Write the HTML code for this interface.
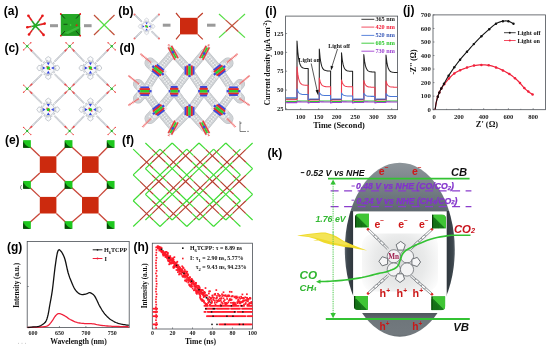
<!DOCTYPE html>
<html><head><meta charset="utf-8"><style>
html,body{margin:0;padding:0;background:#fff;}
svg{display:block;will-change:transform;}
</style></head><body>
<svg width="550" height="349" viewBox="0 0 550 349">
<rect width="550" height="349" fill="#fff"/>
<text x="3.80" y="15.20" font-size="12" fill="#000" font-weight="bold" font-family='"Liberation Sans", sans-serif' text-anchor="start" font-style="normal" >(a)</text>
<text x="118.20" y="15.20" font-size="12" fill="#000" font-weight="bold" font-family='"Liberation Sans", sans-serif' text-anchor="start" font-style="normal" >(b)</text>
<text x="4.40" y="52.10" font-size="12" fill="#000" font-weight="bold" font-family='"Liberation Sans", sans-serif' text-anchor="start" font-style="normal" >(c)</text>
<text x="119.40" y="51.90" font-size="12" fill="#000" font-weight="bold" font-family='"Liberation Sans", sans-serif' text-anchor="start" font-style="normal" >(d)</text>
<text x="4.90" y="143.70" font-size="12" fill="#000" font-weight="bold" font-family='"Liberation Sans", sans-serif' text-anchor="start" font-style="normal" >(e)</text>
<text x="121.90" y="144.20" font-size="12" fill="#000" font-weight="bold" font-family='"Liberation Sans", sans-serif' text-anchor="start" font-style="normal" >(f)</text>
<text x="6.90" y="251.00" font-size="12" fill="#000" font-weight="bold" font-family='"Liberation Sans", sans-serif' text-anchor="start" font-style="normal" >(g)</text>
<text x="133.50" y="250.90" font-size="12" fill="#000" font-weight="bold" font-family='"Liberation Sans", sans-serif' text-anchor="start" font-style="normal" >(h)</text>
<text x="265.30" y="15.20" font-size="12" fill="#000" font-weight="bold" font-family='"Liberation Sans", sans-serif' text-anchor="start" font-style="normal" >(i)</text>
<text x="403.10" y="13.90" font-size="12" fill="#000" font-weight="bold" font-family='"Liberation Sans", sans-serif' text-anchor="start" font-style="normal" >(j)</text>
<text x="267.50" y="157.20" font-size="12" fill="#000" font-weight="bold" font-family='"Liberation Sans", sans-serif' text-anchor="start" font-style="normal" >(k)</text>
<line x1="35.40" y1="25.70" x2="31.90" y2="20.70" stroke="#2aa02a" stroke-width="1.6" />
<line x1="31.90" y1="20.70" x2="28.40" y2="15.70" stroke="#e02020" stroke-width="1.6" />
<circle cx="28.40" cy="15.70" r="1.3" fill="#e81818" />
<line x1="35.40" y1="25.70" x2="38.95" y2="20.70" stroke="#2aa02a" stroke-width="1.6" />
<line x1="38.95" y1="20.70" x2="42.50" y2="15.70" stroke="#e02020" stroke-width="1.6" />
<circle cx="42.50" cy="15.70" r="1.3" fill="#e81818" />
<line x1="35.40" y1="25.70" x2="31.35" y2="26.50" stroke="#2aa02a" stroke-width="1.6" />
<line x1="31.35" y1="26.50" x2="27.30" y2="27.30" stroke="#e02020" stroke-width="1.6" />
<circle cx="27.30" cy="27.30" r="1.3" fill="#e81818" />
<line x1="35.40" y1="25.70" x2="40.05" y2="24.65" stroke="#2aa02a" stroke-width="1.6" />
<line x1="40.05" y1="24.65" x2="44.70" y2="23.60" stroke="#e02020" stroke-width="1.6" />
<circle cx="44.70" cy="23.60" r="1.3" fill="#e81818" />
<line x1="35.40" y1="25.70" x2="32.20" y2="30.10" stroke="#2aa02a" stroke-width="1.6" />
<line x1="32.20" y1="30.10" x2="29.00" y2="34.50" stroke="#e02020" stroke-width="1.6" />
<circle cx="29.00" cy="34.50" r="1.3" fill="#e81818" />
<line x1="35.40" y1="25.70" x2="39.50" y2="30.30" stroke="#2aa02a" stroke-width="1.6" />
<line x1="39.50" y1="30.30" x2="43.60" y2="34.90" stroke="#e02020" stroke-width="1.6" />
<circle cx="43.60" cy="34.90" r="1.3" fill="#e81818" />
<circle cx="35.40" cy="25.70" r="1.9" fill="#22b022" />
<rect x="50" y="24.2" width="8" height="3" fill="#9a9a9a"/>
<rect x="84" y="24.2" width="7.6" height="3" fill="#9a9a9a"/>
<rect x="60.8" y="14" width="19.4" height="21.7" fill="#27a827"/>
<polygon points="60.80,35.70 80.20,35.70 80.20,27.00 70.50,31.00" fill="#1f961f" stroke="none" stroke-width="1" />
<polygon points="64.00,33.00 78.00,26.50 80.00,28.00 68.00,34.00" fill="#3cbc3c" stroke="none" stroke-width="1" />
<line x1="60.80" y1="14.00" x2="64.87" y2="18.54" stroke="#0c2e0c" stroke-width="0.8" />
<circle cx="60.80" cy="14.00" r="0.9" fill="#e81818" />
<line x1="80.20" y1="14.00" x2="76.13" y2="18.54" stroke="#0c2e0c" stroke-width="0.8" />
<circle cx="80.20" cy="14.00" r="0.9" fill="#e81818" />
<line x1="60.80" y1="35.70" x2="64.87" y2="31.12" stroke="#0c2e0c" stroke-width="0.8" />
<circle cx="60.80" cy="35.70" r="0.9" fill="#e81818" />
<line x1="80.20" y1="35.70" x2="76.13" y2="31.12" stroke="#0c2e0c" stroke-width="0.8" />
<circle cx="80.20" cy="35.70" r="0.9" fill="#e81818" />
<line x1="63.50" y1="24.30" x2="67.50" y2="24.30" stroke="#0c2e0c" stroke-width="0.7" />
<circle cx="70.60" cy="25.00" r="0.8" fill="#44dd44" />
<circle cx="76.60" cy="25.30" r="0.95" fill="#e81818" />
<line x1="104.20" y1="25.00" x2="99.10" y2="20.00" stroke="#55dd44" stroke-width="1.2" />
<line x1="99.10" y1="20.00" x2="94.00" y2="15.00" stroke="#c0503a" stroke-width="1.2" />
<line x1="104.20" y1="25.00" x2="109.35" y2="20.00" stroke="#55dd44" stroke-width="1.2" />
<line x1="109.35" y1="20.00" x2="114.50" y2="15.00" stroke="#c0503a" stroke-width="1.2" />
<line x1="104.20" y1="25.00" x2="99.10" y2="30.00" stroke="#55dd44" stroke-width="1.2" />
<line x1="99.10" y1="30.00" x2="94.00" y2="35.00" stroke="#c0503a" stroke-width="1.2" />
<line x1="104.20" y1="25.00" x2="109.35" y2="30.00" stroke="#55dd44" stroke-width="1.2" />
<line x1="109.35" y1="30.00" x2="114.50" y2="35.00" stroke="#c0503a" stroke-width="1.2" />
<line x1="141.76" y1="21.64" x2="134.50" y2="14.50" stroke="#e2e4e8" stroke-width="1.4" />
<line x1="142.22" y1="21.18" x2="134.96" y2="14.04" stroke="#a4a8b0" stroke-width="0.45" />
<line x1="141.30" y1="22.10" x2="134.04" y2="14.96" stroke="#a4a8b0" stroke-width="0.45" />
<line x1="141.76" y1="21.64" x2="134.50" y2="14.50" stroke="#b8bcc4" stroke-width="1.1" stroke-dasharray="0.6 1.2"/>
<circle cx="134.50" cy="14.50" r="1.0" fill="#f07070" />
<line x1="151.56" y1="21.64" x2="159.00" y2="14.50" stroke="#e2e4e8" stroke-width="1.4" />
<line x1="152.01" y1="22.11" x2="159.45" y2="14.97" stroke="#a4a8b0" stroke-width="0.45" />
<line x1="151.11" y1="21.17" x2="158.55" y2="14.03" stroke="#a4a8b0" stroke-width="0.45" />
<line x1="151.56" y1="21.64" x2="159.00" y2="14.50" stroke="#b8bcc4" stroke-width="1.1" stroke-dasharray="0.6 1.2"/>
<circle cx="159.00" cy="14.50" r="1.0" fill="#f07070" />
<line x1="141.76" y1="31.28" x2="134.50" y2="38.60" stroke="#e2e4e8" stroke-width="1.4" />
<line x1="141.30" y1="30.82" x2="134.04" y2="38.14" stroke="#a4a8b0" stroke-width="0.45" />
<line x1="142.22" y1="31.74" x2="134.96" y2="39.06" stroke="#a4a8b0" stroke-width="0.45" />
<line x1="141.76" y1="31.28" x2="134.50" y2="38.60" stroke="#b8bcc4" stroke-width="1.1" stroke-dasharray="0.6 1.2"/>
<circle cx="134.50" cy="38.60" r="1.0" fill="#f07070" />
<line x1="151.56" y1="31.28" x2="159.00" y2="38.60" stroke="#e2e4e8" stroke-width="1.4" />
<line x1="151.10" y1="31.74" x2="158.54" y2="39.06" stroke="#a4a8b0" stroke-width="0.45" />
<line x1="152.02" y1="30.82" x2="159.46" y2="38.14" stroke="#a4a8b0" stroke-width="0.45" />
<line x1="151.56" y1="31.28" x2="159.00" y2="38.60" stroke="#b8bcc4" stroke-width="1.1" stroke-dasharray="0.6 1.2"/>
<circle cx="159.00" cy="38.60" r="1.0" fill="#f07070" />
<circle cx="146.6" cy="26.4" r="4.46" fill="#f7f8fa" stroke="#b4b9c2" stroke-width="0.54"/>
<polygon points="146.60,18.12 148.59,19.56 147.83,21.90 145.37,21.90 144.61,19.56" fill="#fafbfc" stroke="#b4b9c2" stroke-width="0.54" />
<polygon points="154.88,26.40 153.44,28.39 151.10,27.63 151.10,25.17 153.44,24.41" fill="#fafbfc" stroke="#b4b9c2" stroke-width="0.54" />
<polygon points="146.60,34.68 144.61,33.24 145.37,30.90 147.83,30.90 148.59,33.24" fill="#fafbfc" stroke="#b4b9c2" stroke-width="0.54" />
<polygon points="138.32,26.40 139.76,24.41 142.10,25.17 142.10,27.63 139.76,28.39" fill="#fafbfc" stroke="#b4b9c2" stroke-width="0.54" />
<circle cx="146.6" cy="26.4" r="5.33" fill="none" stroke="#c4c8cf" stroke-width="0.86" stroke-dasharray="1.58 1.01"/>
<polygon points="148.62,26.40 150.56,25.28 150.56,27.52" fill="#2f3fe0" stroke="none" stroke-width="1" />
<polygon points="146.60,28.42 147.72,30.36 145.48,30.36" fill="#2f3fe0" stroke="none" stroke-width="1" />
<polygon points="144.58,26.40 142.64,27.52 142.64,25.28" fill="#2f3fe0" stroke="none" stroke-width="1" />
<polygon points="146.60,24.38 145.48,22.44 147.72,22.44" fill="#2f3fe0" stroke="none" stroke-width="1" />
<circle cx="146.60" cy="26.40" r="1.224" fill="#22cc22" />
<circle cx="145.66" cy="25.46" r="0.504" fill="#ee2222" />
<circle cx="147.61" cy="27.41" r="0.504" fill="#ee2222" />
<rect x="162.8" y="23.7" width="7.7" height="3" fill="#9a9a9a"/>
<rect x="207" y="23.7" width="8.5" height="3" fill="#9a9a9a"/>
<line x1="180.00" y1="17.80" x2="176.00" y2="13.00" stroke="#c03c28" stroke-width="1.2" />
<line x1="197.70" y1="17.80" x2="202.80" y2="13.00" stroke="#c03c28" stroke-width="1.2" />
<line x1="180.00" y1="34.40" x2="176.00" y2="39.40" stroke="#c03c28" stroke-width="1.2" />
<line x1="197.70" y1="34.40" x2="202.80" y2="39.40" stroke="#c03c28" stroke-width="1.2" />
<rect x="180" y="17.8" width="17.7" height="16.6" fill="#cc2a10"/>
<line x1="232.00" y1="25.80" x2="225.50" y2="19.90" stroke="#c0503a" stroke-width="1.2" />
<line x1="225.50" y1="19.90" x2="219.00" y2="14.00" stroke="#55dd44" stroke-width="1.2" />
<line x1="232.00" y1="25.80" x2="238.50" y2="19.90" stroke="#c0503a" stroke-width="1.2" />
<line x1="238.50" y1="19.90" x2="245.00" y2="14.00" stroke="#55dd44" stroke-width="1.2" />
<line x1="232.00" y1="25.80" x2="225.50" y2="31.70" stroke="#c0503a" stroke-width="1.2" />
<line x1="225.50" y1="31.70" x2="219.00" y2="37.60" stroke="#55dd44" stroke-width="1.2" />
<line x1="232.00" y1="25.80" x2="238.50" y2="31.70" stroke="#c0503a" stroke-width="1.2" />
<line x1="238.50" y1="31.70" x2="245.00" y2="37.60" stroke="#55dd44" stroke-width="1.2" />
<line x1="42.03" y1="61.55" x2="29.64" y2="48.81" stroke="#e2e4e8" stroke-width="1.4" />
<line x1="42.49" y1="61.09" x2="30.11" y2="48.36" stroke="#aeb2ba" stroke-width="0.45" />
<line x1="41.56" y1="62.00" x2="29.17" y2="49.26" stroke="#aeb2ba" stroke-width="0.45" />
<line x1="42.03" y1="61.55" x2="29.64" y2="48.81" stroke="#b8bcc4" stroke-width="1.1" stroke-dasharray="0.6 1.2"/>
<circle cx="31.52" cy="50.75" r="0.9" fill="#f04848" />
<line x1="41.88" y1="74.30" x2="29.70" y2="86.25" stroke="#e2e4e8" stroke-width="1.4" />
<line x1="41.42" y1="73.84" x2="29.24" y2="85.78" stroke="#aeb2ba" stroke-width="0.45" />
<line x1="42.33" y1="74.77" x2="30.15" y2="86.71" stroke="#aeb2ba" stroke-width="0.45" />
<line x1="41.88" y1="74.30" x2="29.70" y2="86.25" stroke="#b8bcc4" stroke-width="1.1" stroke-dasharray="0.6 1.2"/>
<circle cx="31.63" cy="84.36" r="0.9" fill="#f04848" />
<line x1="54.60" y1="61.58" x2="67.15" y2="48.80" stroke="#e2e4e8" stroke-width="1.4" />
<line x1="55.07" y1="62.03" x2="67.61" y2="49.25" stroke="#aeb2ba" stroke-width="0.45" />
<line x1="54.14" y1="61.12" x2="66.68" y2="48.34" stroke="#aeb2ba" stroke-width="0.45" />
<line x1="54.60" y1="61.58" x2="67.15" y2="48.80" stroke="#b8bcc4" stroke-width="1.1" stroke-dasharray="0.6 1.2"/>
<circle cx="65.26" cy="50.72" r="0.9" fill="#f04848" />
<line x1="54.75" y1="74.27" x2="67.09" y2="86.26" stroke="#e2e4e8" stroke-width="1.4" />
<line x1="54.30" y1="74.74" x2="66.64" y2="86.73" stroke="#aeb2ba" stroke-width="0.45" />
<line x1="55.21" y1="73.81" x2="67.54" y2="85.79" stroke="#aeb2ba" stroke-width="0.45" />
<line x1="54.75" y1="74.27" x2="67.09" y2="86.26" stroke="#b8bcc4" stroke-width="1.1" stroke-dasharray="0.6 1.2"/>
<circle cx="65.15" cy="84.38" r="0.9" fill="#f04848" />
<line x1="41.91" y1="103.27" x2="29.69" y2="91.16" stroke="#e2e4e8" stroke-width="1.4" />
<line x1="42.36" y1="102.80" x2="30.14" y2="90.70" stroke="#aeb2ba" stroke-width="0.45" />
<line x1="41.45" y1="103.73" x2="29.23" y2="91.62" stroke="#aeb2ba" stroke-width="0.45" />
<line x1="41.91" y1="103.27" x2="29.69" y2="91.16" stroke="#b8bcc4" stroke-width="1.1" stroke-dasharray="0.6 1.2"/>
<circle cx="31.60" cy="93.06" r="0.9" fill="#f04848" />
<line x1="41.98" y1="116.01" x2="29.66" y2="128.51" stroke="#e2e4e8" stroke-width="1.4" />
<line x1="41.52" y1="115.55" x2="29.19" y2="128.05" stroke="#aeb2ba" stroke-width="0.45" />
<line x1="42.44" y1="116.47" x2="30.12" y2="128.96" stroke="#aeb2ba" stroke-width="0.45" />
<line x1="41.98" y1="116.01" x2="29.66" y2="128.51" stroke="#b8bcc4" stroke-width="1.1" stroke-dasharray="0.6 1.2"/>
<circle cx="31.55" cy="126.59" r="0.9" fill="#f04848" />
<line x1="54.72" y1="103.30" x2="67.10" y2="91.15" stroke="#e2e4e8" stroke-width="1.4" />
<line x1="55.18" y1="103.76" x2="67.56" y2="91.62" stroke="#aeb2ba" stroke-width="0.45" />
<line x1="54.27" y1="102.83" x2="66.65" y2="90.69" stroke="#aeb2ba" stroke-width="0.45" />
<line x1="54.72" y1="103.30" x2="67.10" y2="91.15" stroke="#b8bcc4" stroke-width="1.1" stroke-dasharray="0.6 1.2"/>
<circle cx="65.17" cy="93.04" r="0.9" fill="#f04848" />
<line x1="54.65" y1="115.98" x2="67.13" y2="128.52" stroke="#e2e4e8" stroke-width="1.4" />
<line x1="54.19" y1="116.44" x2="66.67" y2="128.98" stroke="#aeb2ba" stroke-width="0.45" />
<line x1="55.11" y1="115.52" x2="67.59" y2="128.06" stroke="#aeb2ba" stroke-width="0.45" />
<line x1="54.65" y1="115.98" x2="67.13" y2="128.52" stroke="#b8bcc4" stroke-width="1.1" stroke-dasharray="0.6 1.2"/>
<circle cx="65.23" cy="126.61" r="0.9" fill="#f04848" />
<line x1="84.17" y1="61.50" x2="72.02" y2="48.83" stroke="#e2e4e8" stroke-width="1.4" />
<line x1="84.64" y1="61.05" x2="72.49" y2="48.38" stroke="#aeb2ba" stroke-width="0.45" />
<line x1="83.70" y1="61.95" x2="71.55" y2="49.28" stroke="#aeb2ba" stroke-width="0.45" />
<line x1="84.17" y1="61.50" x2="72.02" y2="48.83" stroke="#b8bcc4" stroke-width="1.1" stroke-dasharray="0.6 1.2"/>
<circle cx="73.89" cy="50.78" r="0.9" fill="#f04848" />
<line x1="84.02" y1="74.35" x2="72.08" y2="86.23" stroke="#e2e4e8" stroke-width="1.4" />
<line x1="83.56" y1="73.89" x2="71.62" y2="85.77" stroke="#aeb2ba" stroke-width="0.45" />
<line x1="84.48" y1="74.81" x2="72.54" y2="86.69" stroke="#aeb2ba" stroke-width="0.45" />
<line x1="84.02" y1="74.35" x2="72.08" y2="86.23" stroke="#b8bcc4" stroke-width="1.1" stroke-dasharray="0.6 1.2"/>
<circle cx="73.99" cy="84.33" r="0.9" fill="#f04848" />
<line x1="96.70" y1="61.58" x2="109.25" y2="48.80" stroke="#e2e4e8" stroke-width="1.4" />
<line x1="97.17" y1="62.03" x2="109.71" y2="49.25" stroke="#aeb2ba" stroke-width="0.45" />
<line x1="96.24" y1="61.12" x2="108.78" y2="48.34" stroke="#aeb2ba" stroke-width="0.45" />
<line x1="96.70" y1="61.58" x2="109.25" y2="48.80" stroke="#b8bcc4" stroke-width="1.1" stroke-dasharray="0.6 1.2"/>
<circle cx="107.36" cy="50.72" r="0.9" fill="#f04848" />
<line x1="96.85" y1="74.27" x2="109.19" y2="86.26" stroke="#e2e4e8" stroke-width="1.4" />
<line x1="96.40" y1="74.74" x2="108.74" y2="86.73" stroke="#aeb2ba" stroke-width="0.45" />
<line x1="97.31" y1="73.81" x2="109.64" y2="85.79" stroke="#aeb2ba" stroke-width="0.45" />
<line x1="96.85" y1="74.27" x2="109.19" y2="86.26" stroke="#b8bcc4" stroke-width="1.1" stroke-dasharray="0.6 1.2"/>
<circle cx="107.25" cy="84.38" r="0.9" fill="#f04848" />
<line x1="84.05" y1="103.22" x2="72.07" y2="91.18" stroke="#e2e4e8" stroke-width="1.4" />
<line x1="84.51" y1="102.76" x2="72.53" y2="90.72" stroke="#aeb2ba" stroke-width="0.45" />
<line x1="83.59" y1="103.68" x2="71.61" y2="91.64" stroke="#aeb2ba" stroke-width="0.45" />
<line x1="84.05" y1="103.22" x2="72.07" y2="91.18" stroke="#b8bcc4" stroke-width="1.1" stroke-dasharray="0.6 1.2"/>
<circle cx="73.97" cy="93.09" r="0.9" fill="#f04848" />
<line x1="84.13" y1="116.05" x2="72.04" y2="128.49" stroke="#e2e4e8" stroke-width="1.4" />
<line x1="83.66" y1="115.60" x2="71.57" y2="128.04" stroke="#aeb2ba" stroke-width="0.45" />
<line x1="84.59" y1="116.51" x2="72.51" y2="128.94" stroke="#aeb2ba" stroke-width="0.45" />
<line x1="84.13" y1="116.05" x2="72.04" y2="128.49" stroke="#b8bcc4" stroke-width="1.1" stroke-dasharray="0.6 1.2"/>
<circle cx="73.92" cy="126.55" r="0.9" fill="#f04848" />
<line x1="96.82" y1="103.30" x2="109.20" y2="91.15" stroke="#e2e4e8" stroke-width="1.4" />
<line x1="97.28" y1="103.76" x2="109.66" y2="91.62" stroke="#aeb2ba" stroke-width="0.45" />
<line x1="96.37" y1="102.83" x2="108.75" y2="90.69" stroke="#aeb2ba" stroke-width="0.45" />
<line x1="96.82" y1="103.30" x2="109.20" y2="91.15" stroke="#b8bcc4" stroke-width="1.1" stroke-dasharray="0.6 1.2"/>
<circle cx="107.27" cy="93.04" r="0.9" fill="#f04848" />
<line x1="96.75" y1="115.98" x2="109.23" y2="128.52" stroke="#e2e4e8" stroke-width="1.4" />
<line x1="96.29" y1="116.44" x2="108.77" y2="128.98" stroke="#aeb2ba" stroke-width="0.45" />
<line x1="97.21" y1="115.52" x2="109.69" y2="128.06" stroke="#aeb2ba" stroke-width="0.45" />
<line x1="96.75" y1="115.98" x2="109.23" y2="128.52" stroke="#b8bcc4" stroke-width="1.1" stroke-dasharray="0.6 1.2"/>
<circle cx="107.33" cy="126.61" r="0.9" fill="#f04848" />
<circle cx="48.3" cy="68" r="6.20" fill="#f7f8fa" stroke="#b4b9c2" stroke-width="0.75"/>
<polygon points="48.30,56.50 51.06,58.50 50.00,61.75 46.60,61.75 45.54,58.50" fill="#fafbfc" stroke="#b4b9c2" stroke-width="0.75" />
<polygon points="59.80,68.00 57.80,70.76 54.55,69.70 54.55,66.30 57.80,65.24" fill="#fafbfc" stroke="#b4b9c2" stroke-width="0.75" />
<polygon points="48.30,79.50 45.54,77.50 46.60,74.25 50.00,74.25 51.06,77.50" fill="#fafbfc" stroke="#b4b9c2" stroke-width="0.75" />
<polygon points="36.80,68.00 38.80,65.24 42.05,66.30 42.05,69.70 38.80,70.76" fill="#fafbfc" stroke="#b4b9c2" stroke-width="0.75" />
<circle cx="48.3" cy="68" r="7.40" fill="none" stroke="#c4c8cf" stroke-width="1.20" stroke-dasharray="2.20 1.40"/>
<polygon points="51.10,68.00 53.80,66.44 53.80,69.56" fill="#2f3fe0" stroke="none" stroke-width="1" />
<polygon points="48.30,70.80 49.86,73.50 46.74,73.50" fill="#2f3fe0" stroke="none" stroke-width="1" />
<polygon points="45.50,68.00 42.80,69.56 42.80,66.44" fill="#2f3fe0" stroke="none" stroke-width="1" />
<polygon points="48.30,65.20 46.74,62.50 49.86,62.50" fill="#2f3fe0" stroke="none" stroke-width="1" />
<circle cx="48.30" cy="68.00" r="1.7" fill="#22cc22" />
<circle cx="47.00" cy="66.70" r="0.7" fill="#ee2222" />
<circle cx="49.70" cy="69.40" r="0.7" fill="#ee2222" />
<circle cx="48.3" cy="109.6" r="6.20" fill="#f7f8fa" stroke="#b4b9c2" stroke-width="0.75"/>
<polygon points="48.30,98.10 51.06,100.10 50.00,103.35 46.60,103.35 45.54,100.10" fill="#fafbfc" stroke="#b4b9c2" stroke-width="0.75" />
<polygon points="59.80,109.60 57.80,112.36 54.55,111.30 54.55,107.90 57.80,106.84" fill="#fafbfc" stroke="#b4b9c2" stroke-width="0.75" />
<polygon points="48.30,121.10 45.54,119.10 46.60,115.85 50.00,115.85 51.06,119.10" fill="#fafbfc" stroke="#b4b9c2" stroke-width="0.75" />
<polygon points="36.80,109.60 38.80,106.84 42.05,107.90 42.05,111.30 38.80,112.36" fill="#fafbfc" stroke="#b4b9c2" stroke-width="0.75" />
<circle cx="48.3" cy="109.6" r="7.40" fill="none" stroke="#c4c8cf" stroke-width="1.20" stroke-dasharray="2.20 1.40"/>
<polygon points="51.10,109.60 53.80,108.04 53.80,111.16" fill="#2f3fe0" stroke="none" stroke-width="1" />
<polygon points="48.30,112.40 49.86,115.10 46.74,115.10" fill="#2f3fe0" stroke="none" stroke-width="1" />
<polygon points="45.50,109.60 42.80,111.16 42.80,108.04" fill="#2f3fe0" stroke="none" stroke-width="1" />
<polygon points="48.30,106.80 46.74,104.10 49.86,104.10" fill="#2f3fe0" stroke="none" stroke-width="1" />
<circle cx="48.30" cy="109.60" r="1.7" fill="#22cc22" />
<circle cx="47.00" cy="108.30" r="0.7" fill="#ee2222" />
<circle cx="49.70" cy="111.00" r="0.7" fill="#ee2222" />
<circle cx="90.4" cy="68" r="6.20" fill="#f7f8fa" stroke="#b4b9c2" stroke-width="0.75"/>
<polygon points="90.40,56.50 93.16,58.50 92.10,61.75 88.70,61.75 87.64,58.50" fill="#fafbfc" stroke="#b4b9c2" stroke-width="0.75" />
<polygon points="101.90,68.00 99.90,70.76 96.65,69.70 96.65,66.30 99.90,65.24" fill="#fafbfc" stroke="#b4b9c2" stroke-width="0.75" />
<polygon points="90.40,79.50 87.64,77.50 88.70,74.25 92.10,74.25 93.16,77.50" fill="#fafbfc" stroke="#b4b9c2" stroke-width="0.75" />
<polygon points="78.90,68.00 80.90,65.24 84.15,66.30 84.15,69.70 80.90,70.76" fill="#fafbfc" stroke="#b4b9c2" stroke-width="0.75" />
<circle cx="90.4" cy="68" r="7.40" fill="none" stroke="#c4c8cf" stroke-width="1.20" stroke-dasharray="2.20 1.40"/>
<polygon points="93.20,68.00 95.90,66.44 95.90,69.56" fill="#2f3fe0" stroke="none" stroke-width="1" />
<polygon points="90.40,70.80 91.96,73.50 88.84,73.50" fill="#2f3fe0" stroke="none" stroke-width="1" />
<polygon points="87.60,68.00 84.90,69.56 84.90,66.44" fill="#2f3fe0" stroke="none" stroke-width="1" />
<polygon points="90.40,65.20 88.84,62.50 91.96,62.50" fill="#2f3fe0" stroke="none" stroke-width="1" />
<circle cx="90.40" cy="68.00" r="1.7" fill="#22cc22" />
<circle cx="89.10" cy="66.70" r="0.7" fill="#ee2222" />
<circle cx="91.80" cy="69.40" r="0.7" fill="#ee2222" />
<circle cx="90.4" cy="109.6" r="6.20" fill="#f7f8fa" stroke="#b4b9c2" stroke-width="0.75"/>
<polygon points="90.40,98.10 93.16,100.10 92.10,103.35 88.70,103.35 87.64,100.10" fill="#fafbfc" stroke="#b4b9c2" stroke-width="0.75" />
<polygon points="101.90,109.60 99.90,112.36 96.65,111.30 96.65,107.90 99.90,106.84" fill="#fafbfc" stroke="#b4b9c2" stroke-width="0.75" />
<polygon points="90.40,121.10 87.64,119.10 88.70,115.85 92.10,115.85 93.16,119.10" fill="#fafbfc" stroke="#b4b9c2" stroke-width="0.75" />
<polygon points="78.90,109.60 80.90,106.84 84.15,107.90 84.15,111.30 80.90,112.36" fill="#fafbfc" stroke="#b4b9c2" stroke-width="0.75" />
<circle cx="90.4" cy="109.6" r="7.40" fill="none" stroke="#c4c8cf" stroke-width="1.20" stroke-dasharray="2.20 1.40"/>
<polygon points="93.20,109.60 95.90,108.04 95.90,111.16" fill="#2f3fe0" stroke="none" stroke-width="1" />
<polygon points="90.40,112.40 91.96,115.10 88.84,115.10" fill="#2f3fe0" stroke="none" stroke-width="1" />
<polygon points="87.60,109.60 84.90,111.16 84.90,108.04" fill="#2f3fe0" stroke="none" stroke-width="1" />
<polygon points="90.40,106.80 88.84,104.10 91.96,104.10" fill="#2f3fe0" stroke="none" stroke-width="1" />
<circle cx="90.40" cy="109.60" r="1.7" fill="#22cc22" />
<circle cx="89.10" cy="108.30" r="0.7" fill="#ee2222" />
<circle cx="91.80" cy="111.00" r="0.7" fill="#ee2222" />
<line x1="27.20" y1="46.30" x2="25.40" y2="44.50" stroke="#40c040" stroke-width="1.0" />
<line x1="25.40" y1="44.50" x2="23.60" y2="42.70" stroke="#f06060" stroke-width="1.0" />
<circle cx="23.60" cy="42.70" r="0.7" fill="#f04848" />
<line x1="27.20" y1="46.30" x2="29.00" y2="44.50" stroke="#40c040" stroke-width="1.0" />
<line x1="29.00" y1="44.50" x2="30.80" y2="42.70" stroke="#f06060" stroke-width="1.0" />
<circle cx="30.80" cy="42.70" r="0.7" fill="#f04848" />
<line x1="27.20" y1="46.30" x2="25.40" y2="48.10" stroke="#40c040" stroke-width="1.0" />
<line x1="25.40" y1="48.10" x2="23.60" y2="49.90" stroke="#f06060" stroke-width="1.0" />
<circle cx="23.60" cy="49.90" r="0.7" fill="#f04848" />
<line x1="27.20" y1="46.30" x2="29.00" y2="48.10" stroke="#40c040" stroke-width="1.0" />
<line x1="29.00" y1="48.10" x2="30.80" y2="49.90" stroke="#f06060" stroke-width="1.0" />
<circle cx="30.80" cy="49.90" r="0.7" fill="#f04848" />
<circle cx="27.20" cy="46.30" r="1.0" fill="#28b028" />
<line x1="27.20" y1="88.70" x2="25.40" y2="86.90" stroke="#40c040" stroke-width="1.0" />
<line x1="25.40" y1="86.90" x2="23.60" y2="85.10" stroke="#f06060" stroke-width="1.0" />
<circle cx="23.60" cy="85.10" r="0.7" fill="#f04848" />
<line x1="27.20" y1="88.70" x2="29.00" y2="86.90" stroke="#40c040" stroke-width="1.0" />
<line x1="29.00" y1="86.90" x2="30.80" y2="85.10" stroke="#f06060" stroke-width="1.0" />
<circle cx="30.80" cy="85.10" r="0.7" fill="#f04848" />
<line x1="27.20" y1="88.70" x2="25.40" y2="90.50" stroke="#40c040" stroke-width="1.0" />
<line x1="25.40" y1="90.50" x2="23.60" y2="92.30" stroke="#f06060" stroke-width="1.0" />
<circle cx="23.60" cy="92.30" r="0.7" fill="#f04848" />
<line x1="27.20" y1="88.70" x2="29.00" y2="90.50" stroke="#40c040" stroke-width="1.0" />
<line x1="29.00" y1="90.50" x2="30.80" y2="92.30" stroke="#f06060" stroke-width="1.0" />
<circle cx="30.80" cy="92.30" r="0.7" fill="#f04848" />
<circle cx="27.20" cy="88.70" r="1.0" fill="#28b028" />
<line x1="27.20" y1="131.00" x2="25.40" y2="129.20" stroke="#40c040" stroke-width="1.0" />
<line x1="25.40" y1="129.20" x2="23.60" y2="127.40" stroke="#f06060" stroke-width="1.0" />
<circle cx="23.60" cy="127.40" r="0.7" fill="#f04848" />
<line x1="27.20" y1="131.00" x2="29.00" y2="129.20" stroke="#40c040" stroke-width="1.0" />
<line x1="29.00" y1="129.20" x2="30.80" y2="127.40" stroke="#f06060" stroke-width="1.0" />
<circle cx="30.80" cy="127.40" r="0.7" fill="#f04848" />
<line x1="27.20" y1="131.00" x2="25.40" y2="132.80" stroke="#40c040" stroke-width="1.0" />
<line x1="25.40" y1="132.80" x2="23.60" y2="134.60" stroke="#f06060" stroke-width="1.0" />
<circle cx="23.60" cy="134.60" r="0.7" fill="#f04848" />
<line x1="27.20" y1="131.00" x2="29.00" y2="132.80" stroke="#40c040" stroke-width="1.0" />
<line x1="29.00" y1="132.80" x2="30.80" y2="134.60" stroke="#f06060" stroke-width="1.0" />
<circle cx="30.80" cy="134.60" r="0.7" fill="#f04848" />
<circle cx="27.20" cy="131.00" r="1.0" fill="#28b028" />
<line x1="69.60" y1="46.30" x2="67.80" y2="44.50" stroke="#40c040" stroke-width="1.0" />
<line x1="67.80" y1="44.50" x2="66.00" y2="42.70" stroke="#f06060" stroke-width="1.0" />
<circle cx="66.00" cy="42.70" r="0.7" fill="#f04848" />
<line x1="69.60" y1="46.30" x2="71.40" y2="44.50" stroke="#40c040" stroke-width="1.0" />
<line x1="71.40" y1="44.50" x2="73.20" y2="42.70" stroke="#f06060" stroke-width="1.0" />
<circle cx="73.20" cy="42.70" r="0.7" fill="#f04848" />
<line x1="69.60" y1="46.30" x2="67.80" y2="48.10" stroke="#40c040" stroke-width="1.0" />
<line x1="67.80" y1="48.10" x2="66.00" y2="49.90" stroke="#f06060" stroke-width="1.0" />
<circle cx="66.00" cy="49.90" r="0.7" fill="#f04848" />
<line x1="69.60" y1="46.30" x2="71.40" y2="48.10" stroke="#40c040" stroke-width="1.0" />
<line x1="71.40" y1="48.10" x2="73.20" y2="49.90" stroke="#f06060" stroke-width="1.0" />
<circle cx="73.20" cy="49.90" r="0.7" fill="#f04848" />
<circle cx="69.60" cy="46.30" r="1.0" fill="#28b028" />
<line x1="69.60" y1="88.70" x2="67.80" y2="86.90" stroke="#40c040" stroke-width="1.0" />
<line x1="67.80" y1="86.90" x2="66.00" y2="85.10" stroke="#f06060" stroke-width="1.0" />
<circle cx="66.00" cy="85.10" r="0.7" fill="#f04848" />
<line x1="69.60" y1="88.70" x2="71.40" y2="86.90" stroke="#40c040" stroke-width="1.0" />
<line x1="71.40" y1="86.90" x2="73.20" y2="85.10" stroke="#f06060" stroke-width="1.0" />
<circle cx="73.20" cy="85.10" r="0.7" fill="#f04848" />
<line x1="69.60" y1="88.70" x2="67.80" y2="90.50" stroke="#40c040" stroke-width="1.0" />
<line x1="67.80" y1="90.50" x2="66.00" y2="92.30" stroke="#f06060" stroke-width="1.0" />
<circle cx="66.00" cy="92.30" r="0.7" fill="#f04848" />
<line x1="69.60" y1="88.70" x2="71.40" y2="90.50" stroke="#40c040" stroke-width="1.0" />
<line x1="71.40" y1="90.50" x2="73.20" y2="92.30" stroke="#f06060" stroke-width="1.0" />
<circle cx="73.20" cy="92.30" r="0.7" fill="#f04848" />
<circle cx="69.60" cy="88.70" r="1.0" fill="#28b028" />
<line x1="69.60" y1="131.00" x2="67.80" y2="129.20" stroke="#40c040" stroke-width="1.0" />
<line x1="67.80" y1="129.20" x2="66.00" y2="127.40" stroke="#f06060" stroke-width="1.0" />
<circle cx="66.00" cy="127.40" r="0.7" fill="#f04848" />
<line x1="69.60" y1="131.00" x2="71.40" y2="129.20" stroke="#40c040" stroke-width="1.0" />
<line x1="71.40" y1="129.20" x2="73.20" y2="127.40" stroke="#f06060" stroke-width="1.0" />
<circle cx="73.20" cy="127.40" r="0.7" fill="#f04848" />
<line x1="69.60" y1="131.00" x2="67.80" y2="132.80" stroke="#40c040" stroke-width="1.0" />
<line x1="67.80" y1="132.80" x2="66.00" y2="134.60" stroke="#f06060" stroke-width="1.0" />
<circle cx="66.00" cy="134.60" r="0.7" fill="#f04848" />
<line x1="69.60" y1="131.00" x2="71.40" y2="132.80" stroke="#40c040" stroke-width="1.0" />
<line x1="71.40" y1="132.80" x2="73.20" y2="134.60" stroke="#f06060" stroke-width="1.0" />
<circle cx="73.20" cy="134.60" r="0.7" fill="#f04848" />
<circle cx="69.60" cy="131.00" r="1.0" fill="#28b028" />
<line x1="111.70" y1="46.30" x2="109.90" y2="44.50" stroke="#40c040" stroke-width="1.0" />
<line x1="109.90" y1="44.50" x2="108.10" y2="42.70" stroke="#f06060" stroke-width="1.0" />
<circle cx="108.10" cy="42.70" r="0.7" fill="#f04848" />
<line x1="111.70" y1="46.30" x2="113.50" y2="44.50" stroke="#40c040" stroke-width="1.0" />
<line x1="113.50" y1="44.50" x2="115.30" y2="42.70" stroke="#f06060" stroke-width="1.0" />
<circle cx="115.30" cy="42.70" r="0.7" fill="#f04848" />
<line x1="111.70" y1="46.30" x2="109.90" y2="48.10" stroke="#40c040" stroke-width="1.0" />
<line x1="109.90" y1="48.10" x2="108.10" y2="49.90" stroke="#f06060" stroke-width="1.0" />
<circle cx="108.10" cy="49.90" r="0.7" fill="#f04848" />
<line x1="111.70" y1="46.30" x2="113.50" y2="48.10" stroke="#40c040" stroke-width="1.0" />
<line x1="113.50" y1="48.10" x2="115.30" y2="49.90" stroke="#f06060" stroke-width="1.0" />
<circle cx="115.30" cy="49.90" r="0.7" fill="#f04848" />
<circle cx="111.70" cy="46.30" r="1.0" fill="#28b028" />
<line x1="111.70" y1="88.70" x2="109.90" y2="86.90" stroke="#40c040" stroke-width="1.0" />
<line x1="109.90" y1="86.90" x2="108.10" y2="85.10" stroke="#f06060" stroke-width="1.0" />
<circle cx="108.10" cy="85.10" r="0.7" fill="#f04848" />
<line x1="111.70" y1="88.70" x2="113.50" y2="86.90" stroke="#40c040" stroke-width="1.0" />
<line x1="113.50" y1="86.90" x2="115.30" y2="85.10" stroke="#f06060" stroke-width="1.0" />
<circle cx="115.30" cy="85.10" r="0.7" fill="#f04848" />
<line x1="111.70" y1="88.70" x2="109.90" y2="90.50" stroke="#40c040" stroke-width="1.0" />
<line x1="109.90" y1="90.50" x2="108.10" y2="92.30" stroke="#f06060" stroke-width="1.0" />
<circle cx="108.10" cy="92.30" r="0.7" fill="#f04848" />
<line x1="111.70" y1="88.70" x2="113.50" y2="90.50" stroke="#40c040" stroke-width="1.0" />
<line x1="113.50" y1="90.50" x2="115.30" y2="92.30" stroke="#f06060" stroke-width="1.0" />
<circle cx="115.30" cy="92.30" r="0.7" fill="#f04848" />
<circle cx="111.70" cy="88.70" r="1.0" fill="#28b028" />
<line x1="111.70" y1="131.00" x2="109.90" y2="129.20" stroke="#40c040" stroke-width="1.0" />
<line x1="109.90" y1="129.20" x2="108.10" y2="127.40" stroke="#f06060" stroke-width="1.0" />
<circle cx="108.10" cy="127.40" r="0.7" fill="#f04848" />
<line x1="111.70" y1="131.00" x2="113.50" y2="129.20" stroke="#40c040" stroke-width="1.0" />
<line x1="113.50" y1="129.20" x2="115.30" y2="127.40" stroke="#f06060" stroke-width="1.0" />
<circle cx="115.30" cy="127.40" r="0.7" fill="#f04848" />
<line x1="111.70" y1="131.00" x2="109.90" y2="132.80" stroke="#40c040" stroke-width="1.0" />
<line x1="109.90" y1="132.80" x2="108.10" y2="134.60" stroke="#f06060" stroke-width="1.0" />
<circle cx="108.10" cy="134.60" r="0.7" fill="#f04848" />
<line x1="111.70" y1="131.00" x2="113.50" y2="132.80" stroke="#40c040" stroke-width="1.0" />
<line x1="113.50" y1="132.80" x2="115.30" y2="134.60" stroke="#f06060" stroke-width="1.0" />
<circle cx="115.30" cy="134.60" r="0.7" fill="#f04848" />
<circle cx="111.70" cy="131.00" r="1.0" fill="#28b028" />
<line x1="189.50" y1="70.50" x2="174.20" y2="91.20" stroke="#b8bcc0" stroke-width="8.0" stroke-linecap="round"/>
<line x1="189.50" y1="70.50" x2="203.60" y2="91.20" stroke="#b8bcc0" stroke-width="8.0" stroke-linecap="round"/>
<line x1="174.20" y1="91.20" x2="189.50" y2="111.00" stroke="#b8bcc0" stroke-width="8.0" stroke-linecap="round"/>
<line x1="203.60" y1="91.20" x2="189.50" y2="111.00" stroke="#b8bcc0" stroke-width="8.0" stroke-linecap="round"/>
<line x1="174.20" y1="91.20" x2="158.00" y2="70.40" stroke="#b8bcc0" stroke-width="8.0" stroke-linecap="round"/>
<line x1="174.20" y1="91.20" x2="158.50" y2="109.80" stroke="#b8bcc0" stroke-width="8.0" stroke-linecap="round"/>
<line x1="203.60" y1="91.20" x2="219.50" y2="70.40" stroke="#b8bcc0" stroke-width="8.0" stroke-linecap="round"/>
<line x1="203.60" y1="91.20" x2="219.50" y2="109.80" stroke="#b8bcc0" stroke-width="8.0" stroke-linecap="round"/>
<line x1="158.00" y1="70.40" x2="144.70" y2="91.20" stroke="#b8bcc0" stroke-width="8.0" stroke-linecap="round"/>
<line x1="158.50" y1="109.80" x2="144.70" y2="91.20" stroke="#b8bcc0" stroke-width="8.0" stroke-linecap="round"/>
<line x1="219.50" y1="70.40" x2="233.50" y2="91.20" stroke="#b8bcc0" stroke-width="8.0" stroke-linecap="round"/>
<line x1="219.50" y1="109.80" x2="233.50" y2="91.20" stroke="#b8bcc0" stroke-width="8.0" stroke-linecap="round"/>
<line x1="173.20" y1="52.80" x2="189.50" y2="70.50" stroke="#b8bcc0" stroke-width="8.0" stroke-linecap="round"/>
<line x1="204.50" y1="52.80" x2="189.50" y2="70.50" stroke="#b8bcc0" stroke-width="8.0" stroke-linecap="round"/>
<line x1="173.20" y1="127.70" x2="189.50" y2="111.00" stroke="#b8bcc0" stroke-width="8.0" stroke-linecap="round"/>
<line x1="204.50" y1="127.70" x2="189.50" y2="111.00" stroke="#b8bcc0" stroke-width="8.0" stroke-linecap="round"/>
<line x1="158.00" y1="70.40" x2="173.20" y2="52.80" stroke="#b8bcc0" stroke-width="8.0" stroke-linecap="round"/>
<line x1="219.50" y1="70.40" x2="204.50" y2="52.80" stroke="#b8bcc0" stroke-width="8.0" stroke-linecap="round"/>
<line x1="158.50" y1="109.80" x2="173.20" y2="127.70" stroke="#b8bcc0" stroke-width="8.0" stroke-linecap="round"/>
<line x1="219.50" y1="109.80" x2="204.50" y2="127.70" stroke="#b8bcc0" stroke-width="8.0" stroke-linecap="round"/>
<line x1="158.00" y1="70.40" x2="150.00" y2="63.00" stroke="#b8bcc0" stroke-width="11.0" stroke-linecap="round"/>
<line x1="219.50" y1="70.40" x2="228.00" y2="63.00" stroke="#b8bcc0" stroke-width="11.0" stroke-linecap="round"/>
<line x1="144.70" y1="91.20" x2="138.00" y2="84.00" stroke="#b8bcc0" stroke-width="10.0" stroke-linecap="round"/>
<line x1="144.70" y1="91.20" x2="138.00" y2="98.50" stroke="#b8bcc0" stroke-width="10.0" stroke-linecap="round"/>
<line x1="233.50" y1="91.20" x2="240.00" y2="84.00" stroke="#b8bcc0" stroke-width="10.0" stroke-linecap="round"/>
<line x1="233.50" y1="91.20" x2="240.00" y2="98.50" stroke="#b8bcc0" stroke-width="10.0" stroke-linecap="round"/>
<line x1="158.50" y1="109.80" x2="150.00" y2="118.50" stroke="#b8bcc0" stroke-width="11.0" stroke-linecap="round"/>
<line x1="219.50" y1="109.80" x2="228.00" y2="118.50" stroke="#b8bcc0" stroke-width="11.0" stroke-linecap="round"/>
<line x1="189.50" y1="70.50" x2="174.20" y2="91.20" stroke="#d0d3d6" stroke-width="7" stroke-linecap="round"/>
<line x1="189.50" y1="70.50" x2="174.20" y2="91.20" stroke="#f2f3f4" stroke-width="3.85" stroke-dasharray="1.2 1.4"/>
<line x1="189.50" y1="70.50" x2="174.20" y2="91.20" stroke="#a9adb1" stroke-width="0.5"/>
<line x1="189.50" y1="70.50" x2="203.60" y2="91.20" stroke="#d0d3d6" stroke-width="7" stroke-linecap="round"/>
<line x1="189.50" y1="70.50" x2="203.60" y2="91.20" stroke="#f2f3f4" stroke-width="3.85" stroke-dasharray="1.2 1.4"/>
<line x1="189.50" y1="70.50" x2="203.60" y2="91.20" stroke="#a9adb1" stroke-width="0.5"/>
<line x1="174.20" y1="91.20" x2="189.50" y2="111.00" stroke="#d0d3d6" stroke-width="7" stroke-linecap="round"/>
<line x1="174.20" y1="91.20" x2="189.50" y2="111.00" stroke="#f2f3f4" stroke-width="3.85" stroke-dasharray="1.2 1.4"/>
<line x1="174.20" y1="91.20" x2="189.50" y2="111.00" stroke="#a9adb1" stroke-width="0.5"/>
<line x1="203.60" y1="91.20" x2="189.50" y2="111.00" stroke="#d0d3d6" stroke-width="7" stroke-linecap="round"/>
<line x1="203.60" y1="91.20" x2="189.50" y2="111.00" stroke="#f2f3f4" stroke-width="3.85" stroke-dasharray="1.2 1.4"/>
<line x1="203.60" y1="91.20" x2="189.50" y2="111.00" stroke="#a9adb1" stroke-width="0.5"/>
<line x1="174.20" y1="91.20" x2="158.00" y2="70.40" stroke="#d0d3d6" stroke-width="7" stroke-linecap="round"/>
<line x1="174.20" y1="91.20" x2="158.00" y2="70.40" stroke="#f2f3f4" stroke-width="3.85" stroke-dasharray="1.2 1.4"/>
<line x1="174.20" y1="91.20" x2="158.00" y2="70.40" stroke="#a9adb1" stroke-width="0.5"/>
<line x1="174.20" y1="91.20" x2="158.50" y2="109.80" stroke="#d0d3d6" stroke-width="7" stroke-linecap="round"/>
<line x1="174.20" y1="91.20" x2="158.50" y2="109.80" stroke="#f2f3f4" stroke-width="3.85" stroke-dasharray="1.2 1.4"/>
<line x1="174.20" y1="91.20" x2="158.50" y2="109.80" stroke="#a9adb1" stroke-width="0.5"/>
<line x1="203.60" y1="91.20" x2="219.50" y2="70.40" stroke="#d0d3d6" stroke-width="7" stroke-linecap="round"/>
<line x1="203.60" y1="91.20" x2="219.50" y2="70.40" stroke="#f2f3f4" stroke-width="3.85" stroke-dasharray="1.2 1.4"/>
<line x1="203.60" y1="91.20" x2="219.50" y2="70.40" stroke="#a9adb1" stroke-width="0.5"/>
<line x1="203.60" y1="91.20" x2="219.50" y2="109.80" stroke="#d0d3d6" stroke-width="7" stroke-linecap="round"/>
<line x1="203.60" y1="91.20" x2="219.50" y2="109.80" stroke="#f2f3f4" stroke-width="3.85" stroke-dasharray="1.2 1.4"/>
<line x1="203.60" y1="91.20" x2="219.50" y2="109.80" stroke="#a9adb1" stroke-width="0.5"/>
<line x1="158.00" y1="70.40" x2="144.70" y2="91.20" stroke="#d0d3d6" stroke-width="7" stroke-linecap="round"/>
<line x1="158.00" y1="70.40" x2="144.70" y2="91.20" stroke="#f2f3f4" stroke-width="3.85" stroke-dasharray="1.2 1.4"/>
<line x1="158.00" y1="70.40" x2="144.70" y2="91.20" stroke="#a9adb1" stroke-width="0.5"/>
<line x1="158.50" y1="109.80" x2="144.70" y2="91.20" stroke="#d0d3d6" stroke-width="7" stroke-linecap="round"/>
<line x1="158.50" y1="109.80" x2="144.70" y2="91.20" stroke="#f2f3f4" stroke-width="3.85" stroke-dasharray="1.2 1.4"/>
<line x1="158.50" y1="109.80" x2="144.70" y2="91.20" stroke="#a9adb1" stroke-width="0.5"/>
<line x1="219.50" y1="70.40" x2="233.50" y2="91.20" stroke="#d0d3d6" stroke-width="7" stroke-linecap="round"/>
<line x1="219.50" y1="70.40" x2="233.50" y2="91.20" stroke="#f2f3f4" stroke-width="3.85" stroke-dasharray="1.2 1.4"/>
<line x1="219.50" y1="70.40" x2="233.50" y2="91.20" stroke="#a9adb1" stroke-width="0.5"/>
<line x1="219.50" y1="109.80" x2="233.50" y2="91.20" stroke="#d0d3d6" stroke-width="7" stroke-linecap="round"/>
<line x1="219.50" y1="109.80" x2="233.50" y2="91.20" stroke="#f2f3f4" stroke-width="3.85" stroke-dasharray="1.2 1.4"/>
<line x1="219.50" y1="109.80" x2="233.50" y2="91.20" stroke="#a9adb1" stroke-width="0.5"/>
<line x1="173.20" y1="52.80" x2="189.50" y2="70.50" stroke="#d0d3d6" stroke-width="7" stroke-linecap="round"/>
<line x1="173.20" y1="52.80" x2="189.50" y2="70.50" stroke="#f2f3f4" stroke-width="3.85" stroke-dasharray="1.2 1.4"/>
<line x1="173.20" y1="52.80" x2="189.50" y2="70.50" stroke="#a9adb1" stroke-width="0.5"/>
<line x1="204.50" y1="52.80" x2="189.50" y2="70.50" stroke="#d0d3d6" stroke-width="7" stroke-linecap="round"/>
<line x1="204.50" y1="52.80" x2="189.50" y2="70.50" stroke="#f2f3f4" stroke-width="3.85" stroke-dasharray="1.2 1.4"/>
<line x1="204.50" y1="52.80" x2="189.50" y2="70.50" stroke="#a9adb1" stroke-width="0.5"/>
<line x1="173.20" y1="127.70" x2="189.50" y2="111.00" stroke="#d0d3d6" stroke-width="7" stroke-linecap="round"/>
<line x1="173.20" y1="127.70" x2="189.50" y2="111.00" stroke="#f2f3f4" stroke-width="3.85" stroke-dasharray="1.2 1.4"/>
<line x1="173.20" y1="127.70" x2="189.50" y2="111.00" stroke="#a9adb1" stroke-width="0.5"/>
<line x1="204.50" y1="127.70" x2="189.50" y2="111.00" stroke="#d0d3d6" stroke-width="7" stroke-linecap="round"/>
<line x1="204.50" y1="127.70" x2="189.50" y2="111.00" stroke="#f2f3f4" stroke-width="3.85" stroke-dasharray="1.2 1.4"/>
<line x1="204.50" y1="127.70" x2="189.50" y2="111.00" stroke="#a9adb1" stroke-width="0.5"/>
<line x1="158.00" y1="70.40" x2="173.20" y2="52.80" stroke="#d0d3d6" stroke-width="7" stroke-linecap="round"/>
<line x1="158.00" y1="70.40" x2="173.20" y2="52.80" stroke="#f2f3f4" stroke-width="3.85" stroke-dasharray="1.2 1.4"/>
<line x1="158.00" y1="70.40" x2="173.20" y2="52.80" stroke="#a9adb1" stroke-width="0.5"/>
<line x1="219.50" y1="70.40" x2="204.50" y2="52.80" stroke="#d0d3d6" stroke-width="7" stroke-linecap="round"/>
<line x1="219.50" y1="70.40" x2="204.50" y2="52.80" stroke="#f2f3f4" stroke-width="3.85" stroke-dasharray="1.2 1.4"/>
<line x1="219.50" y1="70.40" x2="204.50" y2="52.80" stroke="#a9adb1" stroke-width="0.5"/>
<line x1="158.50" y1="109.80" x2="173.20" y2="127.70" stroke="#d0d3d6" stroke-width="7" stroke-linecap="round"/>
<line x1="158.50" y1="109.80" x2="173.20" y2="127.70" stroke="#f2f3f4" stroke-width="3.85" stroke-dasharray="1.2 1.4"/>
<line x1="158.50" y1="109.80" x2="173.20" y2="127.70" stroke="#a9adb1" stroke-width="0.5"/>
<line x1="219.50" y1="109.80" x2="204.50" y2="127.70" stroke="#d0d3d6" stroke-width="7" stroke-linecap="round"/>
<line x1="219.50" y1="109.80" x2="204.50" y2="127.70" stroke="#f2f3f4" stroke-width="3.85" stroke-dasharray="1.2 1.4"/>
<line x1="219.50" y1="109.80" x2="204.50" y2="127.70" stroke="#a9adb1" stroke-width="0.5"/>
<line x1="158.00" y1="70.40" x2="150.00" y2="63.00" stroke="#d0d3d6" stroke-width="10" stroke-linecap="round"/>
<line x1="158.00" y1="70.40" x2="150.00" y2="63.00" stroke="#f2f3f4" stroke-width="5.50" stroke-dasharray="1.2 1.4"/>
<line x1="158.00" y1="70.40" x2="150.00" y2="63.00" stroke="#a9adb1" stroke-width="0.5"/>
<line x1="219.50" y1="70.40" x2="228.00" y2="63.00" stroke="#d0d3d6" stroke-width="10" stroke-linecap="round"/>
<line x1="219.50" y1="70.40" x2="228.00" y2="63.00" stroke="#f2f3f4" stroke-width="5.50" stroke-dasharray="1.2 1.4"/>
<line x1="219.50" y1="70.40" x2="228.00" y2="63.00" stroke="#a9adb1" stroke-width="0.5"/>
<line x1="144.70" y1="91.20" x2="138.00" y2="84.00" stroke="#d0d3d6" stroke-width="9" stroke-linecap="round"/>
<line x1="144.70" y1="91.20" x2="138.00" y2="84.00" stroke="#f2f3f4" stroke-width="4.95" stroke-dasharray="1.2 1.4"/>
<line x1="144.70" y1="91.20" x2="138.00" y2="84.00" stroke="#a9adb1" stroke-width="0.5"/>
<line x1="144.70" y1="91.20" x2="138.00" y2="98.50" stroke="#d0d3d6" stroke-width="9" stroke-linecap="round"/>
<line x1="144.70" y1="91.20" x2="138.00" y2="98.50" stroke="#f2f3f4" stroke-width="4.95" stroke-dasharray="1.2 1.4"/>
<line x1="144.70" y1="91.20" x2="138.00" y2="98.50" stroke="#a9adb1" stroke-width="0.5"/>
<line x1="233.50" y1="91.20" x2="240.00" y2="84.00" stroke="#d0d3d6" stroke-width="9" stroke-linecap="round"/>
<line x1="233.50" y1="91.20" x2="240.00" y2="84.00" stroke="#f2f3f4" stroke-width="4.95" stroke-dasharray="1.2 1.4"/>
<line x1="233.50" y1="91.20" x2="240.00" y2="84.00" stroke="#a9adb1" stroke-width="0.5"/>
<line x1="233.50" y1="91.20" x2="240.00" y2="98.50" stroke="#d0d3d6" stroke-width="9" stroke-linecap="round"/>
<line x1="233.50" y1="91.20" x2="240.00" y2="98.50" stroke="#f2f3f4" stroke-width="4.95" stroke-dasharray="1.2 1.4"/>
<line x1="233.50" y1="91.20" x2="240.00" y2="98.50" stroke="#a9adb1" stroke-width="0.5"/>
<line x1="158.50" y1="109.80" x2="150.00" y2="118.50" stroke="#d0d3d6" stroke-width="10" stroke-linecap="round"/>
<line x1="158.50" y1="109.80" x2="150.00" y2="118.50" stroke="#f2f3f4" stroke-width="5.50" stroke-dasharray="1.2 1.4"/>
<line x1="158.50" y1="109.80" x2="150.00" y2="118.50" stroke="#a9adb1" stroke-width="0.5"/>
<line x1="219.50" y1="109.80" x2="228.00" y2="118.50" stroke="#d0d3d6" stroke-width="10" stroke-linecap="round"/>
<line x1="219.50" y1="109.80" x2="228.00" y2="118.50" stroke="#f2f3f4" stroke-width="5.50" stroke-dasharray="1.2 1.4"/>
<line x1="219.50" y1="109.80" x2="228.00" y2="118.50" stroke="#a9adb1" stroke-width="0.5"/>
<ellipse cx="189" cy="91" rx="7" ry="9" fill="#fff"/>
<line x1="140.5" y1="54" x2="151" y2="62.5" stroke="#f29090" stroke-width="2.4" stroke-dasharray="0.7 0.9"/>
<line x1="140.5" y1="54" x2="151" y2="62.5" stroke="#ee5a5a" stroke-width="0.8"/>
<line x1="237.5" y1="54" x2="227" y2="62.5" stroke="#f29090" stroke-width="2.4" stroke-dasharray="0.7 0.9"/>
<line x1="237.5" y1="54" x2="227" y2="62.5" stroke="#ee5a5a" stroke-width="0.8"/>
<line x1="128.5" y1="75.7" x2="139" y2="84" stroke="#f29090" stroke-width="2.4" stroke-dasharray="0.7 0.9"/>
<line x1="128.5" y1="75.7" x2="139" y2="84" stroke="#ee5a5a" stroke-width="0.8"/>
<line x1="249.5" y1="75.7" x2="239.5" y2="84" stroke="#f29090" stroke-width="2.4" stroke-dasharray="0.7 0.9"/>
<line x1="249.5" y1="75.7" x2="239.5" y2="84" stroke="#ee5a5a" stroke-width="0.8"/>
<line x1="128.5" y1="105.3" x2="139" y2="98.5" stroke="#f29090" stroke-width="2.4" stroke-dasharray="0.7 0.9"/>
<line x1="128.5" y1="105.3" x2="139" y2="98.5" stroke="#ee5a5a" stroke-width="0.8"/>
<line x1="249.5" y1="105.3" x2="239.5" y2="98.5" stroke="#f29090" stroke-width="2.4" stroke-dasharray="0.7 0.9"/>
<line x1="249.5" y1="105.3" x2="239.5" y2="98.5" stroke="#ee5a5a" stroke-width="0.8"/>
<line x1="142.5" y1="127" x2="151" y2="118.5" stroke="#f29090" stroke-width="2.4" stroke-dasharray="0.7 0.9"/>
<line x1="142.5" y1="127" x2="151" y2="118.5" stroke="#ee5a5a" stroke-width="0.8"/>
<line x1="235.5" y1="127" x2="227" y2="118.5" stroke="#f29090" stroke-width="2.4" stroke-dasharray="0.7 0.9"/>
<line x1="235.5" y1="127" x2="227" y2="118.5" stroke="#ee5a5a" stroke-width="0.8"/>
<line x1="168.5" y1="44.5" x2="171" y2="49" stroke="#f29090" stroke-width="2.4" stroke-dasharray="0.7 0.9"/>
<line x1="168.5" y1="44.5" x2="171" y2="49" stroke="#ee5a5a" stroke-width="0.8"/>
<line x1="209" y1="44.5" x2="206.5" y2="49" stroke="#f29090" stroke-width="2.4" stroke-dasharray="0.7 0.9"/>
<line x1="209" y1="44.5" x2="206.5" y2="49" stroke="#ee5a5a" stroke-width="0.8"/>
<line x1="168.5" y1="136" x2="171" y2="131" stroke="#f29090" stroke-width="2.4" stroke-dasharray="0.7 0.9"/>
<line x1="168.5" y1="136" x2="171" y2="131" stroke="#ee5a5a" stroke-width="0.8"/>
<line x1="209" y1="136" x2="206.5" y2="131" stroke="#f29090" stroke-width="2.4" stroke-dasharray="0.7 0.9"/>
<line x1="209" y1="136" x2="206.5" y2="131" stroke="#ee5a5a" stroke-width="0.8"/>
<g transform="translate(189.50,70.50) rotate(90) scale(1.20,1.00)">
<rect x="-6" y="-5" width="12" height="10" fill="#e4e6e8"/>
<rect x="-3.5" y="-5" width="7" height="2.2" fill="#3c48dc"/>
<rect x="-3.5" y="2.8" width="7" height="2.2" fill="#3c48dc"/>
<rect x="-5.5" y="-1.2" width="2" height="2.4" fill="#3c48dc"/>
<rect x="3.5" y="-1.2" width="2" height="2.4" fill="#3c48dc"/>
<rect x="-4.2" y="-3.2" width="8.4" height="2" fill="#e42a2a"/>
<rect x="-4.2" y="1.2" width="8.4" height="2" fill="#e42a2a"/>
<rect x="-3.6" y="-1.3" width="7.2" height="2.6" fill="#30cc30"/>
</g>
<g transform="translate(189.50,111.00) rotate(90) scale(1.20,1.00)">
<rect x="-6" y="-5" width="12" height="10" fill="#e4e6e8"/>
<rect x="-3.5" y="-5" width="7" height="2.2" fill="#3c48dc"/>
<rect x="-3.5" y="2.8" width="7" height="2.2" fill="#3c48dc"/>
<rect x="-5.5" y="-1.2" width="2" height="2.4" fill="#3c48dc"/>
<rect x="3.5" y="-1.2" width="2" height="2.4" fill="#3c48dc"/>
<rect x="-4.2" y="-3.2" width="8.4" height="2" fill="#e42a2a"/>
<rect x="-4.2" y="1.2" width="8.4" height="2" fill="#e42a2a"/>
<rect x="-3.6" y="-1.3" width="7.2" height="2.6" fill="#30cc30"/>
</g>
<g transform="translate(174.20,91.20) rotate(0) scale(1.00,1.05)">
<rect x="-6" y="-5" width="12" height="10" fill="#e4e6e8"/>
<rect x="-3.5" y="-5" width="7" height="2.2" fill="#3c48dc"/>
<rect x="-3.5" y="2.8" width="7" height="2.2" fill="#3c48dc"/>
<rect x="-5.5" y="-1.2" width="2" height="2.4" fill="#3c48dc"/>
<rect x="3.5" y="-1.2" width="2" height="2.4" fill="#3c48dc"/>
<rect x="-4.2" y="-3.2" width="8.4" height="2" fill="#e42a2a"/>
<rect x="-4.2" y="1.2" width="8.4" height="2" fill="#e42a2a"/>
<rect x="-3.6" y="-1.3" width="7.2" height="2.6" fill="#30cc30"/>
</g>
<g transform="translate(203.60,91.20) rotate(0) scale(1.00,1.05)">
<rect x="-6" y="-5" width="12" height="10" fill="#e4e6e8"/>
<rect x="-3.5" y="-5" width="7" height="2.2" fill="#3c48dc"/>
<rect x="-3.5" y="2.8" width="7" height="2.2" fill="#3c48dc"/>
<rect x="-5.5" y="-1.2" width="2" height="2.4" fill="#3c48dc"/>
<rect x="3.5" y="-1.2" width="2" height="2.4" fill="#3c48dc"/>
<rect x="-4.2" y="-3.2" width="8.4" height="2" fill="#e42a2a"/>
<rect x="-4.2" y="1.2" width="8.4" height="2" fill="#e42a2a"/>
<rect x="-3.6" y="-1.3" width="7.2" height="2.6" fill="#30cc30"/>
</g>
<g transform="translate(158.00,70.40) rotate(38) scale(1.30,0.95)">
<rect x="-6" y="-5" width="12" height="10" fill="#e4e6e8"/>
<rect x="-3.5" y="-5" width="7" height="2.2" fill="#3c48dc"/>
<rect x="-3.5" y="2.8" width="7" height="2.2" fill="#3c48dc"/>
<rect x="-5.5" y="-1.2" width="2" height="2.4" fill="#3c48dc"/>
<rect x="3.5" y="-1.2" width="2" height="2.4" fill="#3c48dc"/>
<rect x="-4.2" y="-3.2" width="8.4" height="2" fill="#e42a2a"/>
<rect x="-4.2" y="1.2" width="8.4" height="2" fill="#e42a2a"/>
<rect x="-3.6" y="-1.3" width="7.2" height="2.6" fill="#30cc30"/>
</g>
<g transform="translate(219.50,70.40) rotate(-38) scale(1.30,0.95)">
<rect x="-6" y="-5" width="12" height="10" fill="#e4e6e8"/>
<rect x="-3.5" y="-5" width="7" height="2.2" fill="#3c48dc"/>
<rect x="-3.5" y="2.8" width="7" height="2.2" fill="#3c48dc"/>
<rect x="-5.5" y="-1.2" width="2" height="2.4" fill="#3c48dc"/>
<rect x="3.5" y="-1.2" width="2" height="2.4" fill="#3c48dc"/>
<rect x="-4.2" y="-3.2" width="8.4" height="2" fill="#e42a2a"/>
<rect x="-4.2" y="1.2" width="8.4" height="2" fill="#e42a2a"/>
<rect x="-3.6" y="-1.3" width="7.2" height="2.6" fill="#30cc30"/>
</g>
<g transform="translate(158.50,109.80) rotate(-38) scale(1.30,0.95)">
<rect x="-6" y="-5" width="12" height="10" fill="#e4e6e8"/>
<rect x="-3.5" y="-5" width="7" height="2.2" fill="#3c48dc"/>
<rect x="-3.5" y="2.8" width="7" height="2.2" fill="#3c48dc"/>
<rect x="-5.5" y="-1.2" width="2" height="2.4" fill="#3c48dc"/>
<rect x="3.5" y="-1.2" width="2" height="2.4" fill="#3c48dc"/>
<rect x="-4.2" y="-3.2" width="8.4" height="2" fill="#e42a2a"/>
<rect x="-4.2" y="1.2" width="8.4" height="2" fill="#e42a2a"/>
<rect x="-3.6" y="-1.3" width="7.2" height="2.6" fill="#30cc30"/>
</g>
<g transform="translate(219.50,109.80) rotate(38) scale(1.30,0.95)">
<rect x="-6" y="-5" width="12" height="10" fill="#e4e6e8"/>
<rect x="-3.5" y="-5" width="7" height="2.2" fill="#3c48dc"/>
<rect x="-3.5" y="2.8" width="7" height="2.2" fill="#3c48dc"/>
<rect x="-5.5" y="-1.2" width="2" height="2.4" fill="#3c48dc"/>
<rect x="3.5" y="-1.2" width="2" height="2.4" fill="#3c48dc"/>
<rect x="-4.2" y="-3.2" width="8.4" height="2" fill="#e42a2a"/>
<rect x="-4.2" y="1.2" width="8.4" height="2" fill="#e42a2a"/>
<rect x="-3.6" y="-1.3" width="7.2" height="2.6" fill="#30cc30"/>
</g>
<g transform="translate(144.70,91.20) rotate(0) scale(1.25,0.95)">
<rect x="-6" y="-5" width="12" height="10" fill="#e4e6e8"/>
<rect x="-3.5" y="-5" width="7" height="2.2" fill="#3c48dc"/>
<rect x="-3.5" y="2.8" width="7" height="2.2" fill="#3c48dc"/>
<rect x="-5.5" y="-1.2" width="2" height="2.4" fill="#3c48dc"/>
<rect x="3.5" y="-1.2" width="2" height="2.4" fill="#3c48dc"/>
<rect x="-4.2" y="-3.2" width="8.4" height="2" fill="#e42a2a"/>
<rect x="-4.2" y="1.2" width="8.4" height="2" fill="#e42a2a"/>
<rect x="-3.6" y="-1.3" width="7.2" height="2.6" fill="#30cc30"/>
</g>
<g transform="translate(233.50,91.20) rotate(0) scale(1.25,0.95)">
<rect x="-6" y="-5" width="12" height="10" fill="#e4e6e8"/>
<rect x="-3.5" y="-5" width="7" height="2.2" fill="#3c48dc"/>
<rect x="-3.5" y="2.8" width="7" height="2.2" fill="#3c48dc"/>
<rect x="-5.5" y="-1.2" width="2" height="2.4" fill="#3c48dc"/>
<rect x="3.5" y="-1.2" width="2" height="2.4" fill="#3c48dc"/>
<rect x="-4.2" y="-3.2" width="8.4" height="2" fill="#e42a2a"/>
<rect x="-4.2" y="1.2" width="8.4" height="2" fill="#e42a2a"/>
<rect x="-3.6" y="-1.3" width="7.2" height="2.6" fill="#30cc30"/>
</g>
<g transform="translate(173.20,52.80) rotate(62)">
<rect x="-7.5" y="-3" width="15" height="6" fill="#e8e8ea"/>
<rect x="-7" y="-2.6" width="14" height="1.7" fill="#e84040"/>
<rect x="-7" y="0.9" width="14" height="1.7" fill="#e84040"/>
<rect x="-6" y="-0.9" width="12" height="1.8" fill="#33cc33"/>
<rect x="-2" y="-1.2" width="2.5" height="2.4" fill="#3c48dc"/>
</g>
<g transform="translate(204.50,52.80) rotate(-62)">
<rect x="-7.5" y="-3" width="15" height="6" fill="#e8e8ea"/>
<rect x="-7" y="-2.6" width="14" height="1.7" fill="#e84040"/>
<rect x="-7" y="0.9" width="14" height="1.7" fill="#e84040"/>
<rect x="-6" y="-0.9" width="12" height="1.8" fill="#33cc33"/>
<rect x="-2" y="-1.2" width="2.5" height="2.4" fill="#3c48dc"/>
</g>
<g transform="translate(173.20,127.70) rotate(-62)">
<rect x="-7.5" y="-3" width="15" height="6" fill="#e8e8ea"/>
<rect x="-7" y="-2.6" width="14" height="1.7" fill="#e84040"/>
<rect x="-7" y="0.9" width="14" height="1.7" fill="#e84040"/>
<rect x="-6" y="-0.9" width="12" height="1.8" fill="#33cc33"/>
<rect x="-2" y="-1.2" width="2.5" height="2.4" fill="#3c48dc"/>
</g>
<g transform="translate(204.50,127.70) rotate(62)">
<rect x="-7.5" y="-3" width="15" height="6" fill="#e8e8ea"/>
<rect x="-7" y="-2.6" width="14" height="1.7" fill="#e84040"/>
<rect x="-7" y="0.9" width="14" height="1.7" fill="#e84040"/>
<rect x="-6" y="-0.9" width="12" height="1.8" fill="#33cc33"/>
<rect x="-2" y="-1.2" width="2.5" height="2.4" fill="#3c48dc"/>
</g>
<line x1="240.00" y1="124.00" x2="240.00" y2="131.50" stroke="#333" stroke-width="0.6" />
<line x1="240.00" y1="131.50" x2="246.00" y2="131.50" stroke="#333" stroke-width="0.6" />
<circle cx="248.00" cy="131.30" r="0.6" fill="#333" />
<text x="239.50" y="123.50" font-size="3.2" fill="#333" font-weight="bold" font-family='"Liberation Sans", sans-serif' text-anchor="start" font-style="normal" >b</text>
<line x1="39.80" y1="156.30" x2="27.00" y2="144.00" stroke="#c84638" stroke-width="1.3" />
<line x1="39.80" y1="172.90" x2="27.00" y2="184.80" stroke="#c84638" stroke-width="1.3" />
<line x1="56.40" y1="156.30" x2="68.60" y2="144.00" stroke="#c84638" stroke-width="1.3" />
<line x1="56.40" y1="172.90" x2="68.60" y2="184.80" stroke="#c84638" stroke-width="1.3" />
<line x1="82.00" y1="156.30" x2="68.60" y2="144.00" stroke="#c84638" stroke-width="1.3" />
<line x1="82.00" y1="172.90" x2="68.60" y2="184.80" stroke="#c84638" stroke-width="1.3" />
<line x1="98.60" y1="156.30" x2="110.70" y2="144.00" stroke="#c84638" stroke-width="1.3" />
<line x1="98.60" y1="172.90" x2="110.70" y2="184.80" stroke="#c84638" stroke-width="1.3" />
<line x1="39.80" y1="196.90" x2="27.00" y2="184.80" stroke="#c84638" stroke-width="1.3" />
<line x1="39.80" y1="213.50" x2="27.00" y2="225.00" stroke="#c84638" stroke-width="1.3" />
<line x1="56.40" y1="196.90" x2="68.60" y2="184.80" stroke="#c84638" stroke-width="1.3" />
<line x1="56.40" y1="213.50" x2="68.60" y2="225.00" stroke="#c84638" stroke-width="1.3" />
<line x1="82.00" y1="196.90" x2="68.60" y2="184.80" stroke="#c84638" stroke-width="1.3" />
<line x1="82.00" y1="213.50" x2="68.60" y2="225.00" stroke="#c84638" stroke-width="1.3" />
<line x1="98.60" y1="196.90" x2="110.70" y2="184.80" stroke="#c84638" stroke-width="1.3" />
<line x1="98.60" y1="213.50" x2="110.70" y2="225.00" stroke="#c84638" stroke-width="1.3" />
<rect x="39.80" y="156.30" width="16.6" height="16.6" fill="#cc2a0e"/>
<rect x="82.00" y="156.30" width="16.6" height="16.6" fill="#cc2a0e"/>
<rect x="39.80" y="196.90" width="16.6" height="16.6" fill="#cc2a0e"/>
<rect x="82.00" y="196.90" width="16.6" height="16.6" fill="#cc2a0e"/>
<rect x="23.15" y="140.15" width="7.7" height="7.7" fill="#1ec81e"/>
<path d="M23.15,140.75 Q24.35,146.35 30.85,147.85 L23.15,147.85 Z" fill="#063a06"/>
<path d="M23.95,142.15 Q25.15,145.35 29.85,147.55 L23.95,147.55 Z" fill="#0c5a0c" opacity="0.6"/>
<rect x="23.15" y="180.95" width="7.7" height="7.7" fill="#1ec81e"/>
<path d="M23.15,181.55 Q24.35,187.15 30.85,188.65 L23.15,188.65 Z" fill="#063a06"/>
<path d="M23.95,182.95 Q25.15,186.15 29.85,188.35 L23.95,188.35 Z" fill="#0c5a0c" opacity="0.6"/>
<rect x="23.15" y="221.15" width="7.7" height="7.7" fill="#1ec81e"/>
<path d="M23.15,221.75 Q24.35,227.35 30.85,228.85 L23.15,228.85 Z" fill="#063a06"/>
<path d="M23.95,223.15 Q25.15,226.35 29.85,228.55 L23.95,228.55 Z" fill="#0c5a0c" opacity="0.6"/>
<rect x="64.75" y="140.15" width="7.7" height="7.7" fill="#1ec81e"/>
<path d="M64.75,140.75 Q65.95,146.35 72.45,147.85 L64.75,147.85 Z" fill="#063a06"/>
<path d="M65.55,142.15 Q66.75,145.35 71.45,147.55 L65.55,147.55 Z" fill="#0c5a0c" opacity="0.6"/>
<rect x="64.75" y="180.95" width="7.7" height="7.7" fill="#1ec81e"/>
<path d="M64.75,181.55 Q65.95,187.15 72.45,188.65 L64.75,188.65 Z" fill="#063a06"/>
<path d="M65.55,182.95 Q66.75,186.15 71.45,188.35 L65.55,188.35 Z" fill="#0c5a0c" opacity="0.6"/>
<rect x="64.75" y="221.15" width="7.7" height="7.7" fill="#1ec81e"/>
<path d="M64.75,221.75 Q65.95,227.35 72.45,228.85 L64.75,228.85 Z" fill="#063a06"/>
<path d="M65.55,223.15 Q66.75,226.35 71.45,228.55 L65.55,228.55 Z" fill="#0c5a0c" opacity="0.6"/>
<rect x="106.85" y="140.15" width="7.7" height="7.7" fill="#1ec81e"/>
<path d="M106.85,140.75 Q108.05,146.35 114.55,147.85 L106.85,147.85 Z" fill="#063a06"/>
<path d="M107.65,142.15 Q108.85,145.35 113.55,147.55 L107.65,147.55 Z" fill="#0c5a0c" opacity="0.6"/>
<rect x="106.85" y="180.95" width="7.7" height="7.7" fill="#1ec81e"/>
<path d="M106.85,181.55 Q108.05,187.15 114.55,188.65 L106.85,188.65 Z" fill="#063a06"/>
<path d="M107.65,182.95 Q108.85,186.15 113.55,188.35 L107.65,188.35 Z" fill="#0c5a0c" opacity="0.6"/>
<rect x="106.85" y="221.15" width="7.7" height="7.7" fill="#1ec81e"/>
<path d="M106.85,221.75 Q108.05,227.35 114.55,228.85 L106.85,228.85 Z" fill="#063a06"/>
<path d="M107.65,223.15 Q108.85,226.35 113.55,228.55 L107.65,228.55 Z" fill="#0c5a0c" opacity="0.6"/>
<text x="20.00" y="189.00" font-size="6" fill="#444" font-weight="normal" font-family='"Liberation Sans", sans-serif' text-anchor="start" font-style="normal" >(</text>
<line x1="139.90" y1="155.64" x2="146.60" y2="162.08" stroke="#b53a2a" stroke-width="1.15" />
<line x1="139.90" y1="181.40" x2="146.60" y2="187.84" stroke="#b53a2a" stroke-width="1.15" />
<line x1="139.90" y1="207.16" x2="146.60" y2="213.60" stroke="#b53a2a" stroke-width="1.15" />
<line x1="146.60" y1="162.08" x2="139.90" y2="168.52" stroke="#b53a2a" stroke-width="1.15" />
<line x1="146.60" y1="162.08" x2="153.30" y2="168.52" stroke="#b53a2a" stroke-width="1.15" />
<line x1="146.60" y1="187.84" x2="139.90" y2="194.28" stroke="#b53a2a" stroke-width="1.15" />
<line x1="146.60" y1="187.84" x2="153.30" y2="194.28" stroke="#b53a2a" stroke-width="1.15" />
<line x1="146.60" y1="213.60" x2="139.90" y2="220.04" stroke="#b53a2a" stroke-width="1.15" />
<line x1="146.60" y1="213.60" x2="153.30" y2="220.04" stroke="#b53a2a" stroke-width="1.15" />
<line x1="153.30" y1="155.64" x2="146.60" y2="162.08" stroke="#b53a2a" stroke-width="1.15" />
<line x1="166.70" y1="155.64" x2="173.40" y2="162.08" stroke="#b53a2a" stroke-width="1.15" />
<line x1="153.30" y1="181.40" x2="146.60" y2="187.84" stroke="#b53a2a" stroke-width="1.15" />
<line x1="166.70" y1="181.40" x2="173.40" y2="187.84" stroke="#b53a2a" stroke-width="1.15" />
<line x1="153.30" y1="207.16" x2="146.60" y2="213.60" stroke="#b53a2a" stroke-width="1.15" />
<line x1="166.70" y1="207.16" x2="173.40" y2="213.60" stroke="#b53a2a" stroke-width="1.15" />
<line x1="173.40" y1="162.08" x2="166.70" y2="168.52" stroke="#b53a2a" stroke-width="1.15" />
<line x1="173.40" y1="162.08" x2="180.10" y2="168.52" stroke="#b53a2a" stroke-width="1.15" />
<line x1="173.40" y1="187.84" x2="166.70" y2="194.28" stroke="#b53a2a" stroke-width="1.15" />
<line x1="173.40" y1="187.84" x2="180.10" y2="194.28" stroke="#b53a2a" stroke-width="1.15" />
<line x1="173.40" y1="213.60" x2="166.70" y2="220.04" stroke="#b53a2a" stroke-width="1.15" />
<line x1="173.40" y1="213.60" x2="180.10" y2="220.04" stroke="#b53a2a" stroke-width="1.15" />
<line x1="180.10" y1="155.64" x2="173.40" y2="162.08" stroke="#b53a2a" stroke-width="1.15" />
<line x1="193.50" y1="155.64" x2="200.20" y2="162.08" stroke="#b53a2a" stroke-width="1.15" />
<line x1="180.10" y1="181.40" x2="173.40" y2="187.84" stroke="#b53a2a" stroke-width="1.15" />
<line x1="193.50" y1="181.40" x2="200.20" y2="187.84" stroke="#b53a2a" stroke-width="1.15" />
<line x1="180.10" y1="207.16" x2="173.40" y2="213.60" stroke="#b53a2a" stroke-width="1.15" />
<line x1="193.50" y1="207.16" x2="200.20" y2="213.60" stroke="#b53a2a" stroke-width="1.15" />
<line x1="200.20" y1="162.08" x2="193.50" y2="168.52" stroke="#b53a2a" stroke-width="1.15" />
<line x1="200.20" y1="162.08" x2="206.90" y2="168.52" stroke="#b53a2a" stroke-width="1.15" />
<line x1="200.20" y1="187.84" x2="193.50" y2="194.28" stroke="#b53a2a" stroke-width="1.15" />
<line x1="200.20" y1="187.84" x2="206.90" y2="194.28" stroke="#b53a2a" stroke-width="1.15" />
<line x1="200.20" y1="213.60" x2="193.50" y2="220.04" stroke="#b53a2a" stroke-width="1.15" />
<line x1="200.20" y1="213.60" x2="206.90" y2="220.04" stroke="#b53a2a" stroke-width="1.15" />
<line x1="206.90" y1="155.64" x2="200.20" y2="162.08" stroke="#b53a2a" stroke-width="1.15" />
<line x1="220.30" y1="155.64" x2="227.00" y2="162.08" stroke="#b53a2a" stroke-width="1.15" />
<line x1="206.90" y1="181.40" x2="200.20" y2="187.84" stroke="#b53a2a" stroke-width="1.15" />
<line x1="220.30" y1="181.40" x2="227.00" y2="187.84" stroke="#b53a2a" stroke-width="1.15" />
<line x1="206.90" y1="207.16" x2="200.20" y2="213.60" stroke="#b53a2a" stroke-width="1.15" />
<line x1="220.30" y1="207.16" x2="227.00" y2="213.60" stroke="#b53a2a" stroke-width="1.15" />
<line x1="227.00" y1="162.08" x2="220.30" y2="168.52" stroke="#b53a2a" stroke-width="1.15" />
<line x1="227.00" y1="162.08" x2="233.70" y2="168.52" stroke="#b53a2a" stroke-width="1.15" />
<line x1="227.00" y1="187.84" x2="220.30" y2="194.28" stroke="#b53a2a" stroke-width="1.15" />
<line x1="227.00" y1="187.84" x2="233.70" y2="194.28" stroke="#b53a2a" stroke-width="1.15" />
<line x1="227.00" y1="213.60" x2="220.30" y2="220.04" stroke="#b53a2a" stroke-width="1.15" />
<line x1="227.00" y1="213.60" x2="233.70" y2="220.04" stroke="#b53a2a" stroke-width="1.15" />
<line x1="233.70" y1="155.64" x2="227.00" y2="162.08" stroke="#b53a2a" stroke-width="1.15" />
<line x1="233.70" y1="181.40" x2="227.00" y2="187.84" stroke="#b53a2a" stroke-width="1.15" />
<line x1="233.70" y1="207.16" x2="227.00" y2="213.60" stroke="#b53a2a" stroke-width="1.15" />
<line x1="152.10" y1="149.42" x2="158.80" y2="155.83" stroke="#b53a2a" stroke-width="1.15" />
<line x1="152.10" y1="175.07" x2="158.80" y2="181.49" stroke="#b53a2a" stroke-width="1.15" />
<line x1="152.10" y1="200.74" x2="158.80" y2="207.15" stroke="#b53a2a" stroke-width="1.15" />
<line x1="158.80" y1="155.83" x2="152.10" y2="162.25" stroke="#b53a2a" stroke-width="1.15" />
<line x1="158.80" y1="155.83" x2="165.50" y2="162.25" stroke="#b53a2a" stroke-width="1.15" />
<line x1="158.80" y1="181.49" x2="152.10" y2="187.91" stroke="#b53a2a" stroke-width="1.15" />
<line x1="158.80" y1="181.49" x2="165.50" y2="187.91" stroke="#b53a2a" stroke-width="1.15" />
<line x1="158.80" y1="207.15" x2="152.10" y2="213.56" stroke="#b53a2a" stroke-width="1.15" />
<line x1="158.80" y1="207.15" x2="165.50" y2="213.56" stroke="#b53a2a" stroke-width="1.15" />
<line x1="165.50" y1="149.42" x2="158.80" y2="155.83" stroke="#b53a2a" stroke-width="1.15" />
<line x1="178.90" y1="149.42" x2="185.60" y2="155.83" stroke="#b53a2a" stroke-width="1.15" />
<line x1="165.50" y1="175.07" x2="158.80" y2="181.49" stroke="#b53a2a" stroke-width="1.15" />
<line x1="178.90" y1="175.07" x2="185.60" y2="181.49" stroke="#b53a2a" stroke-width="1.15" />
<line x1="165.50" y1="200.74" x2="158.80" y2="207.15" stroke="#b53a2a" stroke-width="1.15" />
<line x1="178.90" y1="200.74" x2="185.60" y2="207.15" stroke="#b53a2a" stroke-width="1.15" />
<line x1="185.60" y1="155.83" x2="178.90" y2="162.25" stroke="#b53a2a" stroke-width="1.15" />
<line x1="185.60" y1="155.83" x2="192.30" y2="162.25" stroke="#b53a2a" stroke-width="1.15" />
<line x1="185.60" y1="181.49" x2="178.90" y2="187.91" stroke="#b53a2a" stroke-width="1.15" />
<line x1="185.60" y1="181.49" x2="192.30" y2="187.91" stroke="#b53a2a" stroke-width="1.15" />
<line x1="185.60" y1="207.15" x2="178.90" y2="213.56" stroke="#b53a2a" stroke-width="1.15" />
<line x1="185.60" y1="207.15" x2="192.30" y2="213.56" stroke="#b53a2a" stroke-width="1.15" />
<line x1="192.30" y1="149.42" x2="185.60" y2="155.83" stroke="#b53a2a" stroke-width="1.15" />
<line x1="205.70" y1="149.42" x2="212.40" y2="155.83" stroke="#b53a2a" stroke-width="1.15" />
<line x1="192.30" y1="175.07" x2="185.60" y2="181.49" stroke="#b53a2a" stroke-width="1.15" />
<line x1="205.70" y1="175.07" x2="212.40" y2="181.49" stroke="#b53a2a" stroke-width="1.15" />
<line x1="192.30" y1="200.74" x2="185.60" y2="207.15" stroke="#b53a2a" stroke-width="1.15" />
<line x1="205.70" y1="200.74" x2="212.40" y2="207.15" stroke="#b53a2a" stroke-width="1.15" />
<line x1="212.40" y1="155.83" x2="205.70" y2="162.25" stroke="#b53a2a" stroke-width="1.15" />
<line x1="212.40" y1="155.83" x2="219.10" y2="162.25" stroke="#b53a2a" stroke-width="1.15" />
<line x1="212.40" y1="181.49" x2="205.70" y2="187.91" stroke="#b53a2a" stroke-width="1.15" />
<line x1="212.40" y1="181.49" x2="219.10" y2="187.91" stroke="#b53a2a" stroke-width="1.15" />
<line x1="212.40" y1="207.15" x2="205.70" y2="213.56" stroke="#b53a2a" stroke-width="1.15" />
<line x1="212.40" y1="207.15" x2="219.10" y2="213.56" stroke="#b53a2a" stroke-width="1.15" />
<line x1="219.10" y1="149.42" x2="212.40" y2="155.83" stroke="#b53a2a" stroke-width="1.15" />
<line x1="232.50" y1="149.42" x2="239.20" y2="155.83" stroke="#b53a2a" stroke-width="1.15" />
<line x1="219.10" y1="175.07" x2="212.40" y2="181.49" stroke="#b53a2a" stroke-width="1.15" />
<line x1="232.50" y1="175.07" x2="239.20" y2="181.49" stroke="#b53a2a" stroke-width="1.15" />
<line x1="219.10" y1="200.74" x2="212.40" y2="207.15" stroke="#b53a2a" stroke-width="1.15" />
<line x1="232.50" y1="200.74" x2="239.20" y2="207.15" stroke="#b53a2a" stroke-width="1.15" />
<line x1="239.20" y1="155.83" x2="232.50" y2="162.25" stroke="#b53a2a" stroke-width="1.15" />
<line x1="239.20" y1="155.83" x2="245.90" y2="162.25" stroke="#b53a2a" stroke-width="1.15" />
<line x1="239.20" y1="181.49" x2="232.50" y2="187.91" stroke="#b53a2a" stroke-width="1.15" />
<line x1="239.20" y1="181.49" x2="245.90" y2="187.91" stroke="#b53a2a" stroke-width="1.15" />
<line x1="239.20" y1="207.15" x2="232.50" y2="213.56" stroke="#b53a2a" stroke-width="1.15" />
<line x1="239.20" y1="207.15" x2="245.90" y2="213.56" stroke="#b53a2a" stroke-width="1.15" />
<line x1="245.90" y1="149.42" x2="239.20" y2="155.83" stroke="#b53a2a" stroke-width="1.15" />
<line x1="245.90" y1="175.07" x2="239.20" y2="181.49" stroke="#b53a2a" stroke-width="1.15" />
<line x1="245.90" y1="200.74" x2="239.20" y2="207.15" stroke="#b53a2a" stroke-width="1.15" />
<line x1="133.20" y1="149.20" x2="139.90" y2="155.64" stroke="#3ddc32" stroke-width="1.15" />
<line x1="133.20" y1="174.96" x2="139.90" y2="181.40" stroke="#3ddc32" stroke-width="1.15" />
<line x1="133.20" y1="200.72" x2="139.90" y2="207.16" stroke="#3ddc32" stroke-width="1.15" />
<line x1="139.90" y1="168.52" x2="133.20" y2="174.96" stroke="#3ddc32" stroke-width="1.15" />
<line x1="153.30" y1="168.52" x2="160.00" y2="174.96" stroke="#3ddc32" stroke-width="1.15" />
<line x1="139.90" y1="194.28" x2="133.20" y2="200.72" stroke="#3ddc32" stroke-width="1.15" />
<line x1="153.30" y1="194.28" x2="160.00" y2="200.72" stroke="#3ddc32" stroke-width="1.15" />
<line x1="139.90" y1="220.04" x2="133.20" y2="226.48" stroke="#3ddc32" stroke-width="1.15" />
<line x1="153.30" y1="220.04" x2="160.00" y2="226.48" stroke="#3ddc32" stroke-width="1.15" />
<line x1="160.00" y1="149.20" x2="153.30" y2="155.64" stroke="#3ddc32" stroke-width="1.15" />
<line x1="160.00" y1="149.20" x2="166.70" y2="155.64" stroke="#3ddc32" stroke-width="1.15" />
<line x1="160.00" y1="174.96" x2="153.30" y2="181.40" stroke="#3ddc32" stroke-width="1.15" />
<line x1="160.00" y1="174.96" x2="166.70" y2="181.40" stroke="#3ddc32" stroke-width="1.15" />
<line x1="160.00" y1="200.72" x2="153.30" y2="207.16" stroke="#3ddc32" stroke-width="1.15" />
<line x1="160.00" y1="200.72" x2="166.70" y2="207.16" stroke="#3ddc32" stroke-width="1.15" />
<line x1="166.70" y1="168.52" x2="160.00" y2="174.96" stroke="#3ddc32" stroke-width="1.15" />
<line x1="180.10" y1="168.52" x2="186.80" y2="174.96" stroke="#3ddc32" stroke-width="1.15" />
<line x1="166.70" y1="194.28" x2="160.00" y2="200.72" stroke="#3ddc32" stroke-width="1.15" />
<line x1="180.10" y1="194.28" x2="186.80" y2="200.72" stroke="#3ddc32" stroke-width="1.15" />
<line x1="166.70" y1="220.04" x2="160.00" y2="226.48" stroke="#3ddc32" stroke-width="1.15" />
<line x1="180.10" y1="220.04" x2="186.80" y2="226.48" stroke="#3ddc32" stroke-width="1.15" />
<line x1="186.80" y1="149.20" x2="180.10" y2="155.64" stroke="#3ddc32" stroke-width="1.15" />
<line x1="186.80" y1="149.20" x2="193.50" y2="155.64" stroke="#3ddc32" stroke-width="1.15" />
<line x1="186.80" y1="174.96" x2="180.10" y2="181.40" stroke="#3ddc32" stroke-width="1.15" />
<line x1="186.80" y1="174.96" x2="193.50" y2="181.40" stroke="#3ddc32" stroke-width="1.15" />
<line x1="186.80" y1="200.72" x2="180.10" y2="207.16" stroke="#3ddc32" stroke-width="1.15" />
<line x1="186.80" y1="200.72" x2="193.50" y2="207.16" stroke="#3ddc32" stroke-width="1.15" />
<line x1="193.50" y1="168.52" x2="186.80" y2="174.96" stroke="#3ddc32" stroke-width="1.15" />
<line x1="206.90" y1="168.52" x2="213.60" y2="174.96" stroke="#3ddc32" stroke-width="1.15" />
<line x1="193.50" y1="194.28" x2="186.80" y2="200.72" stroke="#3ddc32" stroke-width="1.15" />
<line x1="206.90" y1="194.28" x2="213.60" y2="200.72" stroke="#3ddc32" stroke-width="1.15" />
<line x1="193.50" y1="220.04" x2="186.80" y2="226.48" stroke="#3ddc32" stroke-width="1.15" />
<line x1="206.90" y1="220.04" x2="213.60" y2="226.48" stroke="#3ddc32" stroke-width="1.15" />
<line x1="213.60" y1="149.20" x2="206.90" y2="155.64" stroke="#3ddc32" stroke-width="1.15" />
<line x1="213.60" y1="149.20" x2="220.30" y2="155.64" stroke="#3ddc32" stroke-width="1.15" />
<line x1="213.60" y1="174.96" x2="206.90" y2="181.40" stroke="#3ddc32" stroke-width="1.15" />
<line x1="213.60" y1="174.96" x2="220.30" y2="181.40" stroke="#3ddc32" stroke-width="1.15" />
<line x1="213.60" y1="200.72" x2="206.90" y2="207.16" stroke="#3ddc32" stroke-width="1.15" />
<line x1="213.60" y1="200.72" x2="220.30" y2="207.16" stroke="#3ddc32" stroke-width="1.15" />
<line x1="220.30" y1="168.52" x2="213.60" y2="174.96" stroke="#3ddc32" stroke-width="1.15" />
<line x1="233.70" y1="168.52" x2="240.40" y2="174.96" stroke="#3ddc32" stroke-width="1.15" />
<line x1="220.30" y1="194.28" x2="213.60" y2="200.72" stroke="#3ddc32" stroke-width="1.15" />
<line x1="233.70" y1="194.28" x2="240.40" y2="200.72" stroke="#3ddc32" stroke-width="1.15" />
<line x1="220.30" y1="220.04" x2="213.60" y2="226.48" stroke="#3ddc32" stroke-width="1.15" />
<line x1="233.70" y1="220.04" x2="240.40" y2="226.48" stroke="#3ddc32" stroke-width="1.15" />
<line x1="240.40" y1="149.20" x2="233.70" y2="155.64" stroke="#3ddc32" stroke-width="1.15" />
<line x1="240.40" y1="174.96" x2="233.70" y2="181.40" stroke="#3ddc32" stroke-width="1.15" />
<line x1="240.40" y1="200.72" x2="233.70" y2="207.16" stroke="#3ddc32" stroke-width="1.15" />
<line x1="145.40" y1="143.00" x2="152.10" y2="149.42" stroke="#3ddc32" stroke-width="1.15" />
<line x1="145.40" y1="168.66" x2="152.10" y2="175.07" stroke="#3ddc32" stroke-width="1.15" />
<line x1="145.40" y1="194.32" x2="152.10" y2="200.74" stroke="#3ddc32" stroke-width="1.15" />
<line x1="152.10" y1="162.25" x2="145.40" y2="168.66" stroke="#3ddc32" stroke-width="1.15" />
<line x1="165.50" y1="162.25" x2="172.20" y2="168.66" stroke="#3ddc32" stroke-width="1.15" />
<line x1="152.10" y1="187.91" x2="145.40" y2="194.32" stroke="#3ddc32" stroke-width="1.15" />
<line x1="165.50" y1="187.91" x2="172.20" y2="194.32" stroke="#3ddc32" stroke-width="1.15" />
<line x1="152.10" y1="213.56" x2="145.40" y2="219.98" stroke="#3ddc32" stroke-width="1.15" />
<line x1="165.50" y1="213.56" x2="172.20" y2="219.98" stroke="#3ddc32" stroke-width="1.15" />
<line x1="172.20" y1="143.00" x2="165.50" y2="149.42" stroke="#3ddc32" stroke-width="1.15" />
<line x1="172.20" y1="143.00" x2="178.90" y2="149.42" stroke="#3ddc32" stroke-width="1.15" />
<line x1="172.20" y1="168.66" x2="165.50" y2="175.07" stroke="#3ddc32" stroke-width="1.15" />
<line x1="172.20" y1="168.66" x2="178.90" y2="175.07" stroke="#3ddc32" stroke-width="1.15" />
<line x1="172.20" y1="194.32" x2="165.50" y2="200.74" stroke="#3ddc32" stroke-width="1.15" />
<line x1="172.20" y1="194.32" x2="178.90" y2="200.74" stroke="#3ddc32" stroke-width="1.15" />
<line x1="178.90" y1="162.25" x2="172.20" y2="168.66" stroke="#3ddc32" stroke-width="1.15" />
<line x1="192.30" y1="162.25" x2="199.00" y2="168.66" stroke="#3ddc32" stroke-width="1.15" />
<line x1="178.90" y1="187.91" x2="172.20" y2="194.32" stroke="#3ddc32" stroke-width="1.15" />
<line x1="192.30" y1="187.91" x2="199.00" y2="194.32" stroke="#3ddc32" stroke-width="1.15" />
<line x1="178.90" y1="213.56" x2="172.20" y2="219.98" stroke="#3ddc32" stroke-width="1.15" />
<line x1="192.30" y1="213.56" x2="199.00" y2="219.98" stroke="#3ddc32" stroke-width="1.15" />
<line x1="199.00" y1="143.00" x2="192.30" y2="149.42" stroke="#3ddc32" stroke-width="1.15" />
<line x1="199.00" y1="143.00" x2="205.70" y2="149.42" stroke="#3ddc32" stroke-width="1.15" />
<line x1="199.00" y1="168.66" x2="192.30" y2="175.07" stroke="#3ddc32" stroke-width="1.15" />
<line x1="199.00" y1="168.66" x2="205.70" y2="175.07" stroke="#3ddc32" stroke-width="1.15" />
<line x1="199.00" y1="194.32" x2="192.30" y2="200.74" stroke="#3ddc32" stroke-width="1.15" />
<line x1="199.00" y1="194.32" x2="205.70" y2="200.74" stroke="#3ddc32" stroke-width="1.15" />
<line x1="205.70" y1="162.25" x2="199.00" y2="168.66" stroke="#3ddc32" stroke-width="1.15" />
<line x1="219.10" y1="162.25" x2="225.80" y2="168.66" stroke="#3ddc32" stroke-width="1.15" />
<line x1="205.70" y1="187.91" x2="199.00" y2="194.32" stroke="#3ddc32" stroke-width="1.15" />
<line x1="219.10" y1="187.91" x2="225.80" y2="194.32" stroke="#3ddc32" stroke-width="1.15" />
<line x1="205.70" y1="213.56" x2="199.00" y2="219.98" stroke="#3ddc32" stroke-width="1.15" />
<line x1="219.10" y1="213.56" x2="225.80" y2="219.98" stroke="#3ddc32" stroke-width="1.15" />
<line x1="225.80" y1="143.00" x2="219.10" y2="149.42" stroke="#3ddc32" stroke-width="1.15" />
<line x1="225.80" y1="143.00" x2="232.50" y2="149.42" stroke="#3ddc32" stroke-width="1.15" />
<line x1="225.80" y1="168.66" x2="219.10" y2="175.07" stroke="#3ddc32" stroke-width="1.15" />
<line x1="225.80" y1="168.66" x2="232.50" y2="175.07" stroke="#3ddc32" stroke-width="1.15" />
<line x1="225.80" y1="194.32" x2="219.10" y2="200.74" stroke="#3ddc32" stroke-width="1.15" />
<line x1="225.80" y1="194.32" x2="232.50" y2="200.74" stroke="#3ddc32" stroke-width="1.15" />
<line x1="232.50" y1="162.25" x2="225.80" y2="168.66" stroke="#3ddc32" stroke-width="1.15" />
<line x1="245.90" y1="162.25" x2="252.60" y2="168.66" stroke="#3ddc32" stroke-width="1.15" />
<line x1="232.50" y1="187.91" x2="225.80" y2="194.32" stroke="#3ddc32" stroke-width="1.15" />
<line x1="245.90" y1="187.91" x2="252.60" y2="194.32" stroke="#3ddc32" stroke-width="1.15" />
<line x1="232.50" y1="213.56" x2="225.80" y2="219.98" stroke="#3ddc32" stroke-width="1.15" />
<line x1="245.90" y1="213.56" x2="252.60" y2="219.98" stroke="#3ddc32" stroke-width="1.15" />
<line x1="252.60" y1="143.00" x2="245.90" y2="149.42" stroke="#3ddc32" stroke-width="1.15" />
<line x1="252.60" y1="168.66" x2="245.90" y2="175.07" stroke="#3ddc32" stroke-width="1.15" />
<line x1="252.60" y1="194.32" x2="245.90" y2="200.74" stroke="#3ddc32" stroke-width="1.15" />
<rect x="27.2" y="241.5" width="102" height="86.1" fill="none" stroke="#4a4f55" stroke-width="0.8"/>
<line x1="33.00" y1="327.60" x2="33.00" y2="326.00" stroke="#4a4f55" stroke-width="0.6" />
<text x="33.00" y="335.10" font-size="6.0" fill="#222" font-weight="bold" font-family='"Liberation Serif", serif' text-anchor="middle" font-style="normal" >600</text>
<line x1="59.45" y1="327.60" x2="59.45" y2="326.00" stroke="#4a4f55" stroke-width="0.6" />
<text x="59.45" y="335.10" font-size="6.0" fill="#222" font-weight="bold" font-family='"Liberation Serif", serif' text-anchor="middle" font-style="normal" >650</text>
<line x1="85.90" y1="327.60" x2="85.90" y2="326.00" stroke="#4a4f55" stroke-width="0.6" />
<text x="85.90" y="335.10" font-size="6.0" fill="#222" font-weight="bold" font-family='"Liberation Serif", serif' text-anchor="middle" font-style="normal" >700</text>
<line x1="112.35" y1="327.60" x2="112.35" y2="326.00" stroke="#4a4f55" stroke-width="0.6" />
<text x="112.35" y="335.10" font-size="6.0" fill="#222" font-weight="bold" font-family='"Liberation Serif", serif' text-anchor="middle" font-style="normal" >750</text>
<line x1="27.20" y1="286.50" x2="28.80" y2="286.50" stroke="#4a4f55" stroke-width="0.6" />
<text transform="translate(19.30,285.40) rotate(-90)" font-size="7.2" font-weight="bold" font-family='"Liberation Serif", serif' text-anchor="middle" fill="#111">Intensity (a.u.)</text>
<text x="78.50" y="343.60" font-size="7.7" fill="#111" font-weight="bold" font-family='"Liberation Serif", serif' text-anchor="middle" font-style="normal" >Wavelength (nm)</text>
<polyline points="27.60,327.50 29.98,327.41 33.44,327.29 37.07,327.14 40.00,327.00 41.97,326.88 43.47,326.77 44.69,326.62 45.80,326.40 46.78,326.13 47.56,325.82 48.25,325.40 49.00,324.80 49.83,323.95 50.68,322.91 51.51,321.79 52.30,320.70 53.03,319.61 53.72,318.49 54.37,317.42 55.00,316.50 55.60,315.75 56.16,315.12 56.70,314.61 57.20,314.20 57.65,313.91 58.06,313.73 58.46,313.64 58.90,313.60 59.38,313.61 59.88,313.68 60.42,313.81 61.00,314.00 61.66,314.28 62.39,314.65 63.13,315.04 63.80,315.40 64.38,315.70 64.91,315.96 65.43,316.25 66.00,316.60 66.63,317.05 67.28,317.56 67.97,318.10 68.70,318.60 69.46,319.06 70.25,319.51 71.09,319.95 72.00,320.40 73.00,320.87 74.06,321.35 75.17,321.81 76.30,322.20 77.44,322.52 78.60,322.79 79.79,323.01 81.00,323.20 82.21,323.35 83.43,323.45 84.71,323.53 86.10,323.60 87.70,323.65 89.45,323.68 91.18,323.71 92.70,323.80 93.91,323.96 94.92,324.16 95.89,324.38 97.00,324.60 98.27,324.82 99.61,325.06 101.03,325.29 102.50,325.50 104.05,325.68 105.69,325.84 107.35,325.98 109.00,326.10 110.62,326.20 112.25,326.28 113.88,326.34 115.50,326.40 117.12,326.46 118.73,326.51 120.35,326.55 122.00,326.60 123.84,326.65 125.81,326.71 127.57,326.76 128.80,326.80" stroke="#f0203a" fill="none" stroke-width="1.3" stroke-linejoin="round"/>
<polyline points="27.60,327.40 29.23,327.29 31.59,327.14 34.06,326.96 36.00,326.80 37.19,326.68 37.97,326.57 38.60,326.43 39.30,326.20 40.10,325.88 40.90,325.50 41.70,325.04 42.50,324.50 43.34,323.92 44.21,323.30 45.05,322.53 45.80,321.50 46.44,320.20 46.99,318.69 47.50,316.95 48.00,315.00 48.46,312.85 48.88,310.49 49.31,307.89 49.80,305.00 50.37,301.91 50.99,298.61 51.64,294.90 52.30,290.60 52.97,285.27 53.67,279.14 54.36,273.01 55.00,267.70 55.60,263.29 56.16,259.40 56.70,256.11 57.20,253.50 57.66,251.73 58.09,250.70 58.49,250.15 58.90,249.80 59.30,249.69 59.70,249.93 60.10,250.36 60.50,250.80 60.89,251.16 61.28,251.56 61.70,252.12 62.20,253.00 62.81,254.16 63.51,255.54 64.25,257.28 65.00,259.50 65.77,262.49 66.57,266.09 67.38,269.78 68.20,273.00 69.02,275.62 69.85,277.91 70.68,280.00 71.50,282.00 72.30,283.94 73.10,285.77 73.90,287.44 74.70,288.90 75.52,290.14 76.35,291.18 77.18,292.06 78.00,292.80 78.82,293.40 79.63,293.84 80.43,294.17 81.20,294.40 81.92,294.53 82.61,294.55 83.30,294.49 84.00,294.40 84.75,294.26 85.52,294.06 86.28,293.83 87.00,293.60 87.67,293.32 88.31,293.00 88.92,292.73 89.50,292.60 90.02,292.64 90.48,292.80 90.96,293.06 91.50,293.40 92.15,293.79 92.86,294.24 93.59,294.83 94.30,295.60 94.99,296.64 95.69,297.89 96.36,299.23 97.00,300.50 97.56,301.67 98.06,302.81 98.58,303.97 99.20,305.20 99.95,306.57 100.79,308.03 101.66,309.48 102.50,310.80 103.30,311.97 104.10,313.04 104.90,314.05 105.70,315.00 106.52,315.91 107.35,316.78 108.18,317.57 109.00,318.30 109.79,318.93 110.57,319.48 111.36,319.99 112.20,320.50 113.09,321.03 114.03,321.55 114.99,322.05 116.00,322.50 117.06,322.91 118.18,323.28 119.31,323.61 120.40,323.90 121.44,324.15 122.46,324.35 123.47,324.53 124.50,324.70 125.66,324.88 126.91,325.05 128.02,325.20 128.80,325.30" stroke="#111" fill="none" stroke-width="1.3" stroke-linejoin="round"/>
<line x1="92.70" y1="249.80" x2="102.40" y2="249.80" stroke="#222" stroke-width="1.0" />
<circle cx="97.50" cy="249.80" r="0.9" fill="#222" />
<line x1="92.70" y1="258.50" x2="102.40" y2="258.50" stroke="#f0203a" stroke-width="1.0" />
<circle cx="97.50" cy="258.50" r="0.9" fill="#f0203a" />
<text x="104" y="252.2" font-size="6.2" font-weight="bold" font-family='"Liberation Serif", serif' fill="#111">H<tspan font-size="4.2" dy="1.3">6</tspan><tspan dy="-1.3">TCPP</tspan></text>
<text x="104.50" y="260.80" font-size="6.2" fill="#111" font-weight="bold" font-family='"Liberation Serif", serif' text-anchor="start" font-style="normal" >I</text>
<circle cx="18.50" cy="343.20" r="0.35" fill="#666" />
<circle cx="22.00" cy="343.20" r="0.35" fill="#666" />
<circle cx="25.50" cy="343.20" r="0.35" fill="#666" />
<rect x="152.3" y="243.2" width="100.1" height="85.8" fill="none" stroke="#4a4f55" stroke-width="0.8"/>
<line x1="152.60" y1="329.00" x2="152.60" y2="327.40" stroke="#4a4f55" stroke-width="0.6" />
<text x="152.60" y="335.30" font-size="6.0" fill="#222" font-weight="bold" font-family='"Liberation Serif", serif' text-anchor="middle" font-style="normal" >0</text>
<line x1="172.56" y1="329.00" x2="172.56" y2="327.40" stroke="#4a4f55" stroke-width="0.6" />
<text x="172.56" y="335.30" font-size="6.0" fill="#222" font-weight="bold" font-family='"Liberation Serif", serif' text-anchor="middle" font-style="normal" >20</text>
<line x1="192.52" y1="329.00" x2="192.52" y2="327.40" stroke="#4a4f55" stroke-width="0.6" />
<text x="192.52" y="335.30" font-size="6.0" fill="#222" font-weight="bold" font-family='"Liberation Serif", serif' text-anchor="middle" font-style="normal" >40</text>
<line x1="212.48" y1="329.00" x2="212.48" y2="327.40" stroke="#4a4f55" stroke-width="0.6" />
<text x="212.48" y="335.30" font-size="6.0" fill="#222" font-weight="bold" font-family='"Liberation Serif", serif' text-anchor="middle" font-style="normal" >60</text>
<line x1="232.44" y1="329.00" x2="232.44" y2="327.40" stroke="#4a4f55" stroke-width="0.6" />
<text x="232.44" y="335.30" font-size="6.0" fill="#222" font-weight="bold" font-family='"Liberation Serif", serif' text-anchor="middle" font-style="normal" >80</text>
<line x1="252.40" y1="329.00" x2="252.40" y2="327.40" stroke="#4a4f55" stroke-width="0.6" />
<text x="252.40" y="335.30" font-size="6.0" fill="#222" font-weight="bold" font-family='"Liberation Serif", serif' text-anchor="middle" font-style="normal" >100</text>
<text transform="translate(146.80,285.80) rotate(-90)" font-size="7.2" font-weight="bold" font-family='"Liberation Serif", serif' text-anchor="middle" fill="#111">Intensity (a.u.)</text>
<text x="200.50" y="343.60" font-size="7.7" fill="#111" font-weight="bold" font-family='"Liberation Serif", serif' text-anchor="middle" font-style="normal" >Time (ns)</text>
<rect x="157.75" y="245.96" width="1.5" height="1.5" fill="#111"/>
<rect x="159.25" y="246.96" width="1.5" height="1.5" fill="#111"/>
<rect x="160.75" y="248.55" width="1.5" height="1.5" fill="#111"/>
<rect x="162.25" y="250.32" width="1.5" height="1.5" fill="#111"/>
<rect x="163.75" y="252.47" width="1.5" height="1.5" fill="#111"/>
<rect x="165.25" y="253.76" width="1.5" height="1.5" fill="#111"/>
<rect x="166.75" y="255.21" width="1.5" height="1.5" fill="#111"/>
<rect x="168.25" y="257.13" width="1.5" height="1.5" fill="#111"/>
<rect x="169.75" y="258.56" width="1.5" height="1.5" fill="#111"/>
<rect x="171.25" y="259.97" width="1.5" height="1.5" fill="#111"/>
<rect x="172.75" y="262.15" width="1.5" height="1.5" fill="#111"/>
<rect x="174.25" y="263.63" width="1.5" height="1.5" fill="#111"/>
<rect x="175.75" y="264.67" width="1.5" height="1.5" fill="#111"/>
<rect x="177.25" y="266.66" width="1.5" height="1.5" fill="#111"/>
<rect x="178.75" y="268.19" width="1.5" height="1.5" fill="#111"/>
<rect x="180.25" y="270.20" width="1.5" height="1.5" fill="#111"/>
<rect x="181.75" y="271.61" width="1.5" height="1.5" fill="#111"/>
<rect x="183.25" y="272.67" width="1.5" height="1.5" fill="#111"/>
<rect x="184.75" y="275.09" width="1.5" height="1.5" fill="#111"/>
<rect x="186.25" y="275.65" width="1.5" height="1.5" fill="#111"/>
<rect x="187.75" y="277.60" width="1.5" height="1.5" fill="#111"/>
<rect x="189.25" y="279.60" width="1.5" height="1.5" fill="#111"/>
<rect x="190.75" y="280.46" width="1.5" height="1.5" fill="#111"/>
<rect x="192.25" y="282.45" width="1.5" height="1.5" fill="#111"/>
<rect x="193.75" y="283.51" width="1.5" height="1.5" fill="#111"/>
<rect x="195.25" y="285.85" width="1.5" height="1.5" fill="#111"/>
<rect x="196.75" y="287.56" width="1.5" height="1.5" fill="#111"/>
<rect x="198.25" y="288.92" width="1.5" height="1.5" fill="#111"/>
<rect x="199.75" y="290.87" width="1.5" height="1.5" fill="#111"/>
<rect x="201.25" y="291.78" width="1.5" height="1.5" fill="#111"/>
<rect x="202.75" y="293.83" width="1.5" height="1.5" fill="#111"/>
<rect x="204.25" y="295.30" width="1.5" height="1.5" fill="#111"/>
<rect x="205.75" y="296.87" width="1.5" height="1.5" fill="#111"/>
<rect x="207.25" y="298.32" width="1.5" height="1.5" fill="#111"/>
<rect x="208.75" y="300.37" width="1.5" height="1.5" fill="#111"/>
<rect x="210.25" y="302.08" width="1.5" height="1.5" fill="#111"/>
<rect x="155.31" y="327.15" width="1.7" height="1.7" fill="#ff1a2a"/>
<rect x="155.17" y="324.55" width="1.7" height="1.7" fill="#ff1a2a"/>
<rect x="155.57" y="321.95" width="1.7" height="1.7" fill="#ff1a2a"/>
<rect x="155.11" y="319.35" width="1.7" height="1.7" fill="#ff1a2a"/>
<rect x="155.48" y="316.75" width="1.7" height="1.7" fill="#ff1a2a"/>
<rect x="155.34" y="314.15" width="1.7" height="1.7" fill="#ff1a2a"/>
<rect x="155.10" y="311.55" width="1.7" height="1.7" fill="#ff1a2a"/>
<rect x="155.46" y="308.95" width="1.7" height="1.7" fill="#ff1a2a"/>
<rect x="155.08" y="306.35" width="1.7" height="1.7" fill="#ff1a2a"/>
<rect x="155.40" y="303.75" width="1.7" height="1.7" fill="#ff1a2a"/>
<rect x="155.11" y="301.15" width="1.7" height="1.7" fill="#ff1a2a"/>
<rect x="155.12" y="298.55" width="1.7" height="1.7" fill="#ff1a2a"/>
<rect x="155.39" y="295.95" width="1.7" height="1.7" fill="#ff1a2a"/>
<rect x="155.71" y="293.35" width="1.7" height="1.7" fill="#ff1a2a"/>
<rect x="155.15" y="290.75" width="1.7" height="1.7" fill="#ff1a2a"/>
<rect x="155.23" y="288.15" width="1.7" height="1.7" fill="#ff1a2a"/>
<rect x="155.55" y="285.55" width="1.7" height="1.7" fill="#ff1a2a"/>
<rect x="155.81" y="282.95" width="1.7" height="1.7" fill="#ff1a2a"/>
<rect x="155.51" y="280.35" width="1.7" height="1.7" fill="#ff1a2a"/>
<rect x="155.37" y="277.75" width="1.7" height="1.7" fill="#ff1a2a"/>
<rect x="155.83" y="275.15" width="1.7" height="1.7" fill="#ff1a2a"/>
<rect x="155.09" y="272.55" width="1.7" height="1.7" fill="#ff1a2a"/>
<rect x="155.74" y="269.95" width="1.7" height="1.7" fill="#ff1a2a"/>
<rect x="155.28" y="267.35" width="1.7" height="1.7" fill="#ff1a2a"/>
<rect x="155.17" y="264.75" width="1.7" height="1.7" fill="#ff1a2a"/>
<rect x="155.14" y="262.15" width="1.7" height="1.7" fill="#ff1a2a"/>
<rect x="155.30" y="259.55" width="1.7" height="1.7" fill="#ff1a2a"/>
<rect x="155.70" y="256.95" width="1.7" height="1.7" fill="#ff1a2a"/>
<rect x="155.19" y="254.35" width="1.7" height="1.7" fill="#ff1a2a"/>
<rect x="155.52" y="251.75" width="1.7" height="1.7" fill="#ff1a2a"/>
<rect x="155.56" y="249.15" width="1.7" height="1.7" fill="#ff1a2a"/>
<rect x="155.35" y="246.55" width="1.7" height="1.7" fill="#ff1a2a"/>
<rect x="152.65" y="307.85" width="1.7" height="1.7" fill="#ff1a2a"/>
<rect x="153.85" y="307.85" width="1.7" height="1.7" fill="#ff1a2a"/>
<rect x="155.05" y="307.85" width="1.7" height="1.7" fill="#ff1a2a"/>
<rect x="156.25" y="307.85" width="1.7" height="1.7" fill="#ff1a2a"/>
<rect x="152.65" y="311.05" width="1.7" height="1.7" fill="#ff1a2a"/>
<rect x="153.85" y="311.05" width="1.7" height="1.7" fill="#ff1a2a"/>
<rect x="155.05" y="311.05" width="1.7" height="1.7" fill="#ff1a2a"/>
<rect x="156.25" y="311.05" width="1.7" height="1.7" fill="#ff1a2a"/>
<rect x="152.65" y="315.35" width="1.7" height="1.7" fill="#ff1a2a"/>
<rect x="153.85" y="315.35" width="1.7" height="1.7" fill="#ff1a2a"/>
<rect x="155.05" y="315.35" width="1.7" height="1.7" fill="#ff1a2a"/>
<rect x="156.25" y="315.35" width="1.7" height="1.7" fill="#ff1a2a"/>
<rect x="152.65" y="323.55" width="1.7" height="1.7" fill="#ff1a2a"/>
<rect x="153.85" y="323.55" width="1.7" height="1.7" fill="#ff1a2a"/>
<rect x="155.05" y="323.55" width="1.7" height="1.7" fill="#ff1a2a"/>
<rect x="156.25" y="323.55" width="1.7" height="1.7" fill="#ff1a2a"/>
<rect x="156.82" y="245.69" width="1.7" height="1.7" fill="#ff1a2a"/>
<rect x="157.05" y="245.58" width="1.7" height="1.7" fill="#ff1a2a"/>
<rect x="157.00" y="247.52" width="1.7" height="1.7" fill="#ff1a2a"/>
<rect x="156.63" y="245.78" width="1.7" height="1.7" fill="#ff1a2a"/>
<rect x="157.34" y="246.37" width="1.7" height="1.7" fill="#ff1a2a"/>
<rect x="157.41" y="246.30" width="1.7" height="1.7" fill="#ff1a2a"/>
<rect x="157.12" y="246.72" width="1.7" height="1.7" fill="#ff1a2a"/>
<rect x="157.72" y="246.70" width="1.7" height="1.7" fill="#ff1a2a"/>
<rect x="157.68" y="247.11" width="1.7" height="1.7" fill="#ff1a2a"/>
<rect x="158.42" y="248.10" width="1.7" height="1.7" fill="#ff1a2a"/>
<rect x="157.63" y="245.90" width="1.7" height="1.7" fill="#ff1a2a"/>
<rect x="158.43" y="247.50" width="1.7" height="1.7" fill="#ff1a2a"/>
<rect x="158.97" y="248.28" width="1.7" height="1.7" fill="#ff1a2a"/>
<rect x="158.57" y="247.08" width="1.7" height="1.7" fill="#ff1a2a"/>
<rect x="158.51" y="249.70" width="1.7" height="1.7" fill="#ff1a2a"/>
<rect x="158.30" y="245.96" width="1.7" height="1.7" fill="#ff1a2a"/>
<rect x="158.93" y="248.44" width="1.7" height="1.7" fill="#ff1a2a"/>
<rect x="159.23" y="249.15" width="1.7" height="1.7" fill="#ff1a2a"/>
<rect x="159.34" y="248.34" width="1.7" height="1.7" fill="#ff1a2a"/>
<rect x="159.17" y="248.45" width="1.7" height="1.7" fill="#ff1a2a"/>
<rect x="159.72" y="246.36" width="1.7" height="1.7" fill="#ff1a2a"/>
<rect x="160.04" y="247.81" width="1.7" height="1.7" fill="#ff1a2a"/>
<rect x="159.87" y="247.69" width="1.7" height="1.7" fill="#ff1a2a"/>
<rect x="159.40" y="247.80" width="1.7" height="1.7" fill="#ff1a2a"/>
<rect x="160.85" y="250.05" width="1.7" height="1.7" fill="#ff1a2a"/>
<rect x="160.75" y="247.18" width="1.7" height="1.7" fill="#ff1a2a"/>
<rect x="160.34" y="249.14" width="1.7" height="1.7" fill="#ff1a2a"/>
<rect x="160.58" y="249.93" width="1.7" height="1.7" fill="#ff1a2a"/>
<rect x="160.61" y="251.00" width="1.7" height="1.7" fill="#ff1a2a"/>
<rect x="160.71" y="250.57" width="1.7" height="1.7" fill="#ff1a2a"/>
<rect x="160.89" y="250.24" width="1.7" height="1.7" fill="#ff1a2a"/>
<rect x="160.70" y="250.23" width="1.7" height="1.7" fill="#ff1a2a"/>
<rect x="161.25" y="250.65" width="1.7" height="1.7" fill="#ff1a2a"/>
<rect x="162.02" y="251.07" width="1.7" height="1.7" fill="#ff1a2a"/>
<rect x="161.76" y="251.44" width="1.7" height="1.7" fill="#ff1a2a"/>
<rect x="161.50" y="251.64" width="1.7" height="1.7" fill="#ff1a2a"/>
<rect x="162.11" y="253.36" width="1.7" height="1.7" fill="#ff1a2a"/>
<rect x="162.74" y="253.31" width="1.7" height="1.7" fill="#ff1a2a"/>
<rect x="162.22" y="250.89" width="1.7" height="1.7" fill="#ff1a2a"/>
<rect x="161.85" y="251.52" width="1.7" height="1.7" fill="#ff1a2a"/>
<rect x="162.69" y="251.84" width="1.7" height="1.7" fill="#ff1a2a"/>
<rect x="162.51" y="254.73" width="1.7" height="1.7" fill="#ff1a2a"/>
<rect x="162.37" y="253.74" width="1.7" height="1.7" fill="#ff1a2a"/>
<rect x="162.50" y="251.57" width="1.7" height="1.7" fill="#ff1a2a"/>
<rect x="163.49" y="254.48" width="1.7" height="1.7" fill="#ff1a2a"/>
<rect x="163.93" y="253.02" width="1.7" height="1.7" fill="#ff1a2a"/>
<rect x="163.81" y="252.34" width="1.7" height="1.7" fill="#ff1a2a"/>
<rect x="163.32" y="251.64" width="1.7" height="1.7" fill="#ff1a2a"/>
<rect x="163.72" y="253.59" width="1.7" height="1.7" fill="#ff1a2a"/>
<rect x="164.33" y="251.49" width="1.7" height="1.7" fill="#ff1a2a"/>
<rect x="163.88" y="253.80" width="1.7" height="1.7" fill="#ff1a2a"/>
<rect x="164.53" y="256.06" width="1.7" height="1.7" fill="#ff1a2a"/>
<rect x="165.00" y="254.96" width="1.7" height="1.7" fill="#ff1a2a"/>
<rect x="164.89" y="251.25" width="1.7" height="1.7" fill="#ff1a2a"/>
<rect x="164.38" y="252.51" width="1.7" height="1.7" fill="#ff1a2a"/>
<rect x="164.18" y="253.80" width="1.7" height="1.7" fill="#ff1a2a"/>
<rect x="164.78" y="254.36" width="1.7" height="1.7" fill="#ff1a2a"/>
<rect x="165.44" y="255.81" width="1.7" height="1.7" fill="#ff1a2a"/>
<rect x="165.71" y="251.00" width="1.7" height="1.7" fill="#ff1a2a"/>
<rect x="165.74" y="255.82" width="1.7" height="1.7" fill="#ff1a2a"/>
<rect x="166.31" y="254.43" width="1.7" height="1.7" fill="#ff1a2a"/>
<rect x="165.58" y="256.09" width="1.7" height="1.7" fill="#ff1a2a"/>
<rect x="165.55" y="255.87" width="1.7" height="1.7" fill="#ff1a2a"/>
<rect x="166.25" y="257.44" width="1.7" height="1.7" fill="#ff1a2a"/>
<rect x="166.79" y="253.36" width="1.7" height="1.7" fill="#ff1a2a"/>
<rect x="166.75" y="256.16" width="1.7" height="1.7" fill="#ff1a2a"/>
<rect x="166.03" y="253.83" width="1.7" height="1.7" fill="#ff1a2a"/>
<rect x="166.73" y="252.65" width="1.7" height="1.7" fill="#ff1a2a"/>
<rect x="167.30" y="255.36" width="1.7" height="1.7" fill="#ff1a2a"/>
<rect x="167.34" y="256.61" width="1.7" height="1.7" fill="#ff1a2a"/>
<rect x="166.88" y="257.94" width="1.7" height="1.7" fill="#ff1a2a"/>
<rect x="166.95" y="251.98" width="1.7" height="1.7" fill="#ff1a2a"/>
<rect x="167.55" y="259.84" width="1.7" height="1.7" fill="#ff1a2a"/>
<rect x="167.32" y="256.12" width="1.7" height="1.7" fill="#ff1a2a"/>
<rect x="167.28" y="259.38" width="1.7" height="1.7" fill="#ff1a2a"/>
<rect x="167.96" y="260.29" width="1.7" height="1.7" fill="#ff1a2a"/>
<rect x="168.30" y="263.45" width="1.7" height="1.7" fill="#ff1a2a"/>
<rect x="168.41" y="256.32" width="1.7" height="1.7" fill="#ff1a2a"/>
<rect x="167.88" y="259.61" width="1.7" height="1.7" fill="#ff1a2a"/>
<rect x="167.76" y="260.37" width="1.7" height="1.7" fill="#ff1a2a"/>
<rect x="168.28" y="257.21" width="1.7" height="1.7" fill="#ff1a2a"/>
<rect x="168.78" y="260.82" width="1.7" height="1.7" fill="#ff1a2a"/>
<rect x="168.56" y="255.74" width="1.7" height="1.7" fill="#ff1a2a"/>
<rect x="168.60" y="257.95" width="1.7" height="1.7" fill="#ff1a2a"/>
<rect x="168.94" y="259.70" width="1.7" height="1.7" fill="#ff1a2a"/>
<rect x="169.37" y="261.89" width="1.7" height="1.7" fill="#ff1a2a"/>
<rect x="169.30" y="262.13" width="1.7" height="1.7" fill="#ff1a2a"/>
<rect x="169.41" y="255.26" width="1.7" height="1.7" fill="#ff1a2a"/>
<rect x="169.37" y="256.82" width="1.7" height="1.7" fill="#ff1a2a"/>
<rect x="170.05" y="257.17" width="1.7" height="1.7" fill="#ff1a2a"/>
<rect x="169.57" y="259.09" width="1.7" height="1.7" fill="#ff1a2a"/>
<rect x="169.99" y="259.65" width="1.7" height="1.7" fill="#ff1a2a"/>
<rect x="170.35" y="259.74" width="1.7" height="1.7" fill="#ff1a2a"/>
<rect x="170.00" y="262.88" width="1.7" height="1.7" fill="#ff1a2a"/>
<rect x="170.71" y="259.05" width="1.7" height="1.7" fill="#ff1a2a"/>
<rect x="170.71" y="262.43" width="1.7" height="1.7" fill="#ff1a2a"/>
<rect x="170.93" y="262.29" width="1.7" height="1.7" fill="#ff1a2a"/>
<rect x="170.40" y="261.85" width="1.7" height="1.7" fill="#ff1a2a"/>
<rect x="171.52" y="258.10" width="1.7" height="1.7" fill="#ff1a2a"/>
<rect x="171.51" y="260.69" width="1.7" height="1.7" fill="#ff1a2a"/>
<rect x="171.66" y="258.09" width="1.7" height="1.7" fill="#ff1a2a"/>
<rect x="171.26" y="261.85" width="1.7" height="1.7" fill="#ff1a2a"/>
<rect x="172.04" y="258.88" width="1.7" height="1.7" fill="#ff1a2a"/>
<rect x="171.83" y="262.24" width="1.7" height="1.7" fill="#ff1a2a"/>
<rect x="172.29" y="260.05" width="1.7" height="1.7" fill="#ff1a2a"/>
<rect x="172.29" y="257.23" width="1.7" height="1.7" fill="#ff1a2a"/>
<rect x="172.51" y="266.07" width="1.7" height="1.7" fill="#ff1a2a"/>
<rect x="172.09" y="260.59" width="1.7" height="1.7" fill="#ff1a2a"/>
<rect x="172.07" y="261.27" width="1.7" height="1.7" fill="#ff1a2a"/>
<rect x="172.19" y="262.38" width="1.7" height="1.7" fill="#ff1a2a"/>
<rect x="172.79" y="266.08" width="1.7" height="1.7" fill="#ff1a2a"/>
<rect x="173.45" y="264.74" width="1.7" height="1.7" fill="#ff1a2a"/>
<rect x="173.21" y="265.68" width="1.7" height="1.7" fill="#ff1a2a"/>
<rect x="172.69" y="267.12" width="1.7" height="1.7" fill="#ff1a2a"/>
<rect x="172.77" y="258.69" width="1.7" height="1.7" fill="#ff1a2a"/>
<rect x="173.55" y="256.29" width="1.7" height="1.7" fill="#ff1a2a"/>
<rect x="173.98" y="263.89" width="1.7" height="1.7" fill="#ff1a2a"/>
<rect x="173.31" y="260.77" width="1.7" height="1.7" fill="#ff1a2a"/>
<rect x="173.49" y="264.49" width="1.7" height="1.7" fill="#ff1a2a"/>
<rect x="173.29" y="266.59" width="1.7" height="1.7" fill="#ff1a2a"/>
<rect x="173.77" y="261.53" width="1.7" height="1.7" fill="#ff1a2a"/>
<rect x="173.77" y="263.09" width="1.7" height="1.7" fill="#ff1a2a"/>
<rect x="174.08" y="261.92" width="1.7" height="1.7" fill="#ff1a2a"/>
<rect x="173.81" y="261.94" width="1.7" height="1.7" fill="#ff1a2a"/>
<rect x="175.14" y="265.70" width="1.7" height="1.7" fill="#ff1a2a"/>
<rect x="174.62" y="264.37" width="1.7" height="1.7" fill="#ff1a2a"/>
<rect x="174.39" y="264.92" width="1.7" height="1.7" fill="#ff1a2a"/>
<rect x="174.48" y="262.67" width="1.7" height="1.7" fill="#ff1a2a"/>
<rect x="175.86" y="266.00" width="1.7" height="1.7" fill="#ff1a2a"/>
<rect x="175.10" y="263.45" width="1.7" height="1.7" fill="#ff1a2a"/>
<rect x="175.87" y="261.71" width="1.7" height="1.7" fill="#ff1a2a"/>
<rect x="175.04" y="263.54" width="1.7" height="1.7" fill="#ff1a2a"/>
<rect x="175.83" y="264.90" width="1.7" height="1.7" fill="#ff1a2a"/>
<rect x="175.62" y="269.14" width="1.7" height="1.7" fill="#ff1a2a"/>
<rect x="176.35" y="264.46" width="1.7" height="1.7" fill="#ff1a2a"/>
<rect x="175.63" y="266.40" width="1.7" height="1.7" fill="#ff1a2a"/>
<rect x="176.41" y="265.08" width="1.7" height="1.7" fill="#ff1a2a"/>
<rect x="176.49" y="260.86" width="1.7" height="1.7" fill="#ff1a2a"/>
<rect x="176.42" y="264.51" width="1.7" height="1.7" fill="#ff1a2a"/>
<rect x="176.28" y="264.56" width="1.7" height="1.7" fill="#ff1a2a"/>
<rect x="176.26" y="266.12" width="1.7" height="1.7" fill="#ff1a2a"/>
<rect x="175.75" y="263.46" width="1.7" height="1.7" fill="#ff1a2a"/>
<rect x="177.06" y="265.56" width="1.7" height="1.7" fill="#ff1a2a"/>
<rect x="177.04" y="271.25" width="1.7" height="1.7" fill="#ff1a2a"/>
<rect x="177.25" y="268.13" width="1.7" height="1.7" fill="#ff1a2a"/>
<rect x="176.77" y="269.25" width="1.7" height="1.7" fill="#ff1a2a"/>
<rect x="177.37" y="267.33" width="1.7" height="1.7" fill="#ff1a2a"/>
<rect x="177.54" y="264.31" width="1.7" height="1.7" fill="#ff1a2a"/>
<rect x="177.82" y="268.86" width="1.7" height="1.7" fill="#ff1a2a"/>
<rect x="178.17" y="267.18" width="1.7" height="1.7" fill="#ff1a2a"/>
<rect x="178.45" y="269.70" width="1.7" height="1.7" fill="#ff1a2a"/>
<rect x="178.46" y="265.96" width="1.7" height="1.7" fill="#ff1a2a"/>
<rect x="178.64" y="270.81" width="1.7" height="1.7" fill="#ff1a2a"/>
<rect x="178.78" y="268.04" width="1.7" height="1.7" fill="#ff1a2a"/>
<rect x="179.19" y="266.81" width="1.7" height="1.7" fill="#ff1a2a"/>
<rect x="178.60" y="270.39" width="1.7" height="1.7" fill="#ff1a2a"/>
<rect x="178.68" y="273.07" width="1.7" height="1.7" fill="#ff1a2a"/>
<rect x="178.81" y="270.91" width="1.7" height="1.7" fill="#ff1a2a"/>
<rect x="178.22" y="273.63" width="1.7" height="1.7" fill="#ff1a2a"/>
<rect x="180.02" y="268.46" width="1.7" height="1.7" fill="#ff1a2a"/>
<rect x="179.39" y="267.53" width="1.7" height="1.7" fill="#ff1a2a"/>
<rect x="179.44" y="267.95" width="1.7" height="1.7" fill="#ff1a2a"/>
<rect x="179.60" y="269.98" width="1.7" height="1.7" fill="#ff1a2a"/>
<rect x="180.71" y="273.77" width="1.7" height="1.7" fill="#ff1a2a"/>
<rect x="179.99" y="269.56" width="1.7" height="1.7" fill="#ff1a2a"/>
<rect x="180.72" y="269.19" width="1.7" height="1.7" fill="#ff1a2a"/>
<rect x="179.75" y="272.71" width="1.7" height="1.7" fill="#ff1a2a"/>
<rect x="180.82" y="268.84" width="1.7" height="1.7" fill="#ff1a2a"/>
<rect x="180.85" y="270.78" width="1.7" height="1.7" fill="#ff1a2a"/>
<rect x="180.35" y="270.70" width="1.7" height="1.7" fill="#ff1a2a"/>
<rect x="180.75" y="272.08" width="1.7" height="1.7" fill="#ff1a2a"/>
<rect x="179.89" y="269.06" width="1.7" height="1.7" fill="#ff1a2a"/>
<rect x="181.18" y="268.28" width="1.7" height="1.7" fill="#ff1a2a"/>
<rect x="181.70" y="269.55" width="1.7" height="1.7" fill="#ff1a2a"/>
<rect x="181.61" y="270.13" width="1.7" height="1.7" fill="#ff1a2a"/>
<rect x="181.34" y="265.43" width="1.7" height="1.7" fill="#ff1a2a"/>
<rect x="182.53" y="274.94" width="1.7" height="1.7" fill="#ff1a2a"/>
<rect x="182.19" y="276.00" width="1.7" height="1.7" fill="#ff1a2a"/>
<rect x="181.59" y="275.33" width="1.7" height="1.7" fill="#ff1a2a"/>
<rect x="182.18" y="266.54" width="1.7" height="1.7" fill="#ff1a2a"/>
<rect x="182.96" y="275.10" width="1.7" height="1.7" fill="#ff1a2a"/>
<rect x="182.65" y="275.57" width="1.7" height="1.7" fill="#ff1a2a"/>
<rect x="182.98" y="274.63" width="1.7" height="1.7" fill="#ff1a2a"/>
<rect x="182.73" y="267.23" width="1.7" height="1.7" fill="#ff1a2a"/>
<rect x="183.43" y="272.51" width="1.7" height="1.7" fill="#ff1a2a"/>
<rect x="182.78" y="271.18" width="1.7" height="1.7" fill="#ff1a2a"/>
<rect x="182.88" y="272.36" width="1.7" height="1.7" fill="#ff1a2a"/>
<rect x="183.59" y="274.44" width="1.7" height="1.7" fill="#ff1a2a"/>
<rect x="183.98" y="270.54" width="1.7" height="1.7" fill="#ff1a2a"/>
<rect x="183.84" y="270.49" width="1.7" height="1.7" fill="#ff1a2a"/>
<rect x="183.35" y="275.50" width="1.7" height="1.7" fill="#ff1a2a"/>
<rect x="183.85" y="268.86" width="1.7" height="1.7" fill="#ff1a2a"/>
<rect x="184.61" y="279.41" width="1.7" height="1.7" fill="#ff1a2a"/>
<rect x="184.20" y="276.69" width="1.7" height="1.7" fill="#ff1a2a"/>
<rect x="184.02" y="274.04" width="1.7" height="1.7" fill="#ff1a2a"/>
<rect x="184.16" y="279.78" width="1.7" height="1.7" fill="#ff1a2a"/>
<rect x="185.53" y="271.94" width="1.7" height="1.7" fill="#ff1a2a"/>
<rect x="185.03" y="275.30" width="1.7" height="1.7" fill="#ff1a2a"/>
<rect x="185.23" y="275.66" width="1.7" height="1.7" fill="#ff1a2a"/>
<rect x="185.19" y="270.64" width="1.7" height="1.7" fill="#ff1a2a"/>
<rect x="184.34" y="272.83" width="1.7" height="1.7" fill="#ff1a2a"/>
<rect x="185.89" y="274.35" width="1.7" height="1.7" fill="#ff1a2a"/>
<rect x="185.16" y="279.89" width="1.7" height="1.7" fill="#ff1a2a"/>
<rect x="185.21" y="275.21" width="1.7" height="1.7" fill="#ff1a2a"/>
<rect x="185.84" y="280.77" width="1.7" height="1.7" fill="#ff1a2a"/>
<rect x="186.04" y="272.65" width="1.7" height="1.7" fill="#ff1a2a"/>
<rect x="186.22" y="276.03" width="1.7" height="1.7" fill="#ff1a2a"/>
<rect x="185.87" y="278.20" width="1.7" height="1.7" fill="#ff1a2a"/>
<rect x="186.73" y="275.02" width="1.7" height="1.7" fill="#ff1a2a"/>
<rect x="186.37" y="270.87" width="1.7" height="1.7" fill="#ff1a2a"/>
<rect x="187.32" y="278.68" width="1.7" height="1.7" fill="#ff1a2a"/>
<rect x="186.80" y="276.77" width="1.7" height="1.7" fill="#ff1a2a"/>
<rect x="187.30" y="279.40" width="1.7" height="1.7" fill="#ff1a2a"/>
<rect x="187.01" y="273.35" width="1.7" height="1.7" fill="#ff1a2a"/>
<rect x="187.47" y="279.46" width="1.7" height="1.7" fill="#ff1a2a"/>
<rect x="187.77" y="277.13" width="1.7" height="1.7" fill="#ff1a2a"/>
<rect x="187.46" y="281.81" width="1.7" height="1.7" fill="#ff1a2a"/>
<rect x="187.18" y="274.11" width="1.7" height="1.7" fill="#ff1a2a"/>
<rect x="188.04" y="278.60" width="1.7" height="1.7" fill="#ff1a2a"/>
<rect x="188.04" y="278.34" width="1.7" height="1.7" fill="#ff1a2a"/>
<rect x="188.00" y="277.67" width="1.7" height="1.7" fill="#ff1a2a"/>
<rect x="187.89" y="280.15" width="1.7" height="1.7" fill="#ff1a2a"/>
<rect x="188.99" y="284.93" width="1.7" height="1.7" fill="#ff1a2a"/>
<rect x="188.99" y="278.99" width="1.7" height="1.7" fill="#ff1a2a"/>
<rect x="188.27" y="284.02" width="1.7" height="1.7" fill="#ff1a2a"/>
<rect x="189.05" y="276.38" width="1.7" height="1.7" fill="#ff1a2a"/>
<rect x="189.15" y="279.69" width="1.7" height="1.7" fill="#ff1a2a"/>
<rect x="189.65" y="281.46" width="1.7" height="1.7" fill="#ff1a2a"/>
<rect x="189.14" y="280.01" width="1.7" height="1.7" fill="#ff1a2a"/>
<rect x="189.07" y="276.58" width="1.7" height="1.7" fill="#ff1a2a"/>
<rect x="188.93" y="283.67" width="1.7" height="1.7" fill="#ff1a2a"/>
<rect x="189.78" y="285.44" width="1.7" height="1.7" fill="#ff1a2a"/>
<rect x="189.75" y="279.31" width="1.7" height="1.7" fill="#ff1a2a"/>
<rect x="189.96" y="278.61" width="1.7" height="1.7" fill="#ff1a2a"/>
<rect x="189.85" y="285.63" width="1.7" height="1.7" fill="#ff1a2a"/>
<rect x="190.26" y="284.31" width="1.7" height="1.7" fill="#ff1a2a"/>
<rect x="190.75" y="286.10" width="1.7" height="1.7" fill="#ff1a2a"/>
<rect x="191.00" y="282.71" width="1.7" height="1.7" fill="#ff1a2a"/>
<rect x="190.83" y="278.06" width="1.7" height="1.7" fill="#ff1a2a"/>
<rect x="190.84" y="281.80" width="1.7" height="1.7" fill="#ff1a2a"/>
<rect x="190.85" y="283.60" width="1.7" height="1.7" fill="#ff1a2a"/>
<rect x="191.18" y="278.79" width="1.7" height="1.7" fill="#ff1a2a"/>
<rect x="191.69" y="279.53" width="1.7" height="1.7" fill="#ff1a2a"/>
<rect x="191.33" y="281.57" width="1.7" height="1.7" fill="#ff1a2a"/>
<rect x="191.19" y="285.31" width="1.7" height="1.7" fill="#ff1a2a"/>
<rect x="191.73" y="280.79" width="1.7" height="1.7" fill="#ff1a2a"/>
<rect x="192.17" y="281.94" width="1.7" height="1.7" fill="#ff1a2a"/>
<rect x="192.10" y="282.84" width="1.7" height="1.7" fill="#ff1a2a"/>
<rect x="191.78" y="280.61" width="1.7" height="1.7" fill="#ff1a2a"/>
<rect x="191.82" y="287.74" width="1.7" height="1.7" fill="#ff1a2a"/>
<rect x="192.05" y="281.17" width="1.7" height="1.7" fill="#ff1a2a"/>
<rect x="193.08" y="289.47" width="1.7" height="1.7" fill="#ff1a2a"/>
<rect x="192.71" y="281.14" width="1.7" height="1.7" fill="#ff1a2a"/>
<rect x="192.50" y="280.67" width="1.7" height="1.7" fill="#ff1a2a"/>
<rect x="192.62" y="280.67" width="1.7" height="1.7" fill="#ff1a2a"/>
<rect x="192.54" y="282.30" width="1.7" height="1.7" fill="#ff1a2a"/>
<rect x="193.51" y="289.26" width="1.7" height="1.7" fill="#ff1a2a"/>
<rect x="193.65" y="284.58" width="1.7" height="1.7" fill="#ff1a2a"/>
<rect x="193.38" y="285.68" width="1.7" height="1.7" fill="#ff1a2a"/>
<rect x="193.35" y="283.85" width="1.7" height="1.7" fill="#ff1a2a"/>
<rect x="193.10" y="283.25" width="1.7" height="1.7" fill="#ff1a2a"/>
<rect x="194.52" y="282.50" width="1.7" height="1.7" fill="#ff1a2a"/>
<rect x="194.15" y="287.54" width="1.7" height="1.7" fill="#ff1a2a"/>
<rect x="194.44" y="283.40" width="1.7" height="1.7" fill="#ff1a2a"/>
<rect x="193.97" y="283.73" width="1.7" height="1.7" fill="#ff1a2a"/>
<rect x="194.07" y="285.70" width="1.7" height="1.7" fill="#ff1a2a"/>
<rect x="195.21" y="290.58" width="1.7" height="1.7" fill="#ff1a2a"/>
<rect x="195.15" y="282.19" width="1.7" height="1.7" fill="#ff1a2a"/>
<rect x="194.48" y="289.16" width="1.7" height="1.7" fill="#ff1a2a"/>
<rect x="195.17" y="286.77" width="1.7" height="1.7" fill="#ff1a2a"/>
<rect x="194.92" y="281.97" width="1.7" height="1.7" fill="#ff1a2a"/>
<rect x="195.46" y="292.23" width="1.7" height="1.7" fill="#ff1a2a"/>
<rect x="195.81" y="291.49" width="1.7" height="1.7" fill="#ff1a2a"/>
<rect x="195.93" y="285.25" width="1.7" height="1.7" fill="#ff1a2a"/>
<rect x="195.24" y="284.29" width="1.7" height="1.7" fill="#ff1a2a"/>
<rect x="195.57" y="289.71" width="1.7" height="1.7" fill="#ff1a2a"/>
<rect x="196.60" y="290.95" width="1.7" height="1.7" fill="#ff1a2a"/>
<rect x="196.37" y="291.40" width="1.7" height="1.7" fill="#ff1a2a"/>
<rect x="196.22" y="289.17" width="1.7" height="1.7" fill="#ff1a2a"/>
<rect x="195.88" y="291.58" width="1.7" height="1.7" fill="#ff1a2a"/>
<rect x="196.04" y="293.01" width="1.7" height="1.7" fill="#ff1a2a"/>
<rect x="197.07" y="287.36" width="1.7" height="1.7" fill="#ff1a2a"/>
<rect x="196.65" y="286.81" width="1.7" height="1.7" fill="#ff1a2a"/>
<rect x="197.06" y="291.53" width="1.7" height="1.7" fill="#ff1a2a"/>
<rect x="196.64" y="284.90" width="1.7" height="1.7" fill="#ff1a2a"/>
<rect x="196.97" y="290.31" width="1.7" height="1.7" fill="#ff1a2a"/>
<rect x="197.56" y="287.27" width="1.7" height="1.7" fill="#ff1a2a"/>
<rect x="197.73" y="284.99" width="1.7" height="1.7" fill="#ff1a2a"/>
<rect x="197.49" y="289.81" width="1.7" height="1.7" fill="#ff1a2a"/>
<rect x="198.02" y="291.78" width="1.7" height="1.7" fill="#ff1a2a"/>
<rect x="197.96" y="289.97" width="1.7" height="1.7" fill="#ff1a2a"/>
<rect x="198.14" y="288.29" width="1.7" height="1.7" fill="#ff1a2a"/>
<rect x="198.72" y="293.25" width="1.7" height="1.7" fill="#ff1a2a"/>
<rect x="198.20" y="285.85" width="1.7" height="1.7" fill="#ff1a2a"/>
<rect x="198.35" y="292.92" width="1.7" height="1.7" fill="#ff1a2a"/>
<rect x="198.29" y="288.40" width="1.7" height="1.7" fill="#ff1a2a"/>
<rect x="199.18" y="296.50" width="1.7" height="1.7" fill="#ff1a2a"/>
<rect x="198.83" y="286.71" width="1.7" height="1.7" fill="#ff1a2a"/>
<rect x="198.92" y="290.96" width="1.7" height="1.7" fill="#ff1a2a"/>
<rect x="199.20" y="288.51" width="1.7" height="1.7" fill="#ff1a2a"/>
<rect x="199.29" y="294.45" width="1.7" height="1.7" fill="#ff1a2a"/>
<rect x="199.75" y="289.35" width="1.7" height="1.7" fill="#ff1a2a"/>
<rect x="200.13" y="290.53" width="1.7" height="1.7" fill="#ff1a2a"/>
<rect x="200.01" y="289.63" width="1.7" height="1.7" fill="#ff1a2a"/>
<rect x="199.53" y="295.52" width="1.7" height="1.7" fill="#ff1a2a"/>
<rect x="199.59" y="297.65" width="1.7" height="1.7" fill="#ff1a2a"/>
<rect x="200.45" y="289.90" width="1.7" height="1.7" fill="#ff1a2a"/>
<rect x="200.23" y="292.49" width="1.7" height="1.7" fill="#ff1a2a"/>
<rect x="200.58" y="298.48" width="1.7" height="1.7" fill="#ff1a2a"/>
<rect x="200.17" y="292.22" width="1.7" height="1.7" fill="#ff1a2a"/>
<rect x="200.22" y="298.76" width="1.7" height="1.7" fill="#ff1a2a"/>
<rect x="200.86" y="289.11" width="1.7" height="1.7" fill="#ff1a2a"/>
<rect x="200.80" y="293.01" width="1.7" height="1.7" fill="#ff1a2a"/>
<rect x="201.47" y="298.59" width="1.7" height="1.7" fill="#ff1a2a"/>
<rect x="201.34" y="299.89" width="1.7" height="1.7" fill="#ff1a2a"/>
<rect x="201.50" y="292.28" width="1.7" height="1.7" fill="#ff1a2a"/>
<rect x="201.60" y="300.05" width="1.7" height="1.7" fill="#ff1a2a"/>
<rect x="202.05" y="289.62" width="1.7" height="1.7" fill="#ff1a2a"/>
<rect x="201.98" y="293.62" width="1.7" height="1.7" fill="#ff1a2a"/>
<rect x="201.75" y="293.08" width="1.7" height="1.7" fill="#ff1a2a"/>
<rect x="201.59" y="289.28" width="1.7" height="1.7" fill="#ff1a2a"/>
<rect x="202.37" y="294.08" width="1.7" height="1.7" fill="#ff1a2a"/>
<rect x="202.91" y="291.42" width="1.7" height="1.7" fill="#ff1a2a"/>
<rect x="202.92" y="292.40" width="1.7" height="1.7" fill="#ff1a2a"/>
<rect x="202.44" y="299.57" width="1.7" height="1.7" fill="#ff1a2a"/>
<rect x="202.81" y="295.03" width="1.7" height="1.7" fill="#ff1a2a"/>
<rect x="202.89" y="296.30" width="1.7" height="1.7" fill="#ff1a2a"/>
<rect x="203.15" y="301.57" width="1.7" height="1.7" fill="#ff1a2a"/>
<rect x="203.00" y="295.01" width="1.7" height="1.7" fill="#ff1a2a"/>
<rect x="203.57" y="291.06" width="1.7" height="1.7" fill="#ff1a2a"/>
<rect x="203.18" y="300.30" width="1.7" height="1.7" fill="#ff1a2a"/>
<rect x="204.16" y="291.92" width="1.7" height="1.7" fill="#ff1a2a"/>
<rect x="203.58" y="292.18" width="1.7" height="1.7" fill="#ff1a2a"/>
<rect x="204.29" y="294.51" width="1.7" height="1.7" fill="#ff1a2a"/>
<rect x="204.15" y="302.18" width="1.7" height="1.7" fill="#ff1a2a"/>
<rect x="203.82" y="294.69" width="1.7" height="1.7" fill="#ff1a2a"/>
<rect x="204.74" y="303.60" width="1.7" height="1.7" fill="#ff1a2a"/>
<rect x="204.82" y="294.61" width="1.7" height="1.7" fill="#ff1a2a"/>
<rect x="204.47" y="295.31" width="1.7" height="1.7" fill="#ff1a2a"/>
<rect x="204.65" y="287.19" width="1.7" height="1.7" fill="#ff1a2a"/>
<rect x="205.66" y="303.08" width="1.7" height="1.7" fill="#ff1a2a"/>
<rect x="205.17" y="303.42" width="1.7" height="1.7" fill="#ff1a2a"/>
<rect x="205.53" y="294.33" width="1.7" height="1.7" fill="#ff1a2a"/>
<rect x="206.36" y="303.56" width="1.7" height="1.7" fill="#ff1a2a"/>
<rect x="206.39" y="294.64" width="1.7" height="1.7" fill="#ff1a2a"/>
<rect x="206.79" y="297.72" width="1.7" height="1.7" fill="#ff1a2a"/>
<rect x="207.54" y="301.67" width="1.7" height="1.7" fill="#ff1a2a"/>
<rect x="207.57" y="301.92" width="1.7" height="1.7" fill="#ff1a2a"/>
<rect x="207.21" y="299.21" width="1.7" height="1.7" fill="#ff1a2a"/>
<rect x="208.48" y="296.19" width="1.7" height="1.7" fill="#ff1a2a"/>
<rect x="208.01" y="292.67" width="1.7" height="1.7" fill="#ff1a2a"/>
<rect x="208.05" y="301.07" width="1.7" height="1.7" fill="#ff1a2a"/>
<rect x="208.25" y="290.55" width="1.7" height="1.7" fill="#ff1a2a"/>
<rect x="209.01" y="298.62" width="1.7" height="1.7" fill="#ff1a2a"/>
<rect x="209.46" y="303.91" width="1.7" height="1.7" fill="#ff1a2a"/>
<rect x="208.96" y="304.00" width="1.7" height="1.7" fill="#ff1a2a"/>
<rect x="209.15" y="290.41" width="1.7" height="1.7" fill="#ff1a2a"/>
<rect x="210.22" y="298.01" width="1.7" height="1.7" fill="#ff1a2a"/>
<rect x="209.84" y="297.38" width="1.7" height="1.7" fill="#ff1a2a"/>
<rect x="210.15" y="297.02" width="1.7" height="1.7" fill="#ff1a2a"/>
<rect x="211.23" y="301.10" width="1.7" height="1.7" fill="#ff1a2a"/>
<rect x="210.65" y="300.08" width="1.7" height="1.7" fill="#ff1a2a"/>
<rect x="210.79" y="302.22" width="1.7" height="1.7" fill="#ff1a2a"/>
<rect x="212.04" y="296.63" width="1.7" height="1.7" fill="#ff1a2a"/>
<rect x="211.65" y="294.54" width="1.7" height="1.7" fill="#ff1a2a"/>
<rect x="211.57" y="295.09" width="1.7" height="1.7" fill="#ff1a2a"/>
<rect x="212.61" y="299.14" width="1.7" height="1.7" fill="#ff1a2a"/>
<rect x="213.14" y="296.97" width="1.7" height="1.7" fill="#ff1a2a"/>
<rect x="212.54" y="298.30" width="1.7" height="1.7" fill="#ff1a2a"/>
<rect x="214.04" y="300.07" width="1.7" height="1.7" fill="#ff1a2a"/>
<rect x="213.63" y="293.59" width="1.7" height="1.7" fill="#ff1a2a"/>
<rect x="213.92" y="302.02" width="1.7" height="1.7" fill="#ff1a2a"/>
<rect x="214.38" y="292.97" width="1.7" height="1.7" fill="#ff1a2a"/>
<rect x="214.30" y="293.89" width="1.7" height="1.7" fill="#ff1a2a"/>
<rect x="214.62" y="303.84" width="1.7" height="1.7" fill="#ff1a2a"/>
<rect x="215.74" y="296.91" width="1.7" height="1.7" fill="#ff1a2a"/>
<rect x="215.26" y="297.80" width="1.7" height="1.7" fill="#ff1a2a"/>
<rect x="215.81" y="301.59" width="1.7" height="1.7" fill="#ff1a2a"/>
<rect x="215.45" y="289.23" width="1.7" height="1.7" fill="#ff1a2a"/>
<rect x="216.12" y="299.81" width="1.7" height="1.7" fill="#ff1a2a"/>
<rect x="216.06" y="296.94" width="1.7" height="1.7" fill="#ff1a2a"/>
<rect x="216.15" y="295.06" width="1.7" height="1.7" fill="#ff1a2a"/>
<rect x="217.01" y="300.21" width="1.7" height="1.7" fill="#ff1a2a"/>
<rect x="217.11" y="292.98" width="1.7" height="1.7" fill="#ff1a2a"/>
<rect x="217.00" y="300.52" width="1.7" height="1.7" fill="#ff1a2a"/>
<rect x="218.39" y="295.24" width="1.7" height="1.7" fill="#ff1a2a"/>
<rect x="217.80" y="299.10" width="1.7" height="1.7" fill="#ff1a2a"/>
<rect x="218.07" y="294.10" width="1.7" height="1.7" fill="#ff1a2a"/>
<rect x="218.72" y="300.16" width="1.7" height="1.7" fill="#ff1a2a"/>
<rect x="219.21" y="294.90" width="1.7" height="1.7" fill="#ff1a2a"/>
<rect x="218.88" y="297.62" width="1.7" height="1.7" fill="#ff1a2a"/>
<rect x="219.80" y="303.64" width="1.7" height="1.7" fill="#ff1a2a"/>
<rect x="219.84" y="299.41" width="1.7" height="1.7" fill="#ff1a2a"/>
<rect x="220.24" y="297.76" width="1.7" height="1.7" fill="#ff1a2a"/>
<rect x="220.61" y="297.26" width="1.7" height="1.7" fill="#ff1a2a"/>
<rect x="220.61" y="301.20" width="1.7" height="1.7" fill="#ff1a2a"/>
<rect x="221.17" y="293.38" width="1.7" height="1.7" fill="#ff1a2a"/>
<rect x="221.67" y="302.23" width="1.7" height="1.7" fill="#ff1a2a"/>
<rect x="221.72" y="302.89" width="1.7" height="1.7" fill="#ff1a2a"/>
<rect x="221.36" y="295.18" width="1.7" height="1.7" fill="#ff1a2a"/>
<rect x="222.98" y="300.34" width="1.7" height="1.7" fill="#ff1a2a"/>
<rect x="222.75" y="294.50" width="1.7" height="1.7" fill="#ff1a2a"/>
<rect x="222.65" y="297.48" width="1.7" height="1.7" fill="#ff1a2a"/>
<rect x="222.65" y="291.42" width="1.7" height="1.7" fill="#ff1a2a"/>
<rect x="223.89" y="299.13" width="1.7" height="1.7" fill="#ff1a2a"/>
<rect x="223.54" y="294.81" width="1.7" height="1.7" fill="#ff1a2a"/>
<rect x="223.92" y="302.10" width="1.7" height="1.7" fill="#ff1a2a"/>
<rect x="224.80" y="295.10" width="1.7" height="1.7" fill="#ff1a2a"/>
<rect x="224.44" y="303.90" width="1.7" height="1.7" fill="#ff1a2a"/>
<rect x="224.79" y="294.34" width="1.7" height="1.7" fill="#ff1a2a"/>
<rect x="225.45" y="303.17" width="1.7" height="1.7" fill="#ff1a2a"/>
<rect x="225.08" y="302.35" width="1.7" height="1.7" fill="#ff1a2a"/>
<rect x="225.13" y="301.96" width="1.7" height="1.7" fill="#ff1a2a"/>
<rect x="226.51" y="302.59" width="1.7" height="1.7" fill="#ff1a2a"/>
<rect x="226.02" y="295.88" width="1.7" height="1.7" fill="#ff1a2a"/>
<rect x="226.26" y="298.07" width="1.7" height="1.7" fill="#ff1a2a"/>
<rect x="226.95" y="295.37" width="1.7" height="1.7" fill="#ff1a2a"/>
<rect x="227.47" y="301.40" width="1.7" height="1.7" fill="#ff1a2a"/>
<rect x="227.20" y="294.55" width="1.7" height="1.7" fill="#ff1a2a"/>
<rect x="228.32" y="294.63" width="1.7" height="1.7" fill="#ff1a2a"/>
<rect x="228.13" y="295.42" width="1.7" height="1.7" fill="#ff1a2a"/>
<rect x="228.15" y="299.70" width="1.7" height="1.7" fill="#ff1a2a"/>
<rect x="229.02" y="298.48" width="1.7" height="1.7" fill="#ff1a2a"/>
<rect x="229.08" y="298.54" width="1.7" height="1.7" fill="#ff1a2a"/>
<rect x="228.90" y="298.74" width="1.7" height="1.7" fill="#ff1a2a"/>
<rect x="228.95" y="290.90" width="1.7" height="1.7" fill="#ff1a2a"/>
<rect x="229.64" y="299.22" width="1.7" height="1.7" fill="#ff1a2a"/>
<rect x="230.07" y="301.87" width="1.7" height="1.7" fill="#ff1a2a"/>
<rect x="229.59" y="298.92" width="1.7" height="1.7" fill="#ff1a2a"/>
<rect x="230.45" y="295.63" width="1.7" height="1.7" fill="#ff1a2a"/>
<rect x="230.42" y="298.72" width="1.7" height="1.7" fill="#ff1a2a"/>
<rect x="230.76" y="298.83" width="1.7" height="1.7" fill="#ff1a2a"/>
<rect x="230.75" y="291.06" width="1.7" height="1.7" fill="#ff1a2a"/>
<rect x="231.84" y="295.50" width="1.7" height="1.7" fill="#ff1a2a"/>
<rect x="231.66" y="302.05" width="1.7" height="1.7" fill="#ff1a2a"/>
<rect x="231.65" y="295.24" width="1.7" height="1.7" fill="#ff1a2a"/>
<rect x="232.26" y="303.69" width="1.7" height="1.7" fill="#ff1a2a"/>
<rect x="232.95" y="302.82" width="1.7" height="1.7" fill="#ff1a2a"/>
<rect x="232.80" y="301.66" width="1.7" height="1.7" fill="#ff1a2a"/>
<rect x="233.44" y="303.98" width="1.7" height="1.7" fill="#ff1a2a"/>
<rect x="233.78" y="303.75" width="1.7" height="1.7" fill="#ff1a2a"/>
<rect x="233.68" y="296.48" width="1.7" height="1.7" fill="#ff1a2a"/>
<rect x="234.23" y="295.67" width="1.7" height="1.7" fill="#ff1a2a"/>
<rect x="234.08" y="301.94" width="1.7" height="1.7" fill="#ff1a2a"/>
<rect x="234.17" y="303.21" width="1.7" height="1.7" fill="#ff1a2a"/>
<rect x="235.25" y="296.48" width="1.7" height="1.7" fill="#ff1a2a"/>
<rect x="235.02" y="303.43" width="1.7" height="1.7" fill="#ff1a2a"/>
<rect x="235.25" y="297.55" width="1.7" height="1.7" fill="#ff1a2a"/>
<rect x="235.90" y="295.64" width="1.7" height="1.7" fill="#ff1a2a"/>
<rect x="236.50" y="296.74" width="1.7" height="1.7" fill="#ff1a2a"/>
<rect x="236.47" y="301.32" width="1.7" height="1.7" fill="#ff1a2a"/>
<rect x="236.74" y="302.27" width="1.7" height="1.7" fill="#ff1a2a"/>
<rect x="237.16" y="300.06" width="1.7" height="1.7" fill="#ff1a2a"/>
<rect x="237.35" y="298.57" width="1.7" height="1.7" fill="#ff1a2a"/>
<rect x="238.26" y="300.54" width="1.7" height="1.7" fill="#ff1a2a"/>
<rect x="238.34" y="296.44" width="1.7" height="1.7" fill="#ff1a2a"/>
<rect x="237.87" y="300.96" width="1.7" height="1.7" fill="#ff1a2a"/>
<rect x="239.24" y="297.91" width="1.7" height="1.7" fill="#ff1a2a"/>
<rect x="238.74" y="300.56" width="1.7" height="1.7" fill="#ff1a2a"/>
<rect x="238.80" y="302.15" width="1.7" height="1.7" fill="#ff1a2a"/>
<rect x="239.39" y="302.00" width="1.7" height="1.7" fill="#ff1a2a"/>
<rect x="239.55" y="302.64" width="1.7" height="1.7" fill="#ff1a2a"/>
<rect x="240.14" y="301.13" width="1.7" height="1.7" fill="#ff1a2a"/>
<rect x="240.50" y="301.37" width="1.7" height="1.7" fill="#ff1a2a"/>
<rect x="240.28" y="295.91" width="1.7" height="1.7" fill="#ff1a2a"/>
<rect x="240.74" y="297.13" width="1.7" height="1.7" fill="#ff1a2a"/>
<rect x="241.87" y="300.18" width="1.7" height="1.7" fill="#ff1a2a"/>
<rect x="241.33" y="297.09" width="1.7" height="1.7" fill="#ff1a2a"/>
<rect x="241.17" y="301.33" width="1.7" height="1.7" fill="#ff1a2a"/>
<rect x="241.55" y="293.59" width="1.7" height="1.7" fill="#ff1a2a"/>
<rect x="242.34" y="296.98" width="1.7" height="1.7" fill="#ff1a2a"/>
<rect x="242.52" y="297.93" width="1.7" height="1.7" fill="#ff1a2a"/>
<rect x="242.21" y="300.85" width="1.7" height="1.7" fill="#ff1a2a"/>
<rect x="243.06" y="300.00" width="1.7" height="1.7" fill="#ff1a2a"/>
<rect x="243.14" y="303.65" width="1.7" height="1.7" fill="#ff1a2a"/>
<rect x="243.03" y="297.43" width="1.7" height="1.7" fill="#ff1a2a"/>
<rect x="244.48" y="303.15" width="1.7" height="1.7" fill="#ff1a2a"/>
<rect x="244.06" y="299.49" width="1.7" height="1.7" fill="#ff1a2a"/>
<rect x="244.37" y="296.45" width="1.7" height="1.7" fill="#ff1a2a"/>
<rect x="245.27" y="299.17" width="1.7" height="1.7" fill="#ff1a2a"/>
<rect x="245.50" y="299.88" width="1.7" height="1.7" fill="#ff1a2a"/>
<rect x="244.95" y="302.11" width="1.7" height="1.7" fill="#ff1a2a"/>
<rect x="246.08" y="296.93" width="1.7" height="1.7" fill="#ff1a2a"/>
<rect x="245.84" y="299.66" width="1.7" height="1.7" fill="#ff1a2a"/>
<rect x="246.27" y="297.04" width="1.7" height="1.7" fill="#ff1a2a"/>
<rect x="246.05" y="293.39" width="1.7" height="1.7" fill="#ff1a2a"/>
<rect x="246.66" y="303.71" width="1.7" height="1.7" fill="#ff1a2a"/>
<rect x="247.04" y="298.20" width="1.7" height="1.7" fill="#ff1a2a"/>
<rect x="247.06" y="300.48" width="1.7" height="1.7" fill="#ff1a2a"/>
<rect x="247.70" y="298.11" width="1.7" height="1.7" fill="#ff1a2a"/>
<rect x="247.49" y="299.03" width="1.7" height="1.7" fill="#ff1a2a"/>
<rect x="248.08" y="303.34" width="1.7" height="1.7" fill="#ff1a2a"/>
<rect x="249.03" y="296.99" width="1.7" height="1.7" fill="#ff1a2a"/>
<rect x="248.72" y="302.31" width="1.7" height="1.7" fill="#ff1a2a"/>
<rect x="248.71" y="302.29" width="1.7" height="1.7" fill="#ff1a2a"/>
<rect x="249.44" y="297.81" width="1.7" height="1.7" fill="#ff1a2a"/>
<rect x="249.52" y="297.34" width="1.7" height="1.7" fill="#ff1a2a"/>
<rect x="249.81" y="302.38" width="1.7" height="1.7" fill="#ff1a2a"/>
<rect x="250.36" y="302.14" width="1.7" height="1.7" fill="#ff1a2a"/>
<rect x="250.50" y="301.04" width="1.7" height="1.7" fill="#ff1a2a"/>
<rect x="250.57" y="302.68" width="1.7" height="1.7" fill="#ff1a2a"/>
<rect x="203.65" y="304.95" width="1.7" height="1.7" fill="#ff1a2a"/>
<rect x="204.75" y="304.95" width="1.7" height="1.7" fill="#ff1a2a"/>
<rect x="205.85" y="304.95" width="1.7" height="1.7" fill="#ff1a2a"/>
<rect x="206.95" y="304.95" width="1.7" height="1.7" fill="#ff1a2a"/>
<rect x="209.15" y="304.95" width="1.7" height="1.7" fill="#ff1a2a"/>
<rect x="210.25" y="304.95" width="1.7" height="1.7" fill="#ff1a2a"/>
<rect x="211.35" y="304.95" width="1.7" height="1.7" fill="#ff1a2a"/>
<rect x="212.45" y="304.95" width="1.7" height="1.7" fill="#ff1a2a"/>
<rect x="213.55" y="304.95" width="1.7" height="1.7" fill="#ff1a2a"/>
<rect x="214.65" y="304.95" width="1.7" height="1.7" fill="#ff1a2a"/>
<rect x="215.75" y="304.95" width="1.7" height="1.7" fill="#ff1a2a"/>
<rect x="216.85" y="304.95" width="1.7" height="1.7" fill="#ff1a2a"/>
<rect x="217.95" y="304.95" width="1.7" height="1.7" fill="#ff1a2a"/>
<rect x="219.05" y="304.95" width="1.7" height="1.7" fill="#ff1a2a"/>
<rect x="220.15" y="304.95" width="1.7" height="1.7" fill="#ff1a2a"/>
<rect x="221.25" y="304.95" width="1.7" height="1.7" fill="#ff1a2a"/>
<rect x="222.35" y="304.95" width="1.7" height="1.7" fill="#ff1a2a"/>
<rect x="223.45" y="304.95" width="1.7" height="1.7" fill="#ff1a2a"/>
<rect x="224.55" y="304.95" width="1.7" height="1.7" fill="#ff1a2a"/>
<rect x="225.65" y="304.95" width="1.7" height="1.7" fill="#ff1a2a"/>
<rect x="226.75" y="304.95" width="1.7" height="1.7" fill="#ff1a2a"/>
<rect x="227.85" y="304.95" width="1.7" height="1.7" fill="#ff1a2a"/>
<rect x="228.95" y="304.95" width="1.7" height="1.7" fill="#ff1a2a"/>
<rect x="230.05" y="304.95" width="1.7" height="1.7" fill="#ff1a2a"/>
<rect x="231.15" y="304.95" width="1.7" height="1.7" fill="#ff1a2a"/>
<rect x="232.25" y="304.95" width="1.7" height="1.7" fill="#ff1a2a"/>
<rect x="233.35" y="304.95" width="1.7" height="1.7" fill="#ff1a2a"/>
<rect x="234.45" y="304.95" width="1.7" height="1.7" fill="#ff1a2a"/>
<rect x="235.55" y="304.95" width="1.7" height="1.7" fill="#ff1a2a"/>
<rect x="236.65" y="304.95" width="1.7" height="1.7" fill="#ff1a2a"/>
<rect x="237.75" y="304.95" width="1.7" height="1.7" fill="#ff1a2a"/>
<rect x="239.95" y="304.95" width="1.7" height="1.7" fill="#ff1a2a"/>
<rect x="241.05" y="304.95" width="1.7" height="1.7" fill="#ff1a2a"/>
<rect x="242.15" y="304.95" width="1.7" height="1.7" fill="#ff1a2a"/>
<rect x="243.25" y="304.95" width="1.7" height="1.7" fill="#ff1a2a"/>
<rect x="246.55" y="304.95" width="1.7" height="1.7" fill="#ff1a2a"/>
<rect x="247.65" y="304.95" width="1.7" height="1.7" fill="#ff1a2a"/>
<rect x="248.75" y="304.95" width="1.7" height="1.7" fill="#ff1a2a"/>
<rect x="249.85" y="304.95" width="1.7" height="1.7" fill="#ff1a2a"/>
<rect x="250.95" y="304.95" width="1.7" height="1.7" fill="#ff1a2a"/>
<rect x="204.95" y="307.85" width="1.7" height="1.7" fill="#ff1a2a"/>
<rect x="206.05" y="307.85" width="1.7" height="1.7" fill="#ff1a2a"/>
<rect x="207.15" y="307.85" width="1.7" height="1.7" fill="#ff1a2a"/>
<rect x="208.25" y="307.85" width="1.7" height="1.7" fill="#ff1a2a"/>
<rect x="209.35" y="307.85" width="1.7" height="1.7" fill="#ff1a2a"/>
<rect x="210.45" y="307.85" width="1.7" height="1.7" fill="#ff1a2a"/>
<rect x="211.55" y="307.85" width="1.7" height="1.7" fill="#ff1a2a"/>
<rect x="212.65" y="307.85" width="1.7" height="1.7" fill="#ff1a2a"/>
<rect x="213.75" y="307.85" width="1.7" height="1.7" fill="#ff1a2a"/>
<rect x="215.95" y="307.85" width="1.7" height="1.7" fill="#ff1a2a"/>
<rect x="217.05" y="307.85" width="1.7" height="1.7" fill="#ff1a2a"/>
<rect x="218.15" y="307.85" width="1.7" height="1.7" fill="#ff1a2a"/>
<rect x="219.25" y="307.85" width="1.7" height="1.7" fill="#ff1a2a"/>
<rect x="220.35" y="307.85" width="1.7" height="1.7" fill="#ff1a2a"/>
<rect x="221.45" y="307.85" width="1.7" height="1.7" fill="#ff1a2a"/>
<rect x="222.55" y="307.85" width="1.7" height="1.7" fill="#ff1a2a"/>
<rect x="223.65" y="307.85" width="1.7" height="1.7" fill="#ff1a2a"/>
<rect x="224.75" y="307.85" width="1.7" height="1.7" fill="#ff1a2a"/>
<rect x="225.85" y="307.85" width="1.7" height="1.7" fill="#ff1a2a"/>
<rect x="226.95" y="307.85" width="1.7" height="1.7" fill="#ff1a2a"/>
<rect x="228.05" y="307.85" width="1.7" height="1.7" fill="#ff1a2a"/>
<rect x="230.25" y="307.85" width="1.7" height="1.7" fill="#ff1a2a"/>
<rect x="231.35" y="307.85" width="1.7" height="1.7" fill="#ff1a2a"/>
<rect x="232.45" y="307.85" width="1.7" height="1.7" fill="#ff1a2a"/>
<rect x="233.55" y="307.85" width="1.7" height="1.7" fill="#ff1a2a"/>
<rect x="234.65" y="307.85" width="1.7" height="1.7" fill="#ff1a2a"/>
<rect x="235.75" y="307.85" width="1.7" height="1.7" fill="#ff1a2a"/>
<rect x="236.85" y="307.85" width="1.7" height="1.7" fill="#ff1a2a"/>
<rect x="237.95" y="307.85" width="1.7" height="1.7" fill="#ff1a2a"/>
<rect x="239.05" y="307.85" width="1.7" height="1.7" fill="#ff1a2a"/>
<rect x="241.25" y="307.85" width="1.7" height="1.7" fill="#ff1a2a"/>
<rect x="242.35" y="307.85" width="1.7" height="1.7" fill="#ff1a2a"/>
<rect x="243.45" y="307.85" width="1.7" height="1.7" fill="#ff1a2a"/>
<rect x="244.55" y="307.85" width="1.7" height="1.7" fill="#ff1a2a"/>
<rect x="245.65" y="307.85" width="1.7" height="1.7" fill="#ff1a2a"/>
<rect x="246.75" y="307.85" width="1.7" height="1.7" fill="#ff1a2a"/>
<rect x="247.85" y="307.85" width="1.7" height="1.7" fill="#ff1a2a"/>
<rect x="248.95" y="307.85" width="1.7" height="1.7" fill="#ff1a2a"/>
<rect x="250.05" y="307.85" width="1.7" height="1.7" fill="#ff1a2a"/>
<rect x="251.15" y="307.85" width="1.7" height="1.7" fill="#ff1a2a"/>
<rect x="203.65" y="311.05" width="1.7" height="1.7" fill="#ff1a2a"/>
<rect x="204.75" y="311.05" width="1.7" height="1.7" fill="#ff1a2a"/>
<rect x="206.95" y="311.05" width="1.7" height="1.7" fill="#ff1a2a"/>
<rect x="208.05" y="311.05" width="1.7" height="1.7" fill="#ff1a2a"/>
<rect x="209.15" y="311.05" width="1.7" height="1.7" fill="#ff1a2a"/>
<rect x="210.25" y="311.05" width="1.7" height="1.7" fill="#ff1a2a"/>
<rect x="211.35" y="311.05" width="1.7" height="1.7" fill="#ff1a2a"/>
<rect x="212.45" y="311.05" width="1.7" height="1.7" fill="#ff1a2a"/>
<rect x="213.55" y="311.05" width="1.7" height="1.7" fill="#ff1a2a"/>
<rect x="214.65" y="311.05" width="1.7" height="1.7" fill="#ff1a2a"/>
<rect x="215.75" y="311.05" width="1.7" height="1.7" fill="#ff1a2a"/>
<rect x="216.85" y="311.05" width="1.7" height="1.7" fill="#ff1a2a"/>
<rect x="217.95" y="311.05" width="1.7" height="1.7" fill="#ff1a2a"/>
<rect x="219.05" y="311.05" width="1.7" height="1.7" fill="#ff1a2a"/>
<rect x="220.15" y="311.05" width="1.7" height="1.7" fill="#ff1a2a"/>
<rect x="221.25" y="311.05" width="1.7" height="1.7" fill="#ff1a2a"/>
<rect x="222.35" y="311.05" width="1.7" height="1.7" fill="#ff1a2a"/>
<rect x="223.45" y="311.05" width="1.7" height="1.7" fill="#ff1a2a"/>
<rect x="224.55" y="311.05" width="1.7" height="1.7" fill="#ff1a2a"/>
<rect x="225.65" y="311.05" width="1.7" height="1.7" fill="#ff1a2a"/>
<rect x="226.75" y="311.05" width="1.7" height="1.7" fill="#ff1a2a"/>
<rect x="227.85" y="311.05" width="1.7" height="1.7" fill="#ff1a2a"/>
<rect x="228.95" y="311.05" width="1.7" height="1.7" fill="#ff1a2a"/>
<rect x="230.05" y="311.05" width="1.7" height="1.7" fill="#ff1a2a"/>
<rect x="231.15" y="311.05" width="1.7" height="1.7" fill="#ff1a2a"/>
<rect x="232.25" y="311.05" width="1.7" height="1.7" fill="#ff1a2a"/>
<rect x="233.35" y="311.05" width="1.7" height="1.7" fill="#ff1a2a"/>
<rect x="234.45" y="311.05" width="1.7" height="1.7" fill="#ff1a2a"/>
<rect x="236.65" y="311.05" width="1.7" height="1.7" fill="#ff1a2a"/>
<rect x="237.75" y="311.05" width="1.7" height="1.7" fill="#ff1a2a"/>
<rect x="238.85" y="311.05" width="1.7" height="1.7" fill="#ff1a2a"/>
<rect x="239.95" y="311.05" width="1.7" height="1.7" fill="#ff1a2a"/>
<rect x="241.05" y="311.05" width="1.7" height="1.7" fill="#ff1a2a"/>
<rect x="242.15" y="311.05" width="1.7" height="1.7" fill="#ff1a2a"/>
<rect x="243.25" y="311.05" width="1.7" height="1.7" fill="#ff1a2a"/>
<rect x="244.35" y="311.05" width="1.7" height="1.7" fill="#ff1a2a"/>
<rect x="245.45" y="311.05" width="1.7" height="1.7" fill="#ff1a2a"/>
<rect x="246.55" y="311.05" width="1.7" height="1.7" fill="#ff1a2a"/>
<rect x="247.65" y="311.05" width="1.7" height="1.7" fill="#ff1a2a"/>
<rect x="248.75" y="311.05" width="1.7" height="1.7" fill="#ff1a2a"/>
<rect x="249.85" y="311.05" width="1.7" height="1.7" fill="#ff1a2a"/>
<rect x="250.95" y="311.05" width="1.7" height="1.7" fill="#ff1a2a"/>
<rect x="206.15" y="315.35" width="1.7" height="1.7" fill="#ff1a2a"/>
<rect x="207.25" y="315.35" width="1.7" height="1.7" fill="#ff1a2a"/>
<rect x="208.35" y="315.35" width="1.7" height="1.7" fill="#ff1a2a"/>
<rect x="209.45" y="315.35" width="1.7" height="1.7" fill="#ff1a2a"/>
<rect x="210.55" y="315.35" width="1.7" height="1.7" fill="#ff1a2a"/>
<rect x="211.65" y="315.35" width="1.7" height="1.7" fill="#ff1a2a"/>
<rect x="212.75" y="315.35" width="1.7" height="1.7" fill="#ff1a2a"/>
<rect x="213.85" y="315.35" width="1.7" height="1.7" fill="#ff1a2a"/>
<rect x="214.95" y="315.35" width="1.7" height="1.7" fill="#ff1a2a"/>
<rect x="216.05" y="315.35" width="1.7" height="1.7" fill="#ff1a2a"/>
<rect x="217.15" y="315.35" width="1.7" height="1.7" fill="#ff1a2a"/>
<rect x="218.25" y="315.35" width="1.7" height="1.7" fill="#ff1a2a"/>
<rect x="219.35" y="315.35" width="1.7" height="1.7" fill="#ff1a2a"/>
<rect x="220.45" y="315.35" width="1.7" height="1.7" fill="#ff1a2a"/>
<rect x="221.55" y="315.35" width="1.7" height="1.7" fill="#ff1a2a"/>
<rect x="222.65" y="315.35" width="1.7" height="1.7" fill="#ff1a2a"/>
<rect x="223.75" y="315.35" width="1.7" height="1.7" fill="#ff1a2a"/>
<rect x="224.85" y="315.35" width="1.7" height="1.7" fill="#ff1a2a"/>
<rect x="225.95" y="315.35" width="1.7" height="1.7" fill="#ff1a2a"/>
<rect x="227.05" y="315.35" width="1.7" height="1.7" fill="#ff1a2a"/>
<rect x="228.15" y="315.35" width="1.7" height="1.7" fill="#ff1a2a"/>
<rect x="229.25" y="315.35" width="1.7" height="1.7" fill="#ff1a2a"/>
<rect x="230.35" y="315.35" width="1.7" height="1.7" fill="#ff1a2a"/>
<rect x="231.45" y="315.35" width="1.7" height="1.7" fill="#ff1a2a"/>
<rect x="232.55" y="315.35" width="1.7" height="1.7" fill="#ff1a2a"/>
<rect x="233.65" y="315.35" width="1.7" height="1.7" fill="#ff1a2a"/>
<rect x="234.75" y="315.35" width="1.7" height="1.7" fill="#ff1a2a"/>
<rect x="235.85" y="315.35" width="1.7" height="1.7" fill="#ff1a2a"/>
<rect x="236.95" y="315.35" width="1.7" height="1.7" fill="#ff1a2a"/>
<rect x="238.05" y="315.35" width="1.7" height="1.7" fill="#ff1a2a"/>
<rect x="239.15" y="315.35" width="1.7" height="1.7" fill="#ff1a2a"/>
<rect x="240.25" y="315.35" width="1.7" height="1.7" fill="#ff1a2a"/>
<rect x="241.35" y="315.35" width="1.7" height="1.7" fill="#ff1a2a"/>
<rect x="242.45" y="315.35" width="1.7" height="1.7" fill="#ff1a2a"/>
<rect x="243.55" y="315.35" width="1.7" height="1.7" fill="#ff1a2a"/>
<rect x="244.65" y="315.35" width="1.7" height="1.7" fill="#ff1a2a"/>
<rect x="246.85" y="315.35" width="1.7" height="1.7" fill="#ff1a2a"/>
<rect x="247.95" y="315.35" width="1.7" height="1.7" fill="#ff1a2a"/>
<rect x="249.05" y="315.35" width="1.7" height="1.7" fill="#ff1a2a"/>
<rect x="250.15" y="315.35" width="1.7" height="1.7" fill="#ff1a2a"/>
<rect x="251.25" y="315.35" width="1.7" height="1.7" fill="#ff1a2a"/>
<rect x="218.65" y="323.55" width="1.7" height="1.7" fill="#ff1a2a"/>
<rect x="219.75" y="323.55" width="1.7" height="1.7" fill="#ff1a2a"/>
<rect x="220.85" y="323.55" width="1.7" height="1.7" fill="#ff1a2a"/>
<rect x="221.95" y="323.55" width="1.7" height="1.7" fill="#ff1a2a"/>
<rect x="223.05" y="323.55" width="1.7" height="1.7" fill="#ff1a2a"/>
<rect x="224.15" y="323.55" width="1.7" height="1.7" fill="#ff1a2a"/>
<rect x="225.25" y="323.55" width="1.7" height="1.7" fill="#ff1a2a"/>
<rect x="226.35" y="323.55" width="1.7" height="1.7" fill="#ff1a2a"/>
<rect x="227.45" y="323.55" width="1.7" height="1.7" fill="#ff1a2a"/>
<rect x="228.55" y="323.55" width="1.7" height="1.7" fill="#ff1a2a"/>
<rect x="229.65" y="323.55" width="1.7" height="1.7" fill="#ff1a2a"/>
<rect x="230.75" y="323.55" width="1.7" height="1.7" fill="#ff1a2a"/>
<rect x="231.85" y="323.55" width="1.7" height="1.7" fill="#ff1a2a"/>
<rect x="232.95" y="323.55" width="1.7" height="1.7" fill="#ff1a2a"/>
<rect x="234.05" y="323.55" width="1.7" height="1.7" fill="#ff1a2a"/>
<rect x="235.15" y="323.55" width="1.7" height="1.7" fill="#ff1a2a"/>
<rect x="236.25" y="323.55" width="1.7" height="1.7" fill="#ff1a2a"/>
<rect x="237.35" y="323.55" width="1.7" height="1.7" fill="#ff1a2a"/>
<rect x="238.45" y="323.55" width="1.7" height="1.7" fill="#ff1a2a"/>
<rect x="239.55" y="323.55" width="1.7" height="1.7" fill="#ff1a2a"/>
<rect x="240.65" y="323.55" width="1.7" height="1.7" fill="#ff1a2a"/>
<rect x="241.75" y="323.55" width="1.7" height="1.7" fill="#ff1a2a"/>
<rect x="242.85" y="323.55" width="1.7" height="1.7" fill="#ff1a2a"/>
<rect x="243.95" y="323.55" width="1.7" height="1.7" fill="#ff1a2a"/>
<rect x="245.05" y="323.55" width="1.7" height="1.7" fill="#ff1a2a"/>
<rect x="246.15" y="323.55" width="1.7" height="1.7" fill="#ff1a2a"/>
<rect x="247.25" y="323.55" width="1.7" height="1.7" fill="#ff1a2a"/>
<rect x="248.35" y="323.55" width="1.7" height="1.7" fill="#ff1a2a"/>
<rect x="249.45" y="323.55" width="1.7" height="1.7" fill="#ff1a2a"/>
<rect x="250.55" y="323.55" width="1.7" height="1.7" fill="#ff1a2a"/>
<rect x="230.62" y="305.05" width="1.5" height="1.5" fill="#111"/>
<rect x="220.28" y="305.05" width="1.5" height="1.5" fill="#111"/>
<rect x="240.95" y="305.05" width="1.5" height="1.5" fill="#111"/>
<rect x="212.58" y="307.95" width="1.5" height="1.5" fill="#111"/>
<rect x="205.11" y="307.95" width="1.5" height="1.5" fill="#111"/>
<rect x="213.98" y="307.95" width="1.5" height="1.5" fill="#111"/>
<rect x="210.82" y="311.15" width="1.5" height="1.5" fill="#111"/>
<rect x="242.11" y="311.15" width="1.5" height="1.5" fill="#111"/>
<rect x="233.88" y="311.15" width="1.5" height="1.5" fill="#111"/>
<rect x="226.17" y="315.45" width="1.5" height="1.5" fill="#111"/>
<rect x="212.35" y="315.45" width="1.5" height="1.5" fill="#111"/>
<rect x="232.21" y="315.45" width="1.5" height="1.5" fill="#111"/>
<rect x="224.33" y="323.65" width="1.5" height="1.5" fill="#111"/>
<rect x="238.71" y="323.65" width="1.5" height="1.5" fill="#111"/>
<rect x="242.48" y="323.65" width="1.5" height="1.5" fill="#111"/>
<rect x="211.25" y="323.65" width="1.5" height="1.5" fill="#111"/>
<rect x="216.25" y="323.65" width="1.5" height="1.5" fill="#111"/>
<rect x="160.75" y="248.55" width="1.5" height="1.5" fill="#111"/>
<rect x="168.25" y="257.13" width="1.5" height="1.5" fill="#111"/>
<rect x="175.75" y="264.67" width="1.5" height="1.5" fill="#111"/>
<rect x="183.25" y="272.67" width="1.5" height="1.5" fill="#111"/>
<rect x="190.75" y="280.46" width="1.5" height="1.5" fill="#111"/>
<rect x="198.25" y="288.92" width="1.5" height="1.5" fill="#111"/>
<rect x="205.75" y="296.87" width="1.5" height="1.5" fill="#111"/>
<rect x="182" y="247.4" width="1.6" height="1.6" fill="#111"/>
<rect x="182" y="257.7" width="1.6" height="1.6" fill="#f0202a"/>
<text x="190" y="250.3" font-size="5.9" font-weight="bold" font-family='"Liberation Serif", serif' fill="#111">H<tspan font-size="4.6" dy="1.2">6</tspan><tspan dy="-1.2">TCPP: τ = 8.89 ns</tspan></text>
<text x="190" y="260.3" font-size="5.9" font-weight="bold" font-family='"Liberation Serif", serif' fill="#111">I: τ<tspan font-size="4.6" dy="1.2">1</tspan><tspan dy="-1.2"> = 2.90 ns, 5.77%</tspan></text>
<text x="195.8" y="269.3" font-size="5.9" font-weight="bold" font-family='"Liberation Serif", serif' fill="#111">τ<tspan font-size="4.6" dy="1.2">2</tspan><tspan dy="-1.2"> = 9.43 ns, 94.23%</tspan></text>
<rect x="285.6" y="16.1" width="112.0" height="93.6" fill="none" stroke="#4a4f55" stroke-width="0.8"/>
<line x1="285.60" y1="108.90" x2="287.10" y2="108.90" stroke="#4a4f55" stroke-width="0.6" />
<text x="283.60" y="111.10" font-size="6.5" fill="#222" font-weight="bold" font-family='"Liberation Serif", serif' text-anchor="end" font-style="normal" >25</text>
<line x1="285.60" y1="90.06" x2="287.10" y2="90.06" stroke="#4a4f55" stroke-width="0.6" />
<text x="283.60" y="92.26" font-size="6.5" fill="#222" font-weight="bold" font-family='"Liberation Serif", serif' text-anchor="end" font-style="normal" >50</text>
<line x1="285.60" y1="71.22" x2="287.10" y2="71.22" stroke="#4a4f55" stroke-width="0.6" />
<text x="283.60" y="73.42" font-size="6.5" fill="#222" font-weight="bold" font-family='"Liberation Serif", serif' text-anchor="end" font-style="normal" >75</text>
<line x1="285.60" y1="52.38" x2="287.10" y2="52.38" stroke="#4a4f55" stroke-width="0.6" />
<text x="283.60" y="54.58" font-size="6.5" fill="#222" font-weight="bold" font-family='"Liberation Serif", serif' text-anchor="end" font-style="normal" >100</text>
<line x1="285.60" y1="33.54" x2="287.10" y2="33.54" stroke="#4a4f55" stroke-width="0.6" />
<text x="283.60" y="35.74" font-size="6.5" fill="#222" font-weight="bold" font-family='"Liberation Serif", serif' text-anchor="end" font-style="normal" >125</text>
<line x1="300.70" y1="109.70" x2="300.70" y2="108.20" stroke="#4a4f55" stroke-width="0.6" />
<text x="300.70" y="119.00" font-size="6.5" fill="#222" font-weight="bold" font-family='"Liberation Serif", serif' text-anchor="middle" font-style="normal" >100</text>
<line x1="318.70" y1="109.70" x2="318.70" y2="108.20" stroke="#4a4f55" stroke-width="0.6" />
<text x="318.70" y="119.00" font-size="6.5" fill="#222" font-weight="bold" font-family='"Liberation Serif", serif' text-anchor="middle" font-style="normal" >150</text>
<line x1="336.50" y1="109.70" x2="336.50" y2="108.20" stroke="#4a4f55" stroke-width="0.6" />
<text x="336.50" y="119.00" font-size="6.5" fill="#222" font-weight="bold" font-family='"Liberation Serif", serif' text-anchor="middle" font-style="normal" >200</text>
<line x1="355.00" y1="109.70" x2="355.00" y2="108.20" stroke="#4a4f55" stroke-width="0.6" />
<text x="355.00" y="119.00" font-size="6.5" fill="#222" font-weight="bold" font-family='"Liberation Serif", serif' text-anchor="middle" font-style="normal" >250</text>
<line x1="373.80" y1="109.70" x2="373.80" y2="108.20" stroke="#4a4f55" stroke-width="0.6" />
<text x="373.80" y="119.00" font-size="6.5" fill="#222" font-weight="bold" font-family='"Liberation Serif", serif' text-anchor="middle" font-style="normal" >300</text>
<line x1="391.70" y1="109.70" x2="391.70" y2="108.20" stroke="#4a4f55" stroke-width="0.6" />
<text x="391.70" y="119.00" font-size="6.5" fill="#222" font-weight="bold" font-family='"Liberation Serif", serif' text-anchor="middle" font-style="normal" >350</text>
<text transform="translate(270.3,62.8) rotate(-90)" font-size="7.7" font-weight="bold" font-family='"Liberation Serif", serif' text-anchor="middle" fill="#111">Current density (μA cm<tspan font-size="5.5" dy="-3">-2</tspan><tspan dy="3">)</tspan></text>
<text x="339.00" y="127.60" font-size="8.4" fill="#111" font-weight="bold" font-family='"Liberation Serif", serif' text-anchor="middle" font-style="normal" >Time (Second)</text>
<polyline points="286.10,98.90 297.00,98.90 297.00,41.00 297.80,51.86 298.60,58.45 299.40,62.44 300.20,64.86 301.00,66.33 301.80,67.23 302.60,67.77 303.40,68.09 304.20,68.29 305.00,68.41 305.80,68.49 306.60,68.53 307.40,68.56 308.20,68.57 308.21,100.00 310.20,99.40 319.30,99.40 319.30,49.00 320.11,57.72 320.91,62.98 321.72,66.16 322.53,68.08 323.34,69.23 324.14,69.93 324.95,70.36 325.76,70.61 326.56,70.77 327.37,70.86 328.18,70.91 328.99,70.95 329.79,70.97 330.60,70.98 330.61,100.00 332.60,99.40 341.50,99.40 341.50,52.80 342.29,60.03 343.09,64.43 343.88,67.12 344.67,68.75 345.46,69.75 346.26,70.35 347.05,70.72 347.84,70.95 348.64,71.09 349.43,71.17 350.22,71.22 351.01,71.25 351.81,71.27 352.60,71.28 352.61,100.00 354.60,99.40 363.80,99.40 363.80,54.50 364.60,61.39 365.40,65.56 366.20,68.10 367.00,69.63 367.80,70.56 368.60,71.13 369.40,71.47 370.20,71.68 371.00,71.81 371.80,71.88 372.60,71.93 373.40,71.96 374.20,71.97 375.00,71.98 375.01,100.00 377.00,99.40 386.00,99.40 386.00,55.00 386.83,62.07 387.66,66.29 388.49,68.80 389.31,70.29 390.14,71.19 390.97,71.72 391.80,72.03 392.63,72.22 393.46,72.33 394.29,72.40 395.11,72.44 395.94,72.46 396.77,72.48 397.60,72.49" stroke="#222" fill="none" stroke-width="1.05" stroke-linejoin="round"/>
<polyline points="286.10,99.80 297.00,99.80 297.00,66.90 297.80,74.14 298.60,78.53 299.40,81.19 300.20,82.81 301.00,83.79 301.80,84.38 302.60,84.74 303.40,84.96 304.20,85.10 305.00,85.18 305.80,85.22 306.60,85.25 307.40,85.27 308.20,85.28 308.21,100.50 310.20,99.90 319.30,99.90 319.30,78.00 320.11,81.49 320.91,83.59 321.72,84.86 322.53,85.63 323.34,86.09 324.14,86.37 324.95,86.54 325.76,86.64 326.56,86.71 327.37,86.74 328.18,86.77 328.99,86.78 329.79,86.79 330.60,86.79 330.61,100.50 332.60,99.90 341.50,99.90 341.50,80.00 342.29,82.66 343.09,84.28 343.88,85.26 344.67,85.86 345.46,86.23 346.26,86.45 347.05,86.59 347.84,86.67 348.64,86.72 349.43,86.75 350.22,86.77 351.01,86.78 351.81,86.79 352.60,86.79 352.61,100.50 354.60,99.90 363.80,99.90 363.80,80.50 364.60,83.14 365.40,84.74 366.20,85.71 367.00,86.29 367.80,86.65 368.60,86.87 369.40,87.00 370.20,87.08 371.00,87.13 371.80,87.15 372.60,87.17 373.40,87.18 374.20,87.19 375.00,87.19 375.01,100.50 377.00,99.90 386.00,99.90 386.00,81.00 386.83,83.51 387.66,85.00 388.49,85.89 389.31,86.42 390.14,86.73 390.97,86.92 391.80,87.03 392.63,87.10 393.46,87.14 394.29,87.17 395.11,87.18 395.94,87.19 396.77,87.19 397.60,87.20" stroke="#f03c50" fill="none" stroke-width="1.05" stroke-linejoin="round"/>
<polyline points="286.10,97.70 297.00,97.70 297.00,88.90 297.80,91.14 298.60,92.50 299.40,93.33 300.20,93.83 301.00,94.13 301.80,94.32 302.60,94.43 303.40,94.50 304.20,94.54 305.00,94.56 305.80,94.58 306.60,94.59 307.40,94.59 308.20,94.59 308.21,99.60 310.20,99.00 319.30,99.00 319.30,92.50 320.11,93.73 320.91,94.47 321.72,94.92 322.53,95.19 323.34,95.35 324.14,95.45 324.95,95.51 325.76,95.55 326.56,95.57 327.37,95.58 328.18,95.59 328.99,95.59 329.79,95.60 330.60,95.60 330.61,99.60 332.60,99.00 341.50,99.00 341.50,93.00 342.29,94.17 343.09,94.89 343.88,95.32 344.67,95.59 345.46,95.75 346.26,95.85 347.05,95.91 347.84,95.94 348.64,95.97 349.43,95.98 350.22,95.99 351.01,95.99 351.81,96.00 352.60,96.00 352.61,99.60 354.60,99.00 363.80,99.00 363.80,93.20 364.60,94.46 365.40,95.22 366.20,95.69 367.00,95.97 367.80,96.14 368.60,96.24 369.40,96.30 370.20,96.34 371.00,96.36 371.80,96.38 372.60,96.39 373.40,96.39 374.20,96.40 375.00,96.40 375.01,99.60 377.00,99.00 386.00,99.00 386.00,93.50 386.83,94.75 387.66,95.50 388.49,95.94 389.31,96.21 390.14,96.37 390.97,96.46 391.80,96.52 392.63,96.55 393.46,96.57 394.29,96.58 395.11,96.59 395.94,96.59 396.77,96.60 397.60,96.60" stroke="#4a78d8" fill="none" stroke-width="1.05" stroke-linejoin="round"/>
<polyline points="286.10,101.40 297.00,101.40 297.00,100.80 297.80,100.88 298.60,100.93 299.40,100.96 300.20,100.97 301.00,100.98 301.80,100.99 302.60,100.99 303.40,101.00 304.20,101.00 305.00,101.00 305.80,101.00 306.60,101.00 307.40,101.00 308.20,101.00 308.21,102.20 310.20,101.60 319.30,101.60 319.30,100.80 320.11,100.88 320.91,100.93 321.72,100.96 322.53,100.97 323.34,100.98 324.14,100.99 324.95,100.99 325.76,101.00 326.56,101.00 327.37,101.00 328.18,101.00 328.99,101.00 329.79,101.00 330.60,101.00 330.61,102.20 332.60,101.60 341.50,101.60 341.50,100.80 342.29,100.88 343.09,100.93 343.88,100.95 344.67,100.97 345.46,100.98 346.26,100.99 347.05,100.99 347.84,101.00 348.64,101.00 349.43,101.00 350.22,101.00 351.01,101.00 351.81,101.00 352.60,101.00 352.61,102.20 354.60,101.60 363.80,101.60 363.80,100.80 364.60,100.88 365.40,100.93 366.20,100.96 367.00,100.97 367.80,100.98 368.60,100.99 369.40,100.99 370.20,101.00 371.00,101.00 371.80,101.00 372.60,101.00 373.40,101.00 374.20,101.00 375.00,101.00 375.01,102.20 377.00,101.60 386.00,101.60 386.00,100.80 386.83,100.88 387.66,100.93 388.49,100.96 389.31,100.97 390.14,100.98 390.97,100.99 391.80,100.99 392.63,101.00 393.46,101.00 394.29,101.00 395.11,101.00 395.94,101.00 396.77,101.00 397.60,101.00" stroke="#30c830" fill="none" stroke-width="1.05" stroke-linejoin="round"/>
<polyline points="286.10,102.60 297.00,102.60 297.00,101.80 297.80,101.84 298.60,101.86 299.40,101.88 300.20,101.89 301.00,101.89 301.80,101.90 302.60,101.90 303.40,101.90 304.20,101.90 305.00,101.90 305.80,101.90 306.60,101.90 307.40,101.90 308.20,101.90 308.21,103.10 310.20,102.50 319.30,102.50 319.30,101.80 320.11,101.84 320.91,101.86 321.72,101.88 322.53,101.89 323.34,101.89 324.14,101.90 324.95,101.90 325.76,101.90 326.56,101.90 327.37,101.90 328.18,101.90 328.99,101.90 329.79,101.90 330.60,101.90 330.61,103.10 332.60,102.50 341.50,102.50 341.50,101.80 342.29,101.84 343.09,101.86 343.88,101.88 344.67,101.89 345.46,101.89 346.26,101.89 347.05,101.90 347.84,101.90 348.64,101.90 349.43,101.90 350.22,101.90 351.01,101.90 351.81,101.90 352.60,101.90 352.61,103.10 354.60,102.50 363.80,102.50 363.80,101.80 364.60,101.84 365.40,101.86 366.20,101.88 367.00,101.89 367.80,101.89 368.60,101.90 369.40,101.90 370.20,101.90 371.00,101.90 371.80,101.90 372.60,101.90 373.40,101.90 374.20,101.90 375.00,101.90 375.01,103.10 377.00,102.50 386.00,102.50 386.00,101.80 386.83,101.84 387.66,101.86 388.49,101.88 389.31,101.89 390.14,101.89 390.97,101.90 391.80,101.90 392.63,101.90 393.46,101.90 394.29,101.90 395.11,101.90 395.94,101.90 396.77,101.90 397.60,101.90" stroke="#a040d0" fill="none" stroke-width="1.05" stroke-linejoin="round"/>
<line x1="361.40" y1="19.30" x2="374.30" y2="19.30" stroke="#222" stroke-width="0.9" />
<text x="375.40" y="21.30" font-size="6.2" fill="#222" font-weight="bold" font-family='"Liberation Serif", serif' text-anchor="start" font-style="normal" >365 nm</text>
<line x1="361.40" y1="27.10" x2="374.30" y2="27.10" stroke="#f03c50" stroke-width="0.9" />
<text x="375.40" y="29.10" font-size="6.2" fill="#f0203a" font-weight="bold" font-family='"Liberation Serif", serif' text-anchor="start" font-style="normal" >420 nm</text>
<line x1="361.40" y1="35.40" x2="374.30" y2="35.40" stroke="#4a78d8" stroke-width="0.9" />
<text x="375.40" y="37.40" font-size="6.2" fill="#3a5ab8" font-weight="bold" font-family='"Liberation Serif", serif' text-anchor="start" font-style="normal" >520 nm</text>
<line x1="361.40" y1="43.20" x2="374.30" y2="43.20" stroke="#30c830" stroke-width="0.9" />
<text x="375.40" y="45.20" font-size="6.2" fill="#2ec82e" font-weight="bold" font-family='"Liberation Serif", serif' text-anchor="start" font-style="normal" >605 nm</text>
<line x1="361.40" y1="51.20" x2="374.30" y2="51.20" stroke="#a040d0" stroke-width="0.9" />
<text x="375.40" y="53.20" font-size="6.2" fill="#9b3fd0" font-weight="bold" font-family='"Liberation Serif", serif' text-anchor="start" font-style="normal" >730 nm</text>
<text x="298.60" y="62.00" font-size="5.8" fill="#111" font-weight="bold" font-family='"Liberation Serif", serif' text-anchor="start" font-style="normal" >Light on</text>
<text x="328.30" y="47.80" font-size="5.8" fill="#111" font-weight="bold" font-family='"Liberation Serif", serif' text-anchor="start" font-style="normal" >Light off</text>
<line x1="311.20" y1="63.50" x2="317.20" y2="91.00" stroke="#111" stroke-width="0.7" />
<polygon points="318.20,95.50 315.60,90.20 318.60,89.80" fill="#111" stroke="none" stroke-width="1" />
<line x1="337.50" y1="49.00" x2="331.80" y2="67.00" stroke="#111" stroke-width="0.7" />
<polygon points="331.00,70.50 330.60,65.80 333.40,66.60" fill="#111" stroke="none" stroke-width="1" />
<rect x="433" y="14.9" width="112.60000000000002" height="94.8" fill="none" stroke="#4a4f55" stroke-width="0.8"/>
<line x1="433.00" y1="109.70" x2="434.50" y2="109.70" stroke="#4a4f55" stroke-width="0.6" />
<text x="430.80" y="111.90" font-size="6.7" fill="#222" font-weight="bold" font-family='"Liberation Serif", serif' text-anchor="end" font-style="normal" >0</text>
<line x1="433.00" y1="96.16" x2="434.50" y2="96.16" stroke="#4a4f55" stroke-width="0.6" />
<text x="430.80" y="98.36" font-size="6.7" fill="#222" font-weight="bold" font-family='"Liberation Serif", serif' text-anchor="end" font-style="normal" >100</text>
<line x1="433.00" y1="82.62" x2="434.50" y2="82.62" stroke="#4a4f55" stroke-width="0.6" />
<text x="430.80" y="84.82" font-size="6.7" fill="#222" font-weight="bold" font-family='"Liberation Serif", serif' text-anchor="end" font-style="normal" >200</text>
<line x1="433.00" y1="69.08" x2="434.50" y2="69.08" stroke="#4a4f55" stroke-width="0.6" />
<text x="430.80" y="71.28" font-size="6.7" fill="#222" font-weight="bold" font-family='"Liberation Serif", serif' text-anchor="end" font-style="normal" >300</text>
<line x1="433.00" y1="55.54" x2="434.50" y2="55.54" stroke="#4a4f55" stroke-width="0.6" />
<text x="430.80" y="57.74" font-size="6.7" fill="#222" font-weight="bold" font-family='"Liberation Serif", serif' text-anchor="end" font-style="normal" >400</text>
<line x1="433.00" y1="42.00" x2="434.50" y2="42.00" stroke="#4a4f55" stroke-width="0.6" />
<text x="430.80" y="44.20" font-size="6.7" fill="#222" font-weight="bold" font-family='"Liberation Serif", serif' text-anchor="end" font-style="normal" >500</text>
<line x1="433.00" y1="28.46" x2="434.50" y2="28.46" stroke="#4a4f55" stroke-width="0.6" />
<text x="430.80" y="30.66" font-size="6.7" fill="#222" font-weight="bold" font-family='"Liberation Serif", serif' text-anchor="end" font-style="normal" >600</text>
<line x1="433.00" y1="14.92" x2="434.50" y2="14.92" stroke="#4a4f55" stroke-width="0.6" />
<text x="430.80" y="17.12" font-size="6.7" fill="#222" font-weight="bold" font-family='"Liberation Serif", serif' text-anchor="end" font-style="normal" >700</text>
<line x1="434.20" y1="109.70" x2="434.20" y2="108.20" stroke="#4a4f55" stroke-width="0.6" />
<text x="434.20" y="118.60" font-size="6.6" fill="#222" font-weight="bold" font-family='"Liberation Serif", serif' text-anchor="middle" font-style="normal" >0</text>
<line x1="458.94" y1="109.70" x2="458.94" y2="108.20" stroke="#4a4f55" stroke-width="0.6" />
<text x="458.94" y="118.60" font-size="6.6" fill="#222" font-weight="bold" font-family='"Liberation Serif", serif' text-anchor="middle" font-style="normal" >200</text>
<line x1="483.68" y1="109.70" x2="483.68" y2="108.20" stroke="#4a4f55" stroke-width="0.6" />
<text x="483.68" y="118.60" font-size="6.6" fill="#222" font-weight="bold" font-family='"Liberation Serif", serif' text-anchor="middle" font-style="normal" >400</text>
<line x1="508.42" y1="109.70" x2="508.42" y2="108.20" stroke="#4a4f55" stroke-width="0.6" />
<text x="508.42" y="118.60" font-size="6.6" fill="#222" font-weight="bold" font-family='"Liberation Serif", serif' text-anchor="middle" font-style="normal" >600</text>
<line x1="533.16" y1="109.70" x2="533.16" y2="108.20" stroke="#4a4f55" stroke-width="0.6" />
<text x="533.16" y="118.60" font-size="6.6" fill="#222" font-weight="bold" font-family='"Liberation Serif", serif' text-anchor="middle" font-style="normal" >800</text>
<line x1="446.57" y1="109.70" x2="446.57" y2="108.80" stroke="#4a4f55" stroke-width="0.5" />
<line x1="471.31" y1="109.70" x2="471.31" y2="108.80" stroke="#4a4f55" stroke-width="0.5" />
<line x1="496.05" y1="109.70" x2="496.05" y2="108.80" stroke="#4a4f55" stroke-width="0.5" />
<line x1="520.79" y1="109.70" x2="520.79" y2="108.80" stroke="#4a4f55" stroke-width="0.5" />
<text transform="translate(415.50,62.00) rotate(-90)" font-size="7.6" font-weight="bold" font-family='"Liberation Serif", serif' text-anchor="middle" fill="#111">-Z'' (Ω)</text>
<text x="487.00" y="127.20" font-size="8.4" fill="#111" font-weight="bold" font-family='"Liberation Serif", serif' text-anchor="middle" font-style="normal" >Z' (Ω)</text>
<polyline points="435.20,109.40 435.30,108.60 435.45,107.46 435.62,106.19 435.80,105.00 435.98,103.93 436.16,102.88 436.37,101.84 436.60,100.80 436.86,99.77 437.16,98.74 437.47,97.72 437.80,96.70 438.14,95.67 438.50,94.65 438.88,93.63 439.30,92.60 439.74,91.58 440.21,90.56 440.73,89.53 441.30,88.50 441.92,87.49 442.58,86.50 443.33,85.46 444.20,84.30 445.23,82.97 446.39,81.51 447.63,80.02 448.90,78.60 450.19,77.24 451.53,75.90 452.91,74.63 454.30,73.50 455.70,72.53 457.11,71.69 458.56,70.93 460.10,70.20 461.75,69.49 463.48,68.82 465.24,68.19 467.00,67.60 468.73,67.03 470.47,66.48 472.22,65.99 474.00,65.60 475.82,65.31 477.68,65.10 479.55,64.97 481.40,64.90 483.23,64.88 485.06,64.93 486.88,65.05 488.70,65.30 490.53,65.68 492.38,66.19 494.20,66.77 496.00,67.40 497.76,68.07 499.50,68.80 501.21,69.58 502.90,70.40 504.57,71.27 506.23,72.18 507.85,73.13 509.40,74.10 510.88,75.08 512.29,76.08 513.66,77.12 515.00,78.20 516.31,79.35 517.58,80.54 518.81,81.77 520.00,83.00 521.13,84.27 522.21,85.58 523.26,86.84 524.30,88.00 525.31,89.01 526.30,89.92 527.29,90.77 528.30,91.60 529.45,92.46 530.70,93.32 531.82,94.07 532.60,94.60" stroke="#f0203a" fill="none" stroke-width="1.2" />
<circle cx="437.80" cy="96.70" r="1.25" fill="#f0203a" />
<circle cx="439.30" cy="92.60" r="1.25" fill="#f0203a" />
<circle cx="441.30" cy="88.50" r="1.25" fill="#f0203a" />
<circle cx="444.20" cy="84.30" r="1.25" fill="#f0203a" />
<circle cx="448.90" cy="78.60" r="1.25" fill="#f0203a" />
<circle cx="454.30" cy="73.50" r="1.25" fill="#f0203a" />
<circle cx="460.10" cy="70.20" r="1.25" fill="#f0203a" />
<circle cx="467.00" cy="67.60" r="1.25" fill="#f0203a" />
<circle cx="474.00" cy="65.60" r="1.25" fill="#f0203a" />
<circle cx="481.40" cy="64.90" r="1.25" fill="#f0203a" />
<circle cx="488.70" cy="65.30" r="1.25" fill="#f0203a" />
<circle cx="496.00" cy="67.40" r="1.25" fill="#f0203a" />
<circle cx="502.90" cy="70.40" r="1.25" fill="#f0203a" />
<circle cx="509.40" cy="74.10" r="1.25" fill="#f0203a" />
<circle cx="515.00" cy="78.20" r="1.25" fill="#f0203a" />
<circle cx="520.00" cy="83.00" r="1.25" fill="#f0203a" />
<circle cx="524.30" cy="88.00" r="1.25" fill="#f0203a" />
<circle cx="528.30" cy="91.60" r="1.25" fill="#f0203a" />
<circle cx="532.60" cy="94.60" r="1.25" fill="#f0203a" />
<polyline points="435.20,109.40 435.30,108.60 435.45,107.46 435.62,106.19 435.80,105.00 435.98,103.93 436.16,102.88 436.37,101.84 436.60,100.80 436.86,99.77 437.16,98.74 437.47,97.72 437.80,96.70 438.14,95.67 438.50,94.65 438.88,93.63 439.30,92.60 439.75,91.59 440.22,90.59 440.74,89.57 441.30,88.50 441.88,87.45 442.49,86.40 443.17,85.23 444.00,83.80 444.99,82.02 446.11,79.98 447.33,77.83 448.60,75.70 449.95,73.60 451.38,71.47 452.84,69.35 454.30,67.30 455.72,65.35 457.12,63.47 458.57,61.61 460.10,59.70 461.75,57.72 463.49,55.70 465.26,53.68 467.00,51.70 468.69,49.78 470.36,47.89 472.05,46.00 473.80,44.10 475.64,42.15 477.54,40.17 479.47,38.21 481.40,36.30 483.36,34.44 485.35,32.61 487.32,30.85 489.20,29.20 490.97,27.64 492.66,26.16 494.32,24.83 496.00,23.70 497.75,22.81 499.53,22.11 501.27,21.58 502.90,21.20 504.38,20.97 505.76,20.89 507.09,20.97 508.40,21.20 509.82,21.71 511.29,22.45 512.59,23.19 513.50,23.70" stroke="#111" fill="none" stroke-width="1.1" />
<circle cx="437.80" cy="96.70" r="1.2" fill="#111" />
<circle cx="439.30" cy="92.60" r="1.2" fill="#111" />
<circle cx="441.30" cy="88.50" r="1.2" fill="#111" />
<circle cx="444.00" cy="83.80" r="1.2" fill="#111" />
<circle cx="448.60" cy="75.70" r="1.2" fill="#111" />
<circle cx="454.30" cy="67.30" r="1.2" fill="#111" />
<circle cx="460.10" cy="59.70" r="1.2" fill="#111" />
<circle cx="467.00" cy="51.70" r="1.2" fill="#111" />
<circle cx="473.80" cy="44.10" r="1.2" fill="#111" />
<circle cx="481.40" cy="36.30" r="1.2" fill="#111" />
<circle cx="489.20" cy="29.20" r="1.2" fill="#111" />
<circle cx="496.00" cy="23.70" r="1.2" fill="#111" />
<circle cx="502.90" cy="21.20" r="1.2" fill="#111" />
<circle cx="508.40" cy="21.20" r="1.2" fill="#111" />
<circle cx="513.50" cy="23.70" r="1.2" fill="#111" />
<line x1="504.00" y1="32.70" x2="515.70" y2="32.70" stroke="#111" stroke-width="0.8" />
<circle cx="509.80" cy="32.70" r="1.0" fill="#111" />
<line x1="504.00" y1="40.50" x2="515.70" y2="40.50" stroke="#f0203a" stroke-width="0.8" />
<circle cx="509.80" cy="40.50" r="1.0" fill="#f0203a" />
<text x="517.40" y="34.90" font-size="6.2" fill="#111" font-weight="bold" font-family='"Liberation Serif", serif' text-anchor="start" font-style="normal" >Light off</text>
<text x="517.40" y="42.70" font-size="6.2" fill="#111" font-weight="bold" font-family='"Liberation Serif", serif' text-anchor="start" font-style="normal" >Light on</text>
<defs><linearGradient id="gtop" x1="0" y1="162" x2="0" y2="211" gradientUnits="userSpaceOnUse"><stop offset="0" stop-color="#8e969b"/><stop offset="0.4" stop-color="#7c858b"/><stop offset="1" stop-color="#5e6870"/></linearGradient><linearGradient id="gbot" x1="0" y1="313" x2="0" y2="338" gradientUnits="userSpaceOnUse"><stop offset="0" stop-color="#4e565c"/><stop offset="0.15" stop-color="#5a6167"/><stop offset="0.3" stop-color="#6f767b"/><stop offset="0.85" stop-color="#72797e"/><stop offset="1" stop-color="#5e656a"/></linearGradient><linearGradient id="gsideL" x1="344" y1="0" x2="353" y2="0" gradientUnits="userSpaceOnUse"><stop offset="0" stop-color="#6a737a"/><stop offset="0.35" stop-color="#3e474e"/><stop offset="1" stop-color="#2f373d"/></linearGradient><linearGradient id="gsideR" x1="456" y1="0" x2="447" y2="0" gradientUnits="userSpaceOnUse"><stop offset="0" stop-color="#6a737a"/><stop offset="0.35" stop-color="#3e474e"/><stop offset="1" stop-color="#2f373d"/></linearGradient><radialGradient id="gin" cx="400" cy="262" r="46" gradientUnits="userSpaceOnUse"><stop offset="0" stop-color="#d9dadb"/><stop offset="0.55" stop-color="#e9eaea"/><stop offset="1" stop-color="#ffffff"/></radialGradient><clipPath id="ctop"><rect x="330" y="150" width="150" height="61.3"/></clipPath><clipPath id="cmidL"><rect x="330" y="211" width="70" height="100"/></clipPath><clipPath id="cmidR"><rect x="400" y="211" width="70" height="100"/></clipPath><clipPath id="cbot"><rect x="330" y="313" width="150" height="40"/></clipPath></defs>
<ellipse cx="399.8" cy="249.7" rx="55" ry="87" fill="url(#gtop)" clip-path="url(#ctop)"/>
<ellipse cx="399.8" cy="249.7" rx="55" ry="87" fill="url(#gsideL)" clip-path="url(#cmidL)"/>
<ellipse cx="399.8" cy="249.7" rx="55" ry="87" fill="url(#gsideR)" clip-path="url(#cmidR)"/>
<ellipse cx="399.8" cy="249.7" rx="55" ry="87" fill="url(#gbot)" clip-path="url(#cbot)"/>
<rect x="353.1" y="211.3" width="93.6" height="101.7" fill="#fff"/>
<rect x="362" y="233.5" width="76" height="58" rx="12" fill="url(#gin)"/>
<line x1="328.00" y1="178.60" x2="469.60" y2="178.60" stroke="#33c233" stroke-width="1.8" />
<line x1="325.80" y1="319.00" x2="469.80" y2="319.00" stroke="#33c233" stroke-width="1.8" />
<line x1="330.6" y1="190.9" x2="471.4" y2="190.9" stroke="#8a3ccc" stroke-width="1.3" stroke-dasharray="8 5.5"/>
<line x1="330.6" y1="206.6" x2="471.4" y2="206.6" stroke="#8a3ccc" stroke-width="1.3" stroke-dasharray="8 5.5"/>
<line x1="333.1" y1="184" x2="333.1" y2="314" stroke="#33c233" stroke-width="0.9" stroke-dasharray="1 0.8"/>
<polygon points="333.10,179.50 330.40,184.50 335.80,184.50" fill="#33c233" stroke="none" stroke-width="1" />
<polygon points="333.10,318.30 330.40,313.00 335.80,313.00" fill="#33c233" stroke="none" stroke-width="1" />
<line x1="300.80" y1="172.60" x2="304.30" y2="172.60" stroke="#111" stroke-width="1.0" />
<text x="306.00" y="176.20" font-size="8.8" font-weight="bold" font-style="italic" font-family='"Liberation Sans", sans-serif' fill="#111" text-anchor="start">0.52 V vs NHE</text>
<text x="451.00" y="176.10" font-size="11.2" font-weight="bold" font-style="italic" font-family='"Liberation Sans", sans-serif' fill="#111" text-anchor="start">CB</text>
<text x="453.20" y="331.20" font-size="11.4" font-weight="bold" font-style="italic" font-family='"Liberation Sans", sans-serif' fill="#111" text-anchor="start">VB</text>
<line x1="351.50" y1="186.00" x2="354.80" y2="186.00" stroke="#8a3ccc" stroke-width="1.0" />
<line x1="351.50" y1="200.20" x2="354.20" y2="200.20" stroke="#8a3ccc" stroke-width="1.0" />
<text x="356.0" y="189.3" font-size="8.7" font-weight="bold" font-style="italic" font-family='"Liberation Sans", sans-serif' fill="#8333cc" stroke="#8333cc" stroke-width="0.25">0.48 V vs NHE (CO/CO<tspan font-size="6" dy="0.6">2</tspan><tspan dy="-0.6">)</tspan></text>
<text x="356.6" y="203.6" font-size="8.7" font-weight="bold" font-style="italic" font-family='"Liberation Sans", sans-serif' fill="#8333cc" stroke="#8333cc" stroke-width="0.25">0.24 V vs NHE (CH<tspan font-size="6" dy="0.6">4</tspan><tspan dy="-0.6">/CO</tspan><tspan font-size="6" dy="0.6">2</tspan><tspan dy="-0.6">)</tspan></text>
<text x="315.40" y="222.20" font-size="8.8" font-weight="bold" font-style="italic" font-family='"Liberation Sans", sans-serif' fill="#33b833" text-anchor="start">1.76 eV</text>
<text x="378.80" y="174.80" font-size="10.5" font-weight="bold" font-family='"Liberation Sans", sans-serif' fill="#d01818">e<tspan font-size="6.51" dy="-4.41">−</tspan></text>
<text x="411.90" y="174.80" font-size="10.5" font-weight="bold" font-family='"Liberation Sans", sans-serif' fill="#d01818">e<tspan font-size="6.51" dy="-4.41">−</tspan></text>
<text x="374.50" y="227.80" font-size="10.5" font-weight="bold" font-family='"Liberation Sans", sans-serif' fill="#d01818">e<tspan font-size="6.51" dy="-4.41">−</tspan></text>
<text x="398.20" y="227.80" font-size="10.5" font-weight="bold" font-family='"Liberation Sans", sans-serif' fill="#d01818">e<tspan font-size="6.51" dy="-4.41">−</tspan></text>
<text x="418.90" y="227.80" font-size="10.5" font-weight="bold" font-family='"Liberation Sans", sans-serif' fill="#d01818">e<tspan font-size="6.51" dy="-4.41">−</tspan></text>
<text x="379.60" y="297.20" font-size="10.8" font-weight="bold" font-family='"Liberation Sans", sans-serif' fill="#cc1818">h<tspan font-size="6.70" dy="-4.54">+</tspan></text>
<text x="396.60" y="297.20" font-size="10.8" font-weight="bold" font-family='"Liberation Sans", sans-serif' fill="#cc1818">h<tspan font-size="6.70" dy="-4.54">+</tspan></text>
<text x="412.60" y="297.20" font-size="10.8" font-weight="bold" font-family='"Liberation Sans", sans-serif' fill="#cc1818">h<tspan font-size="6.70" dy="-4.54">+</tspan></text>
<text x="379.50" y="330.20" font-size="10.2" font-weight="bold" font-family='"Liberation Sans", sans-serif' fill="#c81818">h<tspan font-size="6.32" dy="-4.28">+</tspan></text>
<text x="412.20" y="330.20" font-size="10.2" font-weight="bold" font-family='"Liberation Sans", sans-serif' fill="#c81818">h<tspan font-size="6.32" dy="-4.28">+</tspan></text>
<text x="453.9" y="233.0" font-size="11.4" font-weight="bold" font-style="italic" font-family='"Liberation Sans", sans-serif' fill="#c8121c">CO<tspan font-size="7.3">2</tspan></text>
<text x="299.5" y="278.6" font-size="10.6" font-weight="bold" font-style="italic" font-family='"Liberation Sans", sans-serif' fill="#2fb52f" textLength="17.6" lengthAdjust="spacingAndGlyphs">CO</text>
<text x="299.5" y="290.8" font-size="9.6" font-weight="bold" font-style="italic" font-family='"Liberation Sans", sans-serif' fill="#2fb52f">CH<tspan font-size="5.6">4</tspan></text>
<polygon points="297.60,235.40 307.60,234.00 321.30,232.40 325.40,232.50 332.20,234.60 336.70,236.60 343.80,240.90 351.10,244.20 359.10,247.50 367.10,250.40 359.10,249.30 351.80,247.80 344.50,247.10 337.30,245.60 330.40,244.60 324.00,242.80 318.50,240.50 313.10,240.50 317.20,239.50 308.50,236.90 297.60,235.80" fill="#efda2c" stroke="none" stroke-width="1" />
<polygon points="303.00,235.20 321.30,233.40 325.40,233.50 332.00,235.50 340.00,240.00 350.00,244.60 344.00,244.80 336.00,243.30 326.00,240.20 318.00,238.20" fill="#f4e456" stroke="none" stroke-width="1" />
<line x1="333.1" y1="232" x2="333.1" y2="246" stroke="#33c233" stroke-width="0.9" stroke-dasharray="1 0.8" opacity="0.8"/>
<line x1="388.70" y1="248.29" x2="368.70" y2="228.59" stroke="#6a6f74" stroke-width="0.7" />
<line x1="387.30" y1="249.71" x2="367.30" y2="230.01" stroke="#6a6f74" stroke-width="0.7" />
<ellipse cx="382.00" cy="243.09" rx="2.6" ry="1.3" transform="rotate(-135.4 382.00 243.09)" fill="#fafafa" stroke="#6a6f74" stroke-width="0.6"/>
<ellipse cx="376.00" cy="237.18" rx="2.6" ry="1.3" transform="rotate(-135.4 376.00 237.18)" fill="#fafafa" stroke="#6a6f74" stroke-width="0.6"/>
<circle cx="368.00" cy="229.30" r="1.3" fill="#e02828" />
<line x1="411.18" y1="249.74" x2="432.68" y2="230.04" stroke="#6a6f74" stroke-width="0.7" />
<line x1="409.82" y1="248.26" x2="431.32" y2="228.56" stroke="#6a6f74" stroke-width="0.7" />
<ellipse cx="416.95" cy="243.09" rx="2.6" ry="1.3" transform="rotate(-42.5 416.95 243.09)" fill="#fafafa" stroke="#6a6f74" stroke-width="0.6"/>
<ellipse cx="423.40" cy="237.18" rx="2.6" ry="1.3" transform="rotate(-42.5 423.40 237.18)" fill="#fafafa" stroke="#6a6f74" stroke-width="0.6"/>
<circle cx="432.00" cy="229.30" r="1.3" fill="#e02828" />
<line x1="387.33" y1="274.76" x2="367.33" y2="292.76" stroke="#6a6f74" stroke-width="0.7" />
<line x1="388.67" y1="276.24" x2="368.67" y2="294.24" stroke="#6a6f74" stroke-width="0.7" />
<ellipse cx="382.00" cy="280.90" rx="2.6" ry="1.3" transform="rotate(138.0 382.00 280.90)" fill="#fafafa" stroke="#6a6f74" stroke-width="0.6"/>
<ellipse cx="376.00" cy="286.30" rx="2.6" ry="1.3" transform="rotate(138.0 376.00 286.30)" fill="#fafafa" stroke="#6a6f74" stroke-width="0.6"/>
<circle cx="368.00" cy="293.50" r="1.3" fill="#e02828" />
<line x1="409.84" y1="276.25" x2="431.34" y2="295.05" stroke="#6a6f74" stroke-width="0.7" />
<line x1="411.16" y1="274.75" x2="432.66" y2="293.55" stroke="#6a6f74" stroke-width="0.7" />
<ellipse cx="416.95" cy="281.14" rx="2.6" ry="1.3" transform="rotate(41.2 416.95 281.14)" fill="#fafafa" stroke="#6a6f74" stroke-width="0.6"/>
<ellipse cx="423.40" cy="286.78" rx="2.6" ry="1.3" transform="rotate(41.2 423.40 286.78)" fill="#fafafa" stroke="#6a6f74" stroke-width="0.6"/>
<circle cx="432.00" cy="294.30" r="1.3" fill="#e02828" />
<circle cx="393.80" cy="256.30" r="6.6" fill="#f3f3f4" stroke="#5a5f64" stroke-width="0.7"/>
<circle cx="407.00" cy="256.30" r="6.6" fill="#f3f3f4" stroke="#5a5f64" stroke-width="0.7"/>
<circle cx="393.80" cy="269.50" r="6.6" fill="#f3f3f4" stroke="#5a5f64" stroke-width="0.7"/>
<circle cx="407.00" cy="269.50" r="6.6" fill="#f3f3f4" stroke="#5a5f64" stroke-width="0.7"/>
<polygon points="400.70,241.40 405.27,244.72 403.52,250.08 397.88,250.08 396.13,244.72" fill="#f6f6f7" stroke="#4f5459" stroke-width="0.8" />
<polygon points="378.90,261.30 382.22,256.73 387.58,258.48 387.58,264.12 382.22,265.87" fill="#f6f6f7" stroke="#4f5459" stroke-width="0.8" />
<polygon points="420.60,262.00 417.28,266.57 411.92,264.82 411.92,259.18 417.28,257.43" fill="#f6f6f7" stroke="#4f5459" stroke-width="0.8" />
<polygon points="400.00,282.50 395.43,279.18 397.18,273.82 402.82,273.82 404.57,279.18" fill="#f6f6f7" stroke="#4f5459" stroke-width="0.8" />
<text x="393.7" y="259.3" font-size="7.2" font-weight="bold" font-family='"Liberation Serif", serif' fill="#9c1c4c" text-anchor="middle">Mn</text>
<polyline points="470.50,235.30 468.73,235.28 466.20,235.25 463.30,235.22 460.43,235.20 458.00,235.20 456.19,235.20 454.73,235.18 453.35,235.19 451.77,235.28 449.70,235.50 446.97,235.86 443.78,236.34 440.37,236.90 437.02,237.53 434.00,238.20 431.36,238.92 428.93,239.70 426.62,240.55 424.34,241.45 422.00,242.40 419.52,243.44 416.95,244.56 414.43,245.73 412.07,246.89 410.00,248.00 408.25,249.01 406.73,249.96 405.41,250.90 404.25,251.93 403.20,253.10 402.33,254.48 401.65,256.02 401.09,257.63 400.57,259.22 400.00,260.70 399.48,262.08 399.07,263.41 398.62,264.69 397.98,265.89 397.00,267.00 395.60,268.02 393.88,268.96 391.96,269.82 389.96,270.60 388.00,271.30 386.16,271.86 384.36,272.29 382.48,272.66 380.40,273.07 378.00,273.60 375.20,274.30 372.08,275.11 368.76,275.96 365.36,276.78 362.00,277.50 358.63,278.11 355.18,278.66 351.70,279.16 348.29,279.61 345.00,280.00 341.80,280.34 338.64,280.61 335.58,280.84 332.68,281.03 330.00,281.20 327.44,281.34 324.97,281.44 322.73,281.51 320.86,281.56 319.50,281.60" stroke="#33c233" fill="none" stroke-width="1.6" />
<polygon points="316.00,281.70 320.50,279.60 320.50,283.80" fill="#33c233" stroke="none" stroke-width="1" />
<clipPath id="pc362220"><path d="M355.0,218.1 Q355.0,213.6 359.5,213.6 L369.0,213.6 L369.0,227.6 L355.0,227.6 Z"/></clipPath>
<g clip-path="url(#pc362220)">
<rect x="355.0" y="213.6" width="14" height="14" fill="#1d8e1b"/>
<path d="M356.5,213.6 L369.0,213.6 L369.0,227.6 L368.5,227.6 L356.5,216.1 Z" fill="#3fc535"/>
<path d="M355.0,216.6 L357.5,216.79999999999998 L368.0,227.6 L355.0,227.6 Z" fill="#17781a"/>
<rect x="355.0" y="213.6" width="1.2" height="14" fill="#0a3f0a"/>
<line x1="356.80" y1="218.60" x2="356.80" y2="227.60" stroke="#126212" stroke-width="0.5"/>
<line x1="358.40" y1="220.10" x2="358.40" y2="227.60" stroke="#126212" stroke-width="0.5"/>
<line x1="360.00" y1="221.60" x2="360.00" y2="227.60" stroke="#126212" stroke-width="0.5"/>
<line x1="361.60" y1="223.10" x2="361.60" y2="227.60" stroke="#126212" stroke-width="0.5"/>
</g>
<clipPath id="pc439221"><path d="M432.0,214.5 L441.5,214.5 Q446.0,214.5 446.0,219.0 L446.0,228.5 L432.0,228.5 Z"/></clipPath>
<g clip-path="url(#pc439221)">
<rect x="432.0" y="214.5" width="14" height="14" fill="#1d8e1b"/>
<path d="M433.5,214.5 L446.0,214.5 L446.0,228.5 L445.5,228.5 L433.5,217.0 Z" fill="#3fc535"/>
<path d="M432.0,217.5 L434.5,217.7 L445.0,228.5 L432.0,228.5 Z" fill="#17781a"/>
<rect x="432.0" y="214.5" width="1.2" height="14" fill="#0a3f0a"/>
<line x1="433.80" y1="219.50" x2="433.80" y2="228.50" stroke="#126212" stroke-width="0.5"/>
<line x1="435.40" y1="221.00" x2="435.40" y2="228.50" stroke="#126212" stroke-width="0.5"/>
<line x1="437.00" y1="222.50" x2="437.00" y2="228.50" stroke="#126212" stroke-width="0.5"/>
<line x1="438.60" y1="224.00" x2="438.60" y2="228.50" stroke="#126212" stroke-width="0.5"/>
</g>
<clipPath id="pc360302"><path d="M353.9,295.9 L367.9,295.9 L367.9,309.9 L358.4,309.9 Q353.9,309.9 353.9,305.4 Z"/></clipPath>
<g clip-path="url(#pc360302)">
<rect x="353.9" y="295.9" width="14" height="14" fill="#1d8e1b"/>
<path d="M355.4,295.9 L367.9,295.9 L367.9,309.9 L367.4,309.9 L355.4,298.4 Z" fill="#3fc535"/>
<path d="M353.9,298.9 L356.4,299.09999999999997 L366.9,309.9 L353.9,309.9 Z" fill="#17781a"/>
<rect x="353.9" y="295.9" width="1.2" height="14" fill="#0a3f0a"/>
<line x1="355.70" y1="300.90" x2="355.70" y2="309.90" stroke="#126212" stroke-width="0.5"/>
<line x1="357.30" y1="302.40" x2="357.30" y2="309.90" stroke="#126212" stroke-width="0.5"/>
<line x1="358.90" y1="303.90" x2="358.90" y2="309.90" stroke="#126212" stroke-width="0.5"/>
<line x1="360.50" y1="305.40" x2="360.50" y2="309.90" stroke="#126212" stroke-width="0.5"/>
</g>
<clipPath id="pc438303"><path d="M431.3,296.2 L445.3,296.2 L445.3,305.7 Q445.3,310.2 440.8,310.2 L431.3,310.2 Z"/></clipPath>
<g clip-path="url(#pc438303)">
<rect x="431.3" y="296.2" width="14" height="14" fill="#1d8e1b"/>
<path d="M432.8,296.2 L445.3,296.2 L445.3,310.2 L444.8,310.2 L432.8,298.7 Z" fill="#3fc535"/>
<path d="M431.3,299.2 L433.8,299.4 L444.3,310.2 L431.3,310.2 Z" fill="#17781a"/>
<rect x="431.3" y="296.2" width="1.2" height="14" fill="#0a3f0a"/>
<line x1="433.10" y1="301.20" x2="433.10" y2="310.20" stroke="#126212" stroke-width="0.5"/>
<line x1="434.70" y1="302.70" x2="434.70" y2="310.20" stroke="#126212" stroke-width="0.5"/>
<line x1="436.30" y1="304.20" x2="436.30" y2="310.20" stroke="#126212" stroke-width="0.5"/>
<line x1="437.90" y1="305.70" x2="437.90" y2="310.20" stroke="#126212" stroke-width="0.5"/>
</g>
</svg>
</body></html>
